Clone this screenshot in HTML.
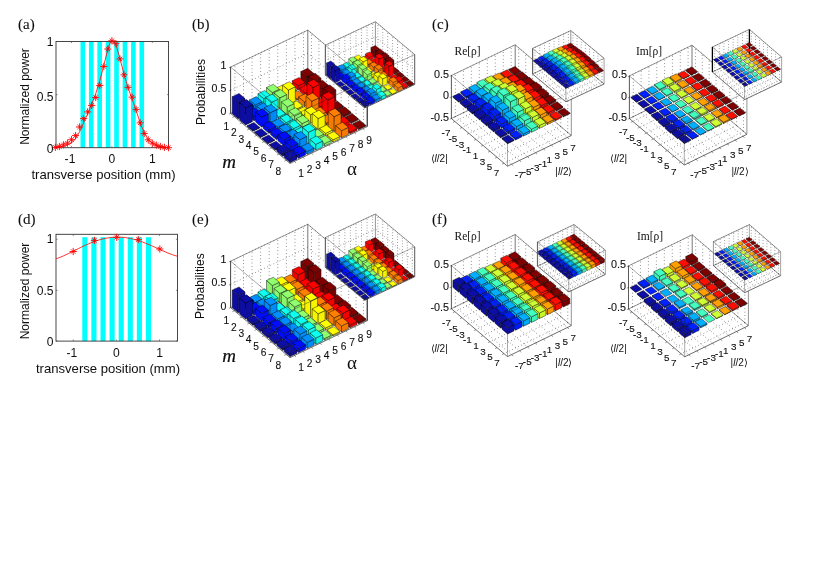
<!DOCTYPE html>
<html><head><meta charset="utf-8"><title>figure</title>
<style>html,body{margin:0;padding:0;background:#fff}svg{display:block}text{fill:#111}</style>
</head><body>
<svg width="830" height="587" viewBox="0 0 830 587">
<rect width="830" height="587" fill="#fff"/>
<defs><filter id="soft" x="0" y="0" width="830" height="587" filterUnits="userSpaceOnUse"><feGaussianBlur stdDeviation="0.38"/></filter></defs>
<g filter="url(#soft)">
<rect x="80.5" y="41.5" width="4.6" height="106.2" fill="#00ffff"/>
<rect x="88.93" y="41.5" width="4.6" height="106.2" fill="#00ffff"/>
<rect x="97.36" y="41.5" width="4.6" height="106.2" fill="#00ffff"/>
<rect x="105.79" y="41.5" width="4.6" height="106.2" fill="#00ffff"/>
<rect x="114.22" y="41.5" width="4.6" height="106.2" fill="#00ffff"/>
<rect x="122.65" y="41.5" width="4.6" height="106.2" fill="#00ffff"/>
<rect x="131.08" y="41.5" width="4.6" height="106.2" fill="#00ffff"/>
<rect x="139.51" y="41.5" width="4.6" height="106.2" fill="#00ffff"/>
<rect x="56" y="41.5" width="112.5" height="106.2" fill="none" stroke="#333" stroke-width="0.9"/>
<path d="M71.5 147.7v-1.6M71.5 41.5v1.6M111.9 147.7v-1.6M111.9 41.5v1.6M152.3 147.7v-1.6M152.3 41.5v1.6M56 41.5h1.6M168.5 41.5h-1.6M56 94.6h1.6M168.5 94.6h-1.6M56 147.7h1.6M168.5 147.7h-1.6" stroke="#444" stroke-width="0.6" fill="none"/>
<clipPath id="cp41"><rect x="56" y="38.5" width="113" height="112.2"/></clipPath>
<path d="M55.34 147.7L59.38 147.28L63.42 146.53L67.46 145.15L71.5 142.92L75.54 138.89L79.58 131.77L83.62 122.74L87.66 113.72L91.7 104.16L95.74 93.54L99.78 80.79L103.82 65.39L107.86 48.93L110.28 42.56L111.9 41.5L113.92 42.03L115.94 44.69L119.98 58.49L124.02 74.42L128.06 87.7L132.1 98.85L136.14 110.53L140.18 122.74L144.22 132.83L148.26 139.42L152.3 143.13L156.34 145.15L160.38 146.53L164.42 147.28L168.46 147.7" fill="none" stroke="#f00" stroke-width="0.8" clip-path="url(#cp41)"/>
<path d="M51.74 147.38L58.94 147.38M53.18 145.22L57.5 149.55M55.34 143.78L55.34 150.98M57.5 145.22L53.18 149.55M55.78 146.53L62.98 146.53M57.22 144.37L61.54 148.7M59.38 142.93L59.38 150.13M61.54 144.37L57.22 148.7M59.82 144.83L67.02 144.83M61.26 142.67L65.58 147M63.42 141.23L63.42 148.43M65.58 142.67L61.26 147M63.86 143.13L71.06 143.13M65.3 140.97L69.62 145.3M67.46 139.53L67.46 146.73M69.62 140.97L65.3 145.3M67.9 139.73L75.1 139.73M69.34 137.57L73.66 141.9M71.5 136.13L71.5 143.33M73.66 137.57L69.34 141.9M71.94 135.59L79.14 135.59M73.38 133.43L77.7 137.76M75.54 131.99L75.54 139.19M77.7 133.43L73.38 137.76M75.98 126.99L83.18 126.99M77.42 124.83L81.74 129.15M79.58 123.39L79.58 130.59M81.74 124.83L77.42 129.15M80.02 118.6L87.22 118.6M81.46 116.44L85.78 120.76M83.62 115L83.62 122.2M85.78 116.44L81.46 120.76M84.06 111.91L91.26 111.91M85.5 109.75L89.82 114.07M87.66 108.31L87.66 115.51M89.82 109.75L85.5 114.07M88.1 105.43L95.3 105.43M89.54 103.27L93.86 107.6M91.7 101.83L91.7 109.03M93.86 103.27L89.54 107.6M92.14 97.57L99.34 97.57M93.58 95.41L97.9 99.74M95.74 93.97L95.74 101.17M97.9 95.41L93.58 99.74M96.18 85.47L103.38 85.47M97.62 83.3L101.94 87.63M99.78 81.87L99.78 89.07M101.94 83.3L97.62 87.63M100.22 66.46L107.42 66.46M101.66 64.29L105.98 68.62M103.82 62.86L103.82 70.06M105.98 64.29L101.66 68.62M104.26 49.04L111.46 49.04M105.7 46.88L110.02 51.2M107.86 45.44L107.86 52.64M110.02 46.88L105.7 51.2M108.3 40.76L115.5 40.76M109.74 38.59L114.06 42.92M111.9 37.16L111.9 44.36M114.06 38.59L109.74 42.92M112.34 43.73L119.54 43.73M113.78 41.57L118.1 45.89M115.94 40.13L115.94 47.33M118.1 41.57L113.78 45.89M116.38 58.92L123.58 58.92M117.82 56.75L122.14 61.08M119.98 55.32L119.98 62.52M122.14 56.75L117.82 61.08M120.42 74.85L127.62 74.85M121.86 72.68L126.18 77.01M124.02 71.25L124.02 78.45M126.18 72.68L121.86 77.01M124.46 87.38L131.66 87.38M125.9 85.21L130.22 89.54M128.06 83.78L128.06 90.98M130.22 85.21L125.9 89.54M128.5 97.15L135.7 97.15M129.94 94.99L134.26 99.31M132.1 93.55L132.1 100.75M134.26 94.99L129.94 99.31M132.54 109.36L139.74 109.36M133.98 107.2L138.3 111.53M136.14 105.76L136.14 112.96M138.3 107.2L133.98 111.53M136.58 122.85L143.78 122.85M138.02 120.69L142.34 125.01M140.18 119.25L140.18 126.45M142.34 120.69L138.02 125.01M140.62 133.58L147.82 133.58M142.06 131.41L146.38 135.74M144.22 129.98L144.22 137.18M146.38 131.41L142.06 135.74M144.66 139.84L151.86 139.84M146.1 137.68L150.42 142M148.26 136.24L148.26 143.44M150.42 137.68L146.1 142M148.7 143.13L155.9 143.13M150.14 140.97L154.46 145.3M152.3 139.53L152.3 146.73M154.46 140.97L150.14 145.3M152.74 145.15L159.94 145.15M154.18 142.99L158.5 147.31M156.34 141.55L156.34 148.75M158.5 142.99L154.18 147.31M156.78 146.53L163.98 146.53M158.22 144.37L162.54 148.7M160.38 142.93L160.38 150.13M162.54 144.37L158.22 148.7M160.82 147.38L168.02 147.38M162.26 145.22L166.58 149.55M164.42 143.78L164.42 150.98M166.58 145.22L162.26 149.55M164.86 147.7L172.06 147.7M166.3 145.54L170.62 149.86M168.46 144.1L168.46 151.3M170.62 145.54L166.3 149.86" fill="none" stroke="#f00" stroke-width="0.9"/>
<text x="70" y="163" font-size="12.1" text-anchor="middle" font-family="'Liberation Sans',sans-serif" >-1</text>
<text x="111.9" y="163" font-size="12.1" text-anchor="middle" font-family="'Liberation Sans',sans-serif" >0</text>
<text x="152.3" y="163" font-size="12.1" text-anchor="middle" font-family="'Liberation Sans',sans-serif" >1</text>
<text x="53.5" y="46.4" font-size="12.1" text-anchor="end" font-family="'Liberation Sans',sans-serif" >1</text>
<text x="53.5" y="100.5" font-size="12.1" text-anchor="end" font-family="'Liberation Sans',sans-serif" >0.5</text>
<text x="53.5" y="152.6" font-size="12.1" text-anchor="end" font-family="'Liberation Sans',sans-serif" >0</text>
<text x="103.5" y="178.5" font-size="13.1" text-anchor="middle" font-family="'Liberation Sans',sans-serif" >transverse position (mm)</text>
<text x="28.5" y="96.5" font-size="12" text-anchor="middle" font-family="'Liberation Sans',sans-serif" transform="rotate(-90 28.5 96.5)" >Normalized power</text>
<rect x="82.3" y="237.2" width="5.1" height="103.9" fill="#00ffff"/>
<rect x="91.39" y="237.2" width="5.1" height="103.9" fill="#00ffff"/>
<rect x="100.48" y="237.2" width="5.1" height="103.9" fill="#00ffff"/>
<rect x="109.57" y="237.2" width="5.1" height="103.9" fill="#00ffff"/>
<rect x="118.66" y="237.2" width="5.1" height="103.9" fill="#00ffff"/>
<rect x="127.75" y="237.2" width="5.1" height="103.9" fill="#00ffff"/>
<rect x="136.84" y="237.2" width="5.1" height="103.9" fill="#00ffff"/>
<rect x="145.93" y="237.2" width="5.1" height="103.9" fill="#00ffff"/>
<rect x="56" y="234.3" width="121.5" height="106.8" fill="none" stroke="#333" stroke-width="0.9"/>
<path d="M73.3 341.1v-1.6M73.3 234.3v1.6M116.4 341.1v-1.6M116.4 234.3v1.6M159.5 341.1v-1.6M159.5 234.3v1.6M56 239.3h1.6M177.5 239.3h-1.6M56 290.3h1.6M177.5 290.3h-1.6M56 341.1h1.6M177.5 341.1h-1.6" stroke="#444" stroke-width="0.6" fill="none"/>
<clipPath id="cp234"><rect x="56" y="231.3" width="122" height="112.8"/></clipPath>
<path d="M56 258.83L58.48 257.94L60.96 256.95L63.44 255.88L65.92 254.74L68.4 253.56L70.88 252.34L73.36 251.11L75.84 249.86L78.32 248.63L80.8 247.41L83.28 246.22L85.76 245.08L88.23 243.98L90.71 242.93L93.19 241.96L95.67 241.06L98.15 240.24L100.63 239.5L103.11 238.86L105.59 238.31L108.07 237.86L110.55 237.51L113.03 237.26L115.51 237.12L117.99 237.09L120.47 237.16L122.95 237.33L125.43 237.61L127.91 237.99L130.39 238.47L132.87 239.04L135.35 239.7L137.83 240.44L140.31 241.25L142.79 242.14L145.27 243.09L147.74 244.1L150.22 245.15L152.7 246.23L155.18 247.34L157.66 248.46L160.14 249.59L162.62 250.7L165.1 251.78L167.58 252.83L170.06 253.81L172.54 254.73L175.02 255.56L177.5 256.28" fill="none" stroke="#f00" stroke-width="0.8" clip-path="url(#cp234)"/>
<path d="M69.6 251.5L76.8 251.5M71.04 249.34L75.36 253.66M73.2 247.9L73.2 255.1M75.36 249.34L71.04 253.66M90.9 240.4L98.1 240.4M92.34 238.24L96.66 242.56M94.5 236.8L94.5 244M96.66 238.24L92.34 242.56M113.1 237.4L120.3 237.4M114.54 235.24L118.86 239.56M116.7 233.8L116.7 241M118.86 235.24L114.54 239.56M134.7 239.6L141.9 239.6M136.14 237.44L140.46 241.76M138.3 236L138.3 243.2M140.46 237.44L136.14 241.76M156.2 249L163.4 249M157.64 246.84L161.96 251.16M159.8 245.4L159.8 252.6M161.96 246.84L157.64 251.16" fill="none" stroke="#f00" stroke-width="0.9"/>
<text x="71.8" y="356.5" font-size="12.1" text-anchor="middle" font-family="'Liberation Sans',sans-serif" >-1</text>
<text x="116.4" y="356.5" font-size="12.1" text-anchor="middle" font-family="'Liberation Sans',sans-serif" >0</text>
<text x="159.5" y="356.5" font-size="12.1" text-anchor="middle" font-family="'Liberation Sans',sans-serif" >1</text>
<text x="53.5" y="242.9" font-size="12.1" text-anchor="end" font-family="'Liberation Sans',sans-serif" >1</text>
<text x="53.5" y="295.4" font-size="12.1" text-anchor="end" font-family="'Liberation Sans',sans-serif" >0.5</text>
<text x="53.5" y="346" font-size="12.1" text-anchor="end" font-family="'Liberation Sans',sans-serif" >0</text>
<text x="108" y="373" font-size="13.1" text-anchor="middle" font-family="'Liberation Sans',sans-serif" >transverse position (mm)</text>
<text x="28.5" y="291" font-size="12" text-anchor="middle" font-family="'Liberation Sans',sans-serif" transform="rotate(-90 28.5 291)" >Normalized power</text>
<text x="18" y="29" font-size="15" text-anchor="start" font-family="'Liberation Serif',serif"  stroke="#000" stroke-width="0.1">(a)</text>
<text x="192" y="29" font-size="15" text-anchor="start" font-family="'Liberation Serif',serif"  stroke="#000" stroke-width="0.1">(b)</text>
<text x="432" y="29" font-size="15" text-anchor="start" font-family="'Liberation Serif',serif"  stroke="#000" stroke-width="0.1">(c)</text>
<text x="18" y="224.3" font-size="15" text-anchor="start" font-family="'Liberation Serif',serif"  stroke="#000" stroke-width="0.1">(d)</text>
<text x="192" y="224.3" font-size="15" text-anchor="start" font-family="'Liberation Serif',serif"  stroke="#000" stroke-width="0.1">(e)</text>
<text x="432" y="224.3" font-size="15" text-anchor="start" font-family="'Liberation Serif',serif"  stroke="#000" stroke-width="0.1">(f)</text>
<polygon points="230.6,113.45 290,163.45 367.2,126.55 367.2,80.15 307.8,30.15 230.6,67.05" fill="#fff" stroke="none"/>
<path d="M234.89 111.4L234.89 65M234.89 111.4L294.29 161.4M243.47 107.3L243.47 60.9M243.47 107.3L302.87 157.3M252.04 103.2L252.04 56.8M252.04 103.2L311.44 153.2M260.62 99.1L260.62 52.7M260.62 99.1L320.02 149.1M269.2 95L269.2 48.6M269.2 95L328.6 145M277.78 90.9L277.78 44.5M277.78 90.9L337.18 140.9M286.36 86.8L286.36 40.4M286.36 86.8L345.76 136.8M294.93 82.7L294.93 36.3M294.93 82.7L354.33 132.7M303.51 78.6L303.51 32.2M303.51 78.6L362.91 128.6M311.51 79.68L311.51 33.28M311.51 79.68L234.31 116.58M318.94 85.93L318.94 39.53M318.94 85.93L241.74 122.83M326.36 92.18L326.36 45.78M326.36 92.18L249.16 129.07M333.79 98.43L333.79 52.03M333.79 98.43L256.59 135.32M341.21 104.68L341.21 58.28M341.21 104.68L264.01 141.57M348.64 110.93L348.64 64.53M348.64 110.93L271.44 147.82M356.06 117.18L356.06 70.78M356.06 117.18L278.86 154.07M363.49 123.43L363.49 77.03M363.49 123.43L286.29 160.32M230.6 113.45L307.8 76.55L367.2 126.55M230.6 90.25L307.8 53.35L367.2 103.35M230.6 67.05L307.8 30.15L367.2 80.15" fill="none" stroke="#000" stroke-width="0.6" stroke-dasharray="0.7 2.7"/>
<path d="M230.6 67.05L307.8 30.15M307.8 30.15L367.2 80.15M230.6 113.45L307.8 76.55M307.8 76.55L367.2 126.55" fill="none" stroke="#4a4a4a" stroke-width="0.57"/>
<path d="M230.6 113.45L290 163.45M290 163.45L367.2 126.55" fill="none" stroke="#222" stroke-width="0.66"/>
<path d="M230.6 113.45L230.6 67.05" fill="none" stroke="#111" stroke-width="0.8"/>
<path d="M367.2 126.55L367.2 80.15" fill="none" stroke="#000" stroke-width="1.0"/>
<path d="M307.8 76.55L307.8 30.15" fill="none" stroke="#555" stroke-width="0.8"/>
<path d="M234.31 116.58l-1.98 0.95M241.74 122.83l-1.98 0.95M249.16 129.07l-1.98 0.95M256.59 135.32l-1.98 0.95M264.01 141.57l-1.98 0.95M271.44 147.82l-1.98 0.95M278.86 154.07l-1.98 0.95M286.29 160.32l-1.98 0.95M294.29 161.4l1.68 1.42M302.87 157.3l1.68 1.42M311.44 153.2l1.68 1.42M320.02 149.1l1.68 1.42M328.6 145l1.68 1.42M337.18 140.9l1.68 1.42M345.76 136.8l1.68 1.42M354.33 132.7l1.68 1.42M362.91 128.6l1.68 1.42M230.6 113.45l-1.59 0.76M230.6 90.25l-1.59 0.76M230.6 67.05l-1.59 0.76" fill="none" stroke="#333" stroke-width="0.5"/>
<g stroke="#000" stroke-opacity="0.85" stroke-width="0.5" stroke-linejoin="round">
<polygon points="300.82,71.59 306.76,76.59 306.76,85.87 300.82,80.87" fill="#7a0000"/>
<polygon points="306.76,76.59 313.62,73.31 313.62,82.59 306.76,85.87" fill="#7a0000"/>
<polygon points="300.82,71.59 307.68,68.31 313.62,73.31 306.76,76.59" fill="#800000"/>
<polygon points="292.24,80.79 298.18,85.79 298.18,89.97 292.24,84.97" fill="#f50000"/>
<polygon points="298.18,85.79 305.05,82.51 305.05,86.69 298.18,89.97" fill="#f50000"/>
<polygon points="292.24,80.79 299.11,77.51 305.05,82.51 298.18,85.79" fill="#ff0000"/>
<polygon points="283.67,88.14 289.61,93.14 289.61,94.07 283.67,89.07" fill="#f57a00"/>
<polygon points="289.61,93.14 296.47,89.86 296.47,90.78 289.61,94.07" fill="#f57a00"/>
<polygon points="283.67,88.14 290.53,84.86 296.47,89.86 289.61,93.14" fill="#ff8000"/>
<polygon points="275.09,88.53 281.03,93.53 281.03,98.17 275.09,93.17" fill="#f5f500"/>
<polygon points="281.03,93.53 287.89,90.25 287.89,94.89 281.03,98.17" fill="#f5f500"/>
<polygon points="275.09,88.53 281.95,85.25 287.89,90.25 281.03,93.53" fill="#ffff00"/>
<polygon points="266.51,87.52 272.45,92.52 272.45,102.27 266.51,97.27" fill="#8af56b"/>
<polygon points="272.45,92.52 279.31,89.24 279.31,98.98 272.45,102.27" fill="#8af56b"/>
<polygon points="266.51,87.52 273.37,84.24 279.31,89.24 272.45,92.52" fill="#8fff70"/>
<polygon points="257.93,93.71 263.87,98.71 263.87,106.37 257.93,101.37" fill="#0ff5e5"/>
<polygon points="263.87,98.71 270.74,95.43 270.74,103.09 263.87,106.37" fill="#0ff5e5"/>
<polygon points="257.93,93.71 264.8,90.43 270.74,95.43 263.87,98.71" fill="#10ffef"/>
<polygon points="249.36,99.9 255.3,104.9 255.3,110.47 249.36,105.47" fill="#008af5"/>
<polygon points="255.3,104.9 262.16,101.62 262.16,107.19 255.3,110.47" fill="#008af5"/>
<polygon points="249.36,99.9 256.22,96.62 262.16,101.62 255.3,104.9" fill="#008fff"/>
<polygon points="240.78,104 246.72,109 246.72,114.56 240.78,109.56" fill="#000ff5"/>
<polygon points="246.72,109 253.58,105.72 253.58,111.28 246.72,114.56" fill="#000ff5"/>
<polygon points="240.78,104 247.64,100.72 253.58,105.72 246.72,109" fill="#0010ff"/>
<polygon points="232.2,96.73 238.14,101.73 238.14,118.67 232.2,113.67" fill="#0f0fa2"/>
<polygon points="238.14,101.73 245,98.45 245,115.39 238.14,118.67" fill="#0f0fa2"/>
<polygon points="232.2,96.73 239.06,93.45 245,98.45 238.14,101.73" fill="#0f0fa8"/>
<polygon points="308.25,76.44 314.19,81.44 314.19,92.12 308.25,87.12" fill="#7a0000"/>
<polygon points="314.19,81.44 321.05,78.16 321.05,88.84 314.19,92.12" fill="#7a0000"/>
<polygon points="308.25,76.44 315.11,73.16 321.05,78.16 314.19,81.44" fill="#800000"/>
<polygon points="299.67,88.2 305.61,93.2 305.61,96.22 299.67,91.22" fill="#f50000"/>
<polygon points="305.61,93.2 312.47,89.92 312.47,92.94 305.61,96.22" fill="#f50000"/>
<polygon points="299.67,88.2 306.53,84.92 312.47,89.92 305.61,93.2" fill="#ff0000"/>
<polygon points="291.09,93.92 297.03,98.92 297.03,100.32 291.09,95.32" fill="#f57a00"/>
<polygon points="297.03,98.92 303.89,95.64 303.89,97.03 297.03,100.32" fill="#f57a00"/>
<polygon points="291.09,93.92 297.95,90.64 303.89,95.64 297.03,98.92" fill="#ff8000"/>
<polygon points="282.51,85.03 288.45,90.03 288.45,104.42 282.51,99.42" fill="#f5f500"/>
<polygon points="288.45,90.03 295.32,86.75 295.32,101.14 288.45,104.42" fill="#f5f500"/>
<polygon points="282.51,85.03 289.38,81.75 295.32,86.75 288.45,90.03" fill="#ffff00"/>
<polygon points="273.94,92.84 279.88,97.84 279.88,108.52 273.94,103.52" fill="#8af56b"/>
<polygon points="279.88,97.84 286.74,94.56 286.74,105.23 279.88,108.52" fill="#8af56b"/>
<polygon points="273.94,92.84 280.8,89.56 286.74,94.56 279.88,97.84" fill="#8fff70"/>
<polygon points="265.36,97.41 271.3,102.41 271.3,112.62 265.36,107.62" fill="#0ff5e5"/>
<polygon points="271.3,102.41 278.16,99.13 278.16,109.34 271.3,112.62" fill="#0ff5e5"/>
<polygon points="265.36,97.41 272.22,94.13 278.16,99.13 271.3,102.41" fill="#10ffef"/>
<polygon points="256.78,106.15 262.72,111.15 262.72,116.72 256.78,111.72" fill="#008af5"/>
<polygon points="262.72,111.15 269.58,107.87 269.58,113.44 262.72,116.72" fill="#008af5"/>
<polygon points="256.78,106.15 263.64,102.87 269.58,107.87 262.72,111.15" fill="#008fff"/>
<polygon points="248.2,111.17 254.14,116.17 254.14,120.81 248.2,115.81" fill="#000ff5"/>
<polygon points="254.14,116.17 261.01,112.89 261.01,117.53 254.14,120.81" fill="#000ff5"/>
<polygon points="248.2,111.17 255.07,107.89 261.01,112.89 254.14,116.17" fill="#0010ff"/>
<polygon points="239.63,102.75 245.57,107.75 245.57,124.92 239.63,119.92" fill="#0f0fa2"/>
<polygon points="245.57,107.75 252.43,104.47 252.43,121.64 245.57,124.92" fill="#0f0fa2"/>
<polygon points="239.63,102.75 246.49,99.47 252.43,104.47 245.57,107.75" fill="#0f0fa8"/>
<polygon points="315.67,83.62 321.61,88.62 321.61,98.37 315.67,93.37" fill="#7a0000"/>
<polygon points="321.61,88.62 328.47,85.34 328.47,95.09 321.61,98.37" fill="#7a0000"/>
<polygon points="315.67,83.62 322.53,80.34 328.47,85.34 321.61,88.62" fill="#800000"/>
<polygon points="307.09,82.62 313.03,87.62 313.03,102.47 307.09,97.47" fill="#f50000"/>
<polygon points="313.03,87.62 319.9,84.34 319.9,99.19 313.03,102.47" fill="#f50000"/>
<polygon points="307.09,82.62 313.96,79.34 319.9,84.34 313.03,87.62" fill="#ff0000"/>
<polygon points="298.52,96.93 304.46,101.93 304.46,106.57 298.52,101.57" fill="#f57a00"/>
<polygon points="304.46,101.93 311.32,98.64 311.32,103.28 304.46,106.57" fill="#f57a00"/>
<polygon points="298.52,96.93 305.38,93.64 311.32,98.64 304.46,101.93" fill="#ff8000"/>
<polygon points="289.94,104.27 295.88,109.27 295.88,110.67 289.94,105.67" fill="#f5f500"/>
<polygon points="295.88,109.27 302.74,105.99 302.74,107.39 295.88,110.67" fill="#f5f500"/>
<polygon points="289.94,104.27 296.8,100.99 302.74,105.99 295.88,109.27" fill="#ffff00"/>
<polygon points="281.36,101.88 287.3,106.88 287.3,114.77 281.36,109.77" fill="#8af56b"/>
<polygon points="287.3,106.88 294.16,103.6 294.16,111.48 287.3,114.77" fill="#8af56b"/>
<polygon points="281.36,101.88 288.22,98.6 294.16,103.6 287.3,106.88" fill="#8fff70"/>
<polygon points="272.78,112.01 278.72,117.01 278.72,118.87 272.78,113.87" fill="#0ff5e5"/>
<polygon points="278.72,117.01 285.59,113.73 285.59,115.59 278.72,118.87" fill="#0ff5e5"/>
<polygon points="272.78,112.01 279.65,108.73 285.59,113.73 278.72,117.01" fill="#10ffef"/>
<polygon points="264.21,107.76 270.15,112.76 270.15,122.97 264.21,117.97" fill="#008af5"/>
<polygon points="270.15,112.76 277.01,109.48 277.01,119.69 270.15,122.97" fill="#008af5"/>
<polygon points="264.21,107.76 271.07,104.48 277.01,109.48 270.15,112.76" fill="#008fff"/>
<polygon points="255.63,112.09 261.57,117.09 261.57,127.06 255.63,122.06" fill="#000ff5"/>
<polygon points="261.57,117.09 268.43,113.81 268.43,123.78 261.57,127.06" fill="#000ff5"/>
<polygon points="255.63,112.09 262.49,108.81 268.43,113.81 261.57,117.09" fill="#0010ff"/>
<polygon points="247.05,125.7 252.99,130.7 252.99,131.17 247.05,126.17" fill="#0f0fa2"/>
<polygon points="252.99,130.7 259.85,127.42 259.85,127.89 252.99,131.17" fill="#0f0fa2"/>
<polygon points="247.05,125.7 253.91,122.42 259.85,127.42 252.99,130.7" fill="#0f0fa8"/>
<polygon points="323.1,88.25 329.04,93.25 329.04,104.62 323.1,99.62" fill="#7a0000"/>
<polygon points="329.04,93.25 335.9,89.97 335.9,101.34 329.04,104.62" fill="#7a0000"/>
<polygon points="323.1,88.25 329.96,84.97 335.9,89.97 329.04,93.25" fill="#800000"/>
<polygon points="314.52,101.4 320.46,106.4 320.46,108.72 314.52,103.72" fill="#f50000"/>
<polygon points="320.46,106.4 327.32,103.12 327.32,105.44 320.46,108.72" fill="#f50000"/>
<polygon points="314.52,101.4 321.38,98.12 327.32,103.12 320.46,106.4" fill="#ff0000"/>
<polygon points="305.94,96.22 311.88,101.22 311.88,112.82 305.94,107.82" fill="#f57a00"/>
<polygon points="311.88,101.22 318.74,97.94 318.74,109.53 311.88,112.82" fill="#f57a00"/>
<polygon points="305.94,96.22 312.8,92.94 318.74,97.94 311.88,101.22" fill="#ff8000"/>
<polygon points="297.36,110.06 303.3,115.06 303.3,116.92 297.36,111.92" fill="#f5f500"/>
<polygon points="303.3,115.06 310.17,111.78 310.17,113.64 303.3,116.92" fill="#f5f500"/>
<polygon points="297.36,110.06 304.23,106.78 310.17,111.78 303.3,115.06" fill="#ffff00"/>
<polygon points="288.79,110.91 294.73,115.91 294.73,121.02 288.79,116.02" fill="#8af56b"/>
<polygon points="294.73,115.91 301.59,112.63 301.59,117.73 294.73,121.02" fill="#8af56b"/>
<polygon points="288.79,110.91 295.65,107.63 301.59,112.63 294.73,115.91" fill="#8fff70"/>
<polygon points="280.21,117.56 286.15,122.56 286.15,125.12 280.21,120.12" fill="#0ff5e5"/>
<polygon points="286.15,122.56 293.01,119.28 293.01,121.84 286.15,125.12" fill="#0ff5e5"/>
<polygon points="280.21,117.56 287.07,114.28 293.01,119.28 286.15,122.56" fill="#10ffef"/>
<polygon points="271.63,122.13 277.57,127.13 277.57,129.22 271.63,124.22" fill="#008af5"/>
<polygon points="277.57,127.13 284.43,123.85 284.43,125.94 277.57,129.22" fill="#008af5"/>
<polygon points="271.63,122.13 278.49,118.85 284.43,123.85 277.57,127.13" fill="#008fff"/>
<polygon points="263.05,124.6 268.99,129.6 268.99,133.31 263.05,128.31" fill="#000ff5"/>
<polygon points="268.99,129.6 275.86,126.32 275.86,130.03 268.99,133.31" fill="#000ff5"/>
<polygon points="263.05,124.6 269.92,121.32 275.86,126.32 268.99,129.6" fill="#0010ff"/>
<polygon points="254.48,131.95 260.42,136.95 260.42,137.42 254.48,132.42" fill="#0f0fa2"/>
<polygon points="260.42,136.95 267.28,133.67 267.28,134.13 260.42,137.42" fill="#0f0fa2"/>
<polygon points="254.48,131.95 261.34,128.67 267.28,133.67 260.42,136.95" fill="#0f0fa8"/>
<polygon points="330.52,104.47 336.46,109.47 336.46,110.87 330.52,105.87" fill="#7a0000"/>
<polygon points="336.46,109.47 343.32,106.19 343.32,107.59 336.46,110.87" fill="#7a0000"/>
<polygon points="330.52,104.47 337.38,101.19 343.32,106.19 336.46,109.47" fill="#800000"/>
<polygon points="321.94,95.12 327.88,100.12 327.88,114.97 321.94,109.97" fill="#f50000"/>
<polygon points="327.88,100.12 334.75,96.84 334.75,111.69 327.88,114.97" fill="#f50000"/>
<polygon points="321.94,95.12 328.81,91.84 334.75,96.84 327.88,100.12" fill="#ff0000"/>
<polygon points="313.37,110.35 319.31,115.35 319.31,119.07 313.37,114.07" fill="#f57a00"/>
<polygon points="319.31,115.35 326.17,112.07 326.17,115.78 319.31,119.07" fill="#f57a00"/>
<polygon points="313.37,110.35 320.23,107.07 326.17,112.07 319.31,115.35" fill="#ff8000"/>
<polygon points="304.79,109.81 310.73,114.81 310.73,123.17 304.79,118.17" fill="#f5f500"/>
<polygon points="310.73,114.81 317.59,111.53 317.59,119.89 310.73,123.17" fill="#f5f500"/>
<polygon points="304.79,109.81 311.65,106.53 317.59,111.53 310.73,114.81" fill="#ffff00"/>
<polygon points="296.21,118.55 302.15,123.55 302.15,127.27 296.21,122.27" fill="#8af56b"/>
<polygon points="302.15,123.55 309.01,120.27 309.01,123.98 302.15,127.27" fill="#8af56b"/>
<polygon points="296.21,118.55 303.07,115.27 309.01,120.27 302.15,123.55" fill="#8fff70"/>
<polygon points="287.63,123.58 293.57,128.58 293.57,131.37 287.63,126.37" fill="#0ff5e5"/>
<polygon points="293.57,128.58 300.44,125.3 300.44,128.09 293.57,131.37" fill="#0ff5e5"/>
<polygon points="287.63,123.58 294.5,120.3 300.44,125.3 293.57,128.58" fill="#10ffef"/>
<polygon points="279.06,127.22 285,132.22 285,135.47 279.06,130.47" fill="#008af5"/>
<polygon points="285,132.22 291.86,128.94 291.86,132.19 285,135.47" fill="#008af5"/>
<polygon points="279.06,127.22 285.92,123.94 291.86,128.94 285,132.22" fill="#008fff"/>
<polygon points="270.48,131.32 276.42,136.32 276.42,139.56 270.48,134.56" fill="#000ff5"/>
<polygon points="276.42,136.32 283.28,133.04 283.28,136.28 276.42,139.56" fill="#000ff5"/>
<polygon points="270.48,131.32 277.34,128.04 283.28,133.04 276.42,136.32" fill="#0010ff"/>
<polygon points="261.9,138.2 267.84,143.2 267.84,143.67 261.9,138.66" fill="#0f0fa2"/>
<polygon points="267.84,143.2 274.7,139.92 274.7,140.39 267.84,143.67" fill="#0f0fa2"/>
<polygon points="261.9,138.2 268.76,134.92 274.7,139.92 267.84,143.2" fill="#0f0fa8"/>
<polygon points="337.95,110.26 343.89,115.26 343.89,117.12 337.95,112.12" fill="#7a0000"/>
<polygon points="343.89,115.26 350.75,111.98 350.75,113.84 343.89,117.12" fill="#7a0000"/>
<polygon points="337.95,110.26 344.81,106.98 350.75,111.98 343.89,115.26" fill="#800000"/>
<polygon points="329.37,113.9 335.31,118.9 335.31,121.22 329.37,116.22" fill="#f50000"/>
<polygon points="335.31,118.9 342.17,115.62 342.17,117.94 335.31,121.22" fill="#f50000"/>
<polygon points="329.37,113.9 336.23,110.62 342.17,115.62 335.31,118.9" fill="#ff0000"/>
<polygon points="320.79,118 326.73,123 326.73,125.32 320.79,120.32" fill="#f57a00"/>
<polygon points="326.73,123 333.59,119.72 333.59,122.03 326.73,125.32" fill="#f57a00"/>
<polygon points="320.79,118 327.65,114.72 333.59,119.72 326.73,123" fill="#ff8000"/>
<polygon points="312.21,113.51 318.15,118.51 318.15,129.42 312.21,124.42" fill="#f5f500"/>
<polygon points="318.15,118.51 325.02,115.23 325.02,126.14 318.15,129.42" fill="#f5f500"/>
<polygon points="312.21,113.51 319.08,110.23 325.02,115.23 318.15,118.51" fill="#ffff00"/>
<polygon points="303.64,126.66 309.58,131.66 309.58,133.51 303.64,128.51" fill="#8af56b"/>
<polygon points="309.58,131.66 316.44,128.38 316.44,130.24 309.58,133.51" fill="#8af56b"/>
<polygon points="303.64,126.66 310.5,123.38 316.44,128.38 309.58,131.66" fill="#8fff70"/>
<polygon points="295.06,130.3 301,135.3 301,137.62 295.06,132.62" fill="#0ff5e5"/>
<polygon points="301,135.3 307.86,132.02 307.86,134.34 301,137.62" fill="#0ff5e5"/>
<polygon points="295.06,130.3 301.92,127.02 307.86,132.02 301,135.3" fill="#10ffef"/>
<polygon points="286.48,132.54 292.42,137.54 292.42,141.72 286.48,136.72" fill="#008af5"/>
<polygon points="292.42,137.54 299.28,134.26 299.28,138.44 292.42,141.72" fill="#008af5"/>
<polygon points="286.48,132.54 293.34,129.26 299.28,134.26 292.42,137.54" fill="#008fff"/>
<polygon points="277.9,134.78 283.84,139.78 283.84,145.81 277.9,140.81" fill="#000ff5"/>
<polygon points="283.84,139.78 290.71,136.5 290.71,142.53 283.84,145.81" fill="#000ff5"/>
<polygon points="277.9,134.78 284.77,131.5 290.71,136.5 283.84,139.78" fill="#0010ff"/>
<polygon points="269.33,144.45 275.27,149.45 275.27,149.92 269.33,144.91" fill="#0f0fa2"/>
<polygon points="275.27,149.45 282.13,146.17 282.13,146.63 275.27,149.92" fill="#0f0fa2"/>
<polygon points="269.33,144.45 276.19,141.17 282.13,146.17 275.27,149.45" fill="#0f0fa8"/>
<polygon points="345.37,116.97 351.31,121.97 351.31,123.37 345.37,118.37" fill="#7a0000"/>
<polygon points="351.31,121.97 358.17,118.69 358.17,120.09 351.31,123.37" fill="#7a0000"/>
<polygon points="345.37,116.97 352.23,113.69 358.17,118.69 351.31,121.97" fill="#800000"/>
<polygon points="336.79,119.68 342.73,124.68 342.73,127.47 336.79,122.47" fill="#f50000"/>
<polygon points="342.73,124.68 349.6,121.4 349.6,124.19 342.73,127.47" fill="#f50000"/>
<polygon points="336.79,119.68 343.66,116.4 349.6,121.4 342.73,124.68" fill="#ff0000"/>
<polygon points="328.22,111.72 334.16,116.72 334.16,131.56 328.22,126.57" fill="#f57a00"/>
<polygon points="334.16,116.72 341.02,113.44 341.02,128.28 334.16,131.56" fill="#f57a00"/>
<polygon points="328.22,111.72 335.08,108.44 341.02,113.44 334.16,116.72" fill="#ff8000"/>
<polygon points="319.64,128.35 325.58,133.35 325.58,135.67 319.64,130.67" fill="#f5f500"/>
<polygon points="325.58,133.35 332.44,130.06 332.44,132.38 325.58,135.67" fill="#f5f500"/>
<polygon points="319.64,128.35 326.5,125.07 332.44,130.06 325.58,133.35" fill="#ffff00"/>
<polygon points="311.06,132.44 317,137.44 317,139.76 311.06,134.76" fill="#8af56b"/>
<polygon points="317,137.44 323.86,134.17 323.86,136.49 317,139.76" fill="#8af56b"/>
<polygon points="311.06,132.44 317.92,129.17 323.86,134.17 317,137.44" fill="#8fff70"/>
<polygon points="302.48,127.27 308.42,132.27 308.42,143.87 302.48,138.87" fill="#0ff5e5"/>
<polygon points="308.42,132.27 315.29,128.99 315.29,140.59 308.42,143.87" fill="#0ff5e5"/>
<polygon points="302.48,127.27 309.35,123.99 315.29,128.99 308.42,132.27" fill="#10ffef"/>
<polygon points="293.91,134.61 299.85,139.61 299.85,147.97 293.91,142.97" fill="#008af5"/>
<polygon points="299.85,139.61 306.71,136.33 306.71,144.69 299.85,147.97" fill="#008af5"/>
<polygon points="293.91,134.61 300.77,131.33 306.71,136.33 299.85,139.61" fill="#008fff"/>
<polygon points="285.33,141.73 291.27,146.73 291.27,152.06 285.33,147.06" fill="#000ff5"/>
<polygon points="291.27,146.73 298.13,143.45 298.13,148.78 291.27,152.06" fill="#000ff5"/>
<polygon points="285.33,141.73 292.19,138.45 298.13,143.45 291.27,146.73" fill="#0010ff"/>
<polygon points="276.75,147.92 282.69,152.92 282.69,156.17 276.75,151.17" fill="#0f0fa2"/>
<polygon points="282.69,152.92 289.55,149.64 289.55,152.88 282.69,156.17" fill="#0f0fa2"/>
<polygon points="276.75,147.92 283.61,144.64 289.55,149.64 282.69,152.92" fill="#0f0fa8"/>
<polygon points="352.8,123.69 358.74,128.69 358.74,129.62 352.8,124.62" fill="#7a0000"/>
<polygon points="358.74,128.69 365.6,125.41 365.6,126.34 358.74,129.62" fill="#7a0000"/>
<polygon points="352.8,123.69 359.66,120.41 365.6,125.41 358.74,128.69" fill="#800000"/>
<polygon points="344.22,126.86 350.16,131.86 350.16,133.72 344.22,128.72" fill="#f50000"/>
<polygon points="350.16,131.86 357.02,128.58 357.02,130.44 350.16,133.72" fill="#f50000"/>
<polygon points="344.22,126.86 351.08,123.58 357.02,128.58 350.16,131.86" fill="#ff0000"/>
<polygon points="335.64,125.62 341.58,130.62 341.58,137.81 335.64,132.81" fill="#f57a00"/>
<polygon points="341.58,130.62 348.44,127.34 348.44,134.53 341.58,137.81" fill="#f57a00"/>
<polygon points="335.64,125.62 342.5,122.34 348.44,127.34 341.58,130.62" fill="#ff8000"/>
<polygon points="327.06,134.83 333,139.83 333,141.92 327.06,136.92" fill="#f5f500"/>
<polygon points="333,139.83 339.87,136.55 339.87,138.63 333,141.92" fill="#f5f500"/>
<polygon points="327.06,134.83 333.93,131.55 339.87,136.55 333,139.83" fill="#ffff00"/>
<polygon points="318.49,138.69 324.43,143.69 324.43,146.01 318.49,141.01" fill="#8af56b"/>
<polygon points="324.43,143.69 331.29,140.42 331.29,142.74 324.43,146.01" fill="#8af56b"/>
<polygon points="318.49,138.69 325.35,135.42 331.29,140.42 324.43,143.69" fill="#8fff70"/>
<polygon points="309.91,139.31 315.85,144.31 315.85,150.12 309.91,145.12" fill="#0ff5e5"/>
<polygon points="315.85,144.31 322.71,141.03 322.71,146.84 315.85,150.12" fill="#0ff5e5"/>
<polygon points="309.91,139.31 316.77,136.03 322.71,141.03 315.85,144.31" fill="#10ffef"/>
<polygon points="301.33,146.43 307.27,151.43 307.27,154.22 301.33,149.22" fill="#008af5"/>
<polygon points="307.27,151.43 314.13,148.15 314.13,150.94 307.27,154.22" fill="#008af5"/>
<polygon points="301.33,146.43 308.19,143.15 314.13,148.15 307.27,151.43" fill="#008fff"/>
<polygon points="292.75,149.37 298.69,154.37 298.69,158.31 292.75,153.31" fill="#000ff5"/>
<polygon points="298.69,154.37 305.56,151.09 305.56,155.03 298.69,158.31" fill="#000ff5"/>
<polygon points="292.75,149.37 299.62,146.09 305.56,151.09 298.69,154.37" fill="#0010ff"/>
<polygon points="284.18,153.7 290.12,158.7 290.12,162.42 284.18,157.42" fill="#0f0fa2"/>
<polygon points="290.12,158.7 296.98,155.42 296.98,159.13 290.12,162.42" fill="#0f0fa2"/>
<polygon points="284.18,153.7 291.04,150.42 296.98,155.42 290.12,158.7" fill="#0f0fa8"/>
</g>
<path d="M230.6 67.05L290 117.05M290 117.05L367.2 80.15M290 163.45L290 117.05" fill="none" stroke="#222" stroke-opacity="0.8" stroke-width="0.48"/>
<polygon points="325.4,75.2 364.7,108 414.7,84.5 414.7,54.5 375.4,21.7 325.4,45.2" fill="#fff" stroke="none"/>
<path d="M328.18 73.89L328.18 43.89M328.18 73.89L367.48 106.69M333.73 71.28L333.73 41.28M333.73 71.28L373.03 104.08M339.29 68.67L339.29 38.67M339.29 68.67L378.59 101.47M344.84 66.06L344.84 36.06M344.84 66.06L384.14 98.86M350.4 63.45L350.4 33.45M350.4 63.45L389.7 96.25M355.96 60.84L355.96 30.84M355.96 60.84L395.26 93.64M361.51 58.23L361.51 28.23M361.51 58.23L400.81 91.03M367.07 55.62L367.07 25.62M367.07 55.62L406.37 88.42M372.62 53.01L372.62 23.01M372.62 53.01L411.92 85.81M377.86 53.75L377.86 23.75M377.86 53.75L327.86 77.25M382.77 57.85L382.77 27.85M382.77 57.85L332.77 81.35M387.68 61.95L387.68 31.95M387.68 61.95L337.68 85.45M392.59 66.05L392.59 36.05M392.59 66.05L342.59 89.55M397.51 70.15L397.51 40.15M397.51 70.15L347.51 93.65M402.42 74.25L402.42 44.25M402.42 74.25L352.42 97.75M407.33 78.35L407.33 48.35M407.33 78.35L357.33 101.85M412.24 82.45L412.24 52.45M412.24 82.45L362.24 105.95M325.4 75.2L375.4 51.7L414.7 84.5M325.4 60.2L375.4 36.7L414.7 69.5M325.4 45.2L375.4 21.7L414.7 54.5" fill="none" stroke="#000" stroke-width="0.6" stroke-dasharray="0.6 2.2"/>
<path d="M325.4 45.2L375.4 21.7M375.4 21.7L414.7 54.5M325.4 75.2L375.4 51.7M375.4 51.7L414.7 84.5" fill="none" stroke="#4a4a4a" stroke-width="0.57"/>
<path d="M325.4 75.2L364.7 108M364.7 108L414.7 84.5" fill="none" stroke="#222" stroke-width="0.66"/>
<path d="M325.4 75.2L325.4 45.2" fill="none" stroke="#666" stroke-width="1.2"/>
<path d="M414.7 84.5L414.7 54.5" fill="none" stroke="#111" stroke-width="0.7"/>
<path d="M375.4 51.7L375.4 21.7" fill="none" stroke="#888" stroke-width="0.9"/>
<g stroke="#000" stroke-opacity="0.85" stroke-width="0.4" stroke-linejoin="round">
<polygon points="370.89,47.56 374.82,50.84 374.82,57.74 370.89,54.46" fill="#7a0000"/>
<polygon points="374.82,50.84 379.27,48.75 379.27,55.65 374.82,57.74" fill="#7a0000"/>
<polygon points="370.89,47.56 375.34,45.47 379.27,48.75 374.82,50.84" fill="#800000"/>
<polygon points="365.34,54.07 369.27,57.35 369.27,60.35 365.34,57.07" fill="#f50000"/>
<polygon points="369.27,57.35 373.71,55.26 373.71,58.26 369.27,60.35" fill="#f50000"/>
<polygon points="365.34,54.07 369.78,51.98 373.71,55.26 369.27,57.35" fill="#ff0000"/>
<polygon points="359.78,58.18 363.71,61.46 363.71,62.96 359.78,59.68" fill="#f57a00"/>
<polygon points="363.71,61.46 368.15,59.37 368.15,60.87 363.71,62.96" fill="#f57a00"/>
<polygon points="359.78,58.18 364.22,56.09 368.15,59.37 363.71,61.46" fill="#ff8000"/>
<polygon points="354.22,57.04 358.15,60.32 358.15,65.57 354.22,62.29" fill="#f5f500"/>
<polygon points="358.15,60.32 362.6,58.23 362.6,63.48 358.15,65.57" fill="#f5f500"/>
<polygon points="354.22,57.04 358.67,54.95 362.6,58.23 358.15,60.32" fill="#ffff00"/>
<polygon points="348.67,58.9 352.6,62.18 352.6,68.18 348.67,64.9" fill="#8af56b"/>
<polygon points="352.6,62.18 357.04,60.1 357.04,66.1 352.6,68.18" fill="#8af56b"/>
<polygon points="348.67,58.9 353.11,56.82 357.04,60.1 352.6,62.18" fill="#8fff70"/>
<polygon points="343.11,64.07 347.04,67.35 347.04,70.8 343.11,67.52" fill="#0ff5e5"/>
<polygon points="347.04,67.35 351.49,65.26 351.49,68.71 347.04,70.8" fill="#0ff5e5"/>
<polygon points="343.11,64.07 347.56,61.98 351.49,65.26 347.04,67.35" fill="#10ffef"/>
<polygon points="337.56,66.53 341.49,69.81 341.49,73.41 337.56,70.13" fill="#008af5"/>
<polygon points="341.49,69.81 345.93,67.72 345.93,71.32 341.49,73.41" fill="#008af5"/>
<polygon points="337.56,66.53 342,64.44 345.93,67.72 341.49,69.81" fill="#008fff"/>
<polygon points="332,69.14 335.93,72.42 335.93,76.02 332,72.74" fill="#000ff5"/>
<polygon points="335.93,72.42 340.38,70.33 340.38,73.93 335.93,76.02" fill="#000ff5"/>
<polygon points="332,69.14 336.45,67.05 340.38,70.33 335.93,72.42" fill="#0010ff"/>
<polygon points="326.45,63.05 330.38,66.33 330.38,78.63 326.45,75.35" fill="#0f0fa2"/>
<polygon points="330.38,66.33 334.82,64.24 334.82,76.54 330.38,78.63" fill="#0f0fa2"/>
<polygon points="326.45,63.05 330.89,60.96 334.82,64.24 330.38,66.33" fill="#0f0fa8"/>
<polygon points="375.8,51.06 379.73,54.34 379.73,61.84 375.8,58.56" fill="#7a0000"/>
<polygon points="379.73,54.34 384.18,52.25 384.18,59.75 379.73,61.84" fill="#7a0000"/>
<polygon points="375.8,51.06 380.25,48.97 384.18,52.25 379.73,54.34" fill="#800000"/>
<polygon points="370.25,60.27 374.18,63.55 374.18,64.45 370.25,61.17" fill="#f50000"/>
<polygon points="374.18,63.55 378.62,61.46 378.62,62.36 374.18,64.45" fill="#f50000"/>
<polygon points="370.25,60.27 374.69,58.18 378.62,61.46 374.18,63.55" fill="#ff0000"/>
<polygon points="364.69,61.08 368.62,64.36 368.62,67.06 364.69,63.78" fill="#f57a00"/>
<polygon points="368.62,64.36 373.07,62.27 373.07,64.97 368.62,67.06" fill="#f57a00"/>
<polygon points="364.69,61.08 369.14,58.99 373.07,62.27 368.62,64.36" fill="#ff8000"/>
<polygon points="359.14,58.59 363.07,61.87 363.07,69.67 359.14,66.39" fill="#f5f500"/>
<polygon points="363.07,61.87 367.51,59.78 367.51,67.58 363.07,69.67" fill="#f5f500"/>
<polygon points="359.14,58.59 363.58,56.5 367.51,59.78 363.07,61.87" fill="#ffff00"/>
<polygon points="353.58,62.1 357.51,65.38 357.51,72.28 353.58,69" fill="#8af56b"/>
<polygon points="357.51,65.38 361.96,63.3 361.96,70.2 357.51,72.28" fill="#8af56b"/>
<polygon points="353.58,62.1 358.03,60.02 361.96,63.3 357.51,65.38" fill="#8fff70"/>
<polygon points="348.03,66.52 351.96,69.8 351.96,74.9 348.03,71.62" fill="#0ff5e5"/>
<polygon points="351.96,69.8 356.4,67.71 356.4,72.81 351.96,74.9" fill="#0ff5e5"/>
<polygon points="348.03,66.52 352.47,64.43 356.4,67.71 351.96,69.8" fill="#10ffef"/>
<polygon points="342.47,71.23 346.4,74.51 346.4,77.51 342.47,74.23" fill="#008af5"/>
<polygon points="346.4,74.51 350.84,72.42 350.84,75.42 346.4,77.51" fill="#008af5"/>
<polygon points="342.47,71.23 346.91,69.14 350.84,72.42 346.4,74.51" fill="#008fff"/>
<polygon points="336.91,74.44 340.84,77.72 340.84,80.12 336.91,76.84" fill="#000ff5"/>
<polygon points="340.84,77.72 345.29,75.63 345.29,78.03 340.84,80.12" fill="#000ff5"/>
<polygon points="336.91,74.44 341.36,72.35 345.29,75.63 340.84,77.72" fill="#0010ff"/>
<polygon points="331.36,67.45 335.29,70.73 335.29,82.73 331.36,79.45" fill="#0f0fa2"/>
<polygon points="335.29,70.73 339.73,68.64 339.73,80.64 335.29,82.73" fill="#0f0fa2"/>
<polygon points="331.36,67.45 335.8,65.36 339.73,68.64 335.29,70.73" fill="#0f0fa8"/>
<polygon points="380.72,54.56 384.65,57.84 384.65,65.94 380.72,62.66" fill="#7a0000"/>
<polygon points="384.65,57.84 389.09,55.75 389.09,63.85 384.65,65.94" fill="#7a0000"/>
<polygon points="380.72,54.56 385.16,52.47 389.09,55.75 384.65,57.84" fill="#800000"/>
<polygon points="375.16,55.67 379.09,58.95 379.09,68.55 375.16,65.27" fill="#f50000"/>
<polygon points="379.09,58.95 383.54,56.86 383.54,66.46 379.09,68.55" fill="#f50000"/>
<polygon points="375.16,55.67 379.61,53.58 383.54,56.86 379.09,58.95" fill="#ff0000"/>
<polygon points="369.61,63.98 373.54,67.26 373.54,71.16 369.61,67.88" fill="#f57a00"/>
<polygon points="373.54,67.26 377.98,65.17 377.98,69.07 373.54,71.16" fill="#f57a00"/>
<polygon points="369.61,63.98 374.05,61.89 377.98,65.17 373.54,67.26" fill="#ff8000"/>
<polygon points="364.05,69.59 367.98,72.87 367.98,73.77 364.05,70.49" fill="#f5f500"/>
<polygon points="367.98,72.87 372.42,70.78 372.42,71.68 367.98,73.77" fill="#f5f500"/>
<polygon points="364.05,69.59 368.49,67.5 372.42,70.78 367.98,72.87" fill="#ffff00"/>
<polygon points="358.49,66.5 362.42,69.78 362.42,76.38 358.49,73.1" fill="#8af56b"/>
<polygon points="362.42,69.78 366.87,67.7 366.87,74.3 362.42,76.38" fill="#8af56b"/>
<polygon points="358.49,66.5 362.94,64.42 366.87,67.7 362.42,69.78" fill="#8fff70"/>
<polygon points="352.94,74.52 356.87,77.8 356.87,79 352.94,75.72" fill="#0ff5e5"/>
<polygon points="356.87,77.8 361.31,75.71 361.31,76.91 356.87,79" fill="#0ff5e5"/>
<polygon points="352.94,74.52 357.38,72.43 361.31,75.71 356.87,77.8" fill="#10ffef"/>
<polygon points="347.38,73.83 351.31,77.11 351.31,81.61 347.38,78.33" fill="#008af5"/>
<polygon points="351.31,77.11 355.76,75.02 355.76,79.52 351.31,81.61" fill="#008af5"/>
<polygon points="347.38,73.83 351.83,71.74 355.76,75.02 351.31,77.11" fill="#008fff"/>
<polygon points="341.83,76.14 345.76,79.42 345.76,84.22 341.83,80.94" fill="#000ff5"/>
<polygon points="345.76,79.42 350.2,77.33 350.2,82.13 345.76,84.22" fill="#000ff5"/>
<polygon points="341.83,76.14 346.27,74.05 350.2,77.33 345.76,79.42" fill="#0010ff"/>
<polygon points="336.27,83.25 340.2,86.53 340.2,86.83 336.27,83.55" fill="#0f0fa2"/>
<polygon points="340.2,86.53 344.65,84.44 344.65,84.74 340.2,86.83" fill="#0f0fa2"/>
<polygon points="336.27,83.25 340.72,81.16 344.65,84.44 340.2,86.53" fill="#0f0fa8"/>
<polygon points="385.63,58.96 389.56,62.24 389.56,70.04 385.63,66.76" fill="#7a0000"/>
<polygon points="389.56,62.24 394,60.15 394,67.95 389.56,70.04" fill="#7a0000"/>
<polygon points="385.63,58.96 390.07,56.87 394,60.15 389.56,62.24" fill="#800000"/>
<polygon points="380.07,68.17 384,71.45 384,72.65 380.07,69.37" fill="#f50000"/>
<polygon points="384,71.45 388.45,69.36 388.45,70.56 384,72.65" fill="#f50000"/>
<polygon points="380.07,68.17 384.52,66.08 388.45,69.36 384,71.45" fill="#ff0000"/>
<polygon points="374.52,66.58 378.45,69.86 378.45,75.26 374.52,71.98" fill="#f57a00"/>
<polygon points="378.45,69.86 382.89,67.77 382.89,73.17 378.45,75.26" fill="#f57a00"/>
<polygon points="374.52,66.58 378.96,64.49 382.89,67.77 378.45,69.86" fill="#ff8000"/>
<polygon points="368.96,73.69 372.89,76.97 372.89,77.87 368.96,74.59" fill="#f5f500"/>
<polygon points="372.89,76.97 377.34,74.88 377.34,75.78 372.89,77.87" fill="#f5f500"/>
<polygon points="368.96,73.69 373.41,71.6 377.34,74.88 372.89,76.97" fill="#ffff00"/>
<polygon points="363.41,71.5 367.34,74.78 367.34,80.48 363.41,77.2" fill="#8af56b"/>
<polygon points="367.34,74.78 371.78,72.7 371.78,78.4 367.34,80.48" fill="#8af56b"/>
<polygon points="363.41,71.5 367.85,69.42 371.78,72.7 367.34,74.78" fill="#8fff70"/>
<polygon points="357.85,78.62 361.78,81.9 361.78,83.1 357.85,79.82" fill="#0ff5e5"/>
<polygon points="361.78,81.9 366.23,79.81 366.23,81.01 361.78,83.1" fill="#0ff5e5"/>
<polygon points="357.85,78.62 362.3,76.53 366.23,79.81 361.78,81.9" fill="#10ffef"/>
<polygon points="352.3,80.63 356.23,83.91 356.23,85.71 352.3,82.43" fill="#008af5"/>
<polygon points="356.23,83.91 360.67,81.82 360.67,83.62 356.23,85.71" fill="#008af5"/>
<polygon points="352.3,80.63 356.74,78.54 360.67,81.82 356.23,83.91" fill="#008fff"/>
<polygon points="346.74,82.34 350.67,85.62 350.67,88.32 346.74,85.04" fill="#000ff5"/>
<polygon points="350.67,85.62 355.11,83.53 355.11,86.23 350.67,88.32" fill="#000ff5"/>
<polygon points="346.74,82.34 351.18,80.25 355.11,83.53 350.67,85.62" fill="#0010ff"/>
<polygon points="341.18,87.35 345.11,90.63 345.11,90.93 341.18,87.65" fill="#0f0fa2"/>
<polygon points="345.11,90.63 349.56,88.54 349.56,88.84 345.11,90.93" fill="#0f0fa2"/>
<polygon points="341.18,87.35 345.63,85.26 349.56,88.54 345.11,90.63" fill="#0f0fa8"/>
<polygon points="390.54,69.66 394.47,72.94 394.47,74.14 390.54,70.86" fill="#7a0000"/>
<polygon points="394.47,72.94 398.92,70.85 398.92,72.05 394.47,74.14" fill="#7a0000"/>
<polygon points="390.54,69.66 394.99,67.57 398.92,70.85 394.47,72.94" fill="#800000"/>
<polygon points="384.99,62.97 388.92,66.25 388.92,76.75 384.99,73.47" fill="#f50000"/>
<polygon points="388.92,66.25 393.36,64.16 393.36,74.66 388.92,76.75" fill="#f50000"/>
<polygon points="384.99,62.97 389.43,60.88 393.36,64.16 388.92,66.25" fill="#ff0000"/>
<polygon points="379.43,73.68 383.36,76.96 383.36,79.36 379.43,76.08" fill="#f57a00"/>
<polygon points="383.36,76.96 387.8,74.87 387.8,77.27 383.36,79.36" fill="#f57a00"/>
<polygon points="379.43,73.68 383.87,71.59 387.8,74.87 383.36,76.96" fill="#ff8000"/>
<polygon points="373.87,74.04 377.8,77.32 377.8,81.97 373.87,78.69" fill="#f5f500"/>
<polygon points="377.8,77.32 382.25,75.23 382.25,79.88 377.8,81.97" fill="#f5f500"/>
<polygon points="373.87,74.04 378.32,71.95 382.25,75.23 377.8,77.32" fill="#ffff00"/>
<polygon points="368.32,80.4 372.25,83.68 372.25,84.58 368.32,81.3" fill="#8af56b"/>
<polygon points="372.25,83.68 376.69,81.6 376.69,82.5 372.25,84.58" fill="#8af56b"/>
<polygon points="368.32,80.4 372.76,78.32 376.69,81.6 372.25,83.68" fill="#8fff70"/>
<polygon points="362.76,82.12 366.69,85.4 366.69,87.2 362.76,83.92" fill="#0ff5e5"/>
<polygon points="366.69,85.4 371.14,83.31 371.14,85.11 366.69,87.2" fill="#0ff5e5"/>
<polygon points="362.76,82.12 367.21,80.03 371.14,83.31 366.69,85.4" fill="#10ffef"/>
<polygon points="357.21,84.43 361.14,87.71 361.14,89.81 357.21,86.53" fill="#008af5"/>
<polygon points="361.14,87.71 365.58,85.62 365.58,87.72 361.14,89.81" fill="#008af5"/>
<polygon points="357.21,84.43 361.65,82.34 365.58,85.62 361.14,87.71" fill="#008fff"/>
<polygon points="351.65,86.74 355.58,90.02 355.58,92.42 351.65,89.14" fill="#000ff5"/>
<polygon points="355.58,90.02 360.03,87.93 360.03,90.33 355.58,92.42" fill="#000ff5"/>
<polygon points="351.65,86.74 356.1,84.65 360.03,87.93 355.58,90.02" fill="#0010ff"/>
<polygon points="346.1,91.45 350.03,94.73 350.03,95.03 346.1,91.75" fill="#0f0fa2"/>
<polygon points="350.03,94.73 354.47,92.64 354.47,92.94 350.03,95.03" fill="#0f0fa2"/>
<polygon points="346.1,91.45 350.54,89.36 354.47,92.64 350.03,94.73" fill="#0f0fa8"/>
<polygon points="395.45,74.06 399.38,77.34 399.38,78.24 395.45,74.96" fill="#7a0000"/>
<polygon points="399.38,77.34 403.83,75.25 403.83,76.15 399.38,78.24" fill="#7a0000"/>
<polygon points="395.45,74.06 399.9,71.97 403.83,75.25 399.38,77.34" fill="#800000"/>
<polygon points="389.9,76.67 393.83,79.95 393.83,80.85 389.9,77.57" fill="#f50000"/>
<polygon points="393.83,79.95 398.27,77.86 398.27,78.76 393.83,80.85" fill="#f50000"/>
<polygon points="389.9,76.67 394.34,74.58 398.27,77.86 393.83,79.95" fill="#ff0000"/>
<polygon points="384.34,78.38 388.27,81.66 388.27,83.46 384.34,80.18" fill="#f57a00"/>
<polygon points="388.27,81.66 392.72,79.57 392.72,81.37 388.27,83.46" fill="#f57a00"/>
<polygon points="384.34,78.38 388.79,76.29 392.72,79.57 388.27,81.66" fill="#ff8000"/>
<polygon points="378.79,75.59 382.72,78.87 382.72,86.07 378.79,82.79" fill="#f5f500"/>
<polygon points="382.72,78.87 387.16,76.78 387.16,83.98 382.72,86.07" fill="#f5f500"/>
<polygon points="378.79,75.59 383.23,73.5 387.16,76.78 382.72,78.87" fill="#ffff00"/>
<polygon points="373.23,84.5 377.16,87.78 377.16,88.68 373.23,85.4" fill="#8af56b"/>
<polygon points="377.16,87.78 381.61,85.7 381.61,86.6 377.16,88.68" fill="#8af56b"/>
<polygon points="373.23,84.5 377.68,82.42 381.61,85.7 377.16,87.78" fill="#8fff70"/>
<polygon points="367.68,86.52 371.61,89.8 371.61,91.3 367.68,88.02" fill="#0ff5e5"/>
<polygon points="371.61,89.8 376.05,87.71 376.05,89.21 371.61,91.3" fill="#0ff5e5"/>
<polygon points="367.68,86.52 372.12,84.43 376.05,87.71 371.61,89.8" fill="#10ffef"/>
<polygon points="362.12,87.93 366.05,91.21 366.05,93.91 362.12,90.63" fill="#008af5"/>
<polygon points="366.05,91.21 370.49,89.12 370.49,91.82 366.05,93.91" fill="#008af5"/>
<polygon points="362.12,87.93 366.56,85.84 370.49,89.12 366.05,91.21" fill="#008fff"/>
<polygon points="356.56,89.64 360.49,92.92 360.49,96.52 356.56,93.24" fill="#000ff5"/>
<polygon points="360.49,92.92 364.94,90.83 364.94,94.43 360.49,96.52" fill="#000ff5"/>
<polygon points="356.56,89.64 361.01,87.55 364.94,90.83 360.49,92.92" fill="#0010ff"/>
<polygon points="351.01,95.55 354.94,98.83 354.94,99.13 351.01,95.85" fill="#0f0fa2"/>
<polygon points="354.94,98.83 359.38,96.74 359.38,97.04 354.94,99.13" fill="#0f0fa2"/>
<polygon points="351.01,95.55 355.45,93.46 359.38,96.74 354.94,98.83" fill="#0f0fa8"/>
<polygon points="400.37,78.46 404.3,81.74 404.3,82.34 400.37,79.06" fill="#7a0000"/>
<polygon points="404.3,81.74 408.74,79.65 408.74,80.25 404.3,82.34" fill="#7a0000"/>
<polygon points="400.37,78.46 404.81,76.37 408.74,79.65 404.3,81.74" fill="#800000"/>
<polygon points="394.81,78.07 398.74,81.35 398.74,84.95 394.81,81.67" fill="#f50000"/>
<polygon points="398.74,81.35 403.19,79.26 403.19,82.86 398.74,84.95" fill="#f50000"/>
<polygon points="394.81,78.07 399.26,75.98 403.19,79.26 398.74,81.35" fill="#ff0000"/>
<polygon points="389.26,79.18 393.19,82.46 393.19,87.56 389.26,84.28" fill="#f57a00"/>
<polygon points="393.19,82.46 397.63,80.37 397.63,85.47 393.19,87.56" fill="#f57a00"/>
<polygon points="389.26,79.18 393.7,77.09 397.63,80.37 393.19,82.46" fill="#ff8000"/>
<polygon points="383.7,86.59 387.63,89.87 387.63,90.17 383.7,86.89" fill="#f5f500"/>
<polygon points="387.63,89.87 392.07,87.78 392.07,88.08 387.63,90.17" fill="#f5f500"/>
<polygon points="383.7,86.59 388.14,84.5 392.07,87.78 387.63,89.87" fill="#ffff00"/>
<polygon points="378.14,88.6 382.07,91.88 382.07,92.78 378.14,89.5" fill="#8af56b"/>
<polygon points="382.07,91.88 386.52,89.8 386.52,90.7 382.07,92.78" fill="#8af56b"/>
<polygon points="378.14,88.6 382.59,86.52 386.52,89.8 382.07,91.88" fill="#8fff70"/>
<polygon points="372.59,86.12 376.52,89.4 376.52,95.4 372.59,92.12" fill="#0ff5e5"/>
<polygon points="376.52,89.4 380.96,87.31 380.96,93.31 376.52,95.4" fill="#0ff5e5"/>
<polygon points="372.59,86.12 377.03,84.03 380.96,87.31 376.52,89.4" fill="#10ffef"/>
<polygon points="367.03,90.23 370.96,93.51 370.96,98.01 367.03,94.73" fill="#008af5"/>
<polygon points="370.96,93.51 375.41,91.42 375.41,95.92 370.96,98.01" fill="#008af5"/>
<polygon points="367.03,90.23 371.48,88.14 375.41,91.42 370.96,93.51" fill="#008fff"/>
<polygon points="361.48,94.04 365.41,97.32 365.41,100.62 361.48,97.34" fill="#000ff5"/>
<polygon points="365.41,97.32 369.85,95.23 369.85,98.53 365.41,100.62" fill="#000ff5"/>
<polygon points="361.48,94.04 365.92,91.95 369.85,95.23 365.41,97.32" fill="#0010ff"/>
<polygon points="355.92,99.05 359.85,102.33 359.85,103.23 355.92,99.95" fill="#0f0fa2"/>
<polygon points="359.85,102.33 364.3,100.24 364.3,101.14 359.85,103.23" fill="#0f0fa2"/>
<polygon points="355.92,99.05 360.37,96.96 364.3,100.24 359.85,102.33" fill="#0f0fa8"/>
<polygon points="405.28,82.56 409.21,85.84 409.21,86.44 405.28,83.16" fill="#7a0000"/>
<polygon points="409.21,85.84 413.65,83.75 413.65,84.35 409.21,86.44" fill="#7a0000"/>
<polygon points="405.28,82.56 409.72,80.47 413.65,83.75 409.21,85.84" fill="#800000"/>
<polygon points="399.72,84.87 403.65,88.15 403.65,89.05 399.72,85.77" fill="#f50000"/>
<polygon points="403.65,88.15 408.1,86.06 408.1,86.96 403.65,89.05" fill="#f50000"/>
<polygon points="399.72,84.87 404.17,82.78 408.1,86.06 403.65,88.15" fill="#ff0000"/>
<polygon points="394.17,84.63 398.1,87.91 398.1,91.66 394.17,88.38" fill="#f57a00"/>
<polygon points="398.1,87.91 402.54,85.82 402.54,89.57 398.1,91.66" fill="#f57a00"/>
<polygon points="394.17,84.63 398.61,82.54 402.54,85.82 398.1,87.91" fill="#ff8000"/>
<polygon points="388.61,90.69 392.54,93.97 392.54,94.27 388.61,90.99" fill="#f5f500"/>
<polygon points="392.54,93.97 396.99,91.88 396.99,92.18 392.54,94.27" fill="#f5f500"/>
<polygon points="388.61,90.69 393.06,88.6 396.99,91.88 392.54,93.97" fill="#ffff00"/>
<polygon points="383.06,92.7 386.99,95.98 386.99,96.88 383.06,93.6" fill="#8af56b"/>
<polygon points="386.99,95.98 391.43,93.9 391.43,94.8 386.99,96.88" fill="#8af56b"/>
<polygon points="383.06,92.7 387.5,90.62 391.43,93.9 386.99,95.98" fill="#8fff70"/>
<polygon points="377.5,93.22 381.43,96.5 381.43,99.5 377.5,96.22" fill="#0ff5e5"/>
<polygon points="381.43,96.5 385.88,94.41 385.88,97.41 381.43,99.5" fill="#0ff5e5"/>
<polygon points="377.5,93.22 381.95,91.13 385.88,94.41 381.43,96.5" fill="#10ffef"/>
<polygon points="371.95,96.43 375.88,99.71 375.88,102.11 371.95,98.83" fill="#008af5"/>
<polygon points="375.88,99.71 380.32,97.62 380.32,100.02 375.88,102.11" fill="#008af5"/>
<polygon points="371.95,96.43 376.39,94.34 380.32,97.62 375.88,99.71" fill="#008fff"/>
<polygon points="366.39,98.74 370.32,102.02 370.32,104.72 366.39,101.44" fill="#000ff5"/>
<polygon points="370.32,102.02 374.76,99.93 374.76,102.63 370.32,104.72" fill="#000ff5"/>
<polygon points="366.39,98.74 370.83,96.65 374.76,99.93 370.32,102.02" fill="#0010ff"/>
<polygon points="360.83,102.25 364.76,105.53 364.76,107.33 360.83,104.05" fill="#0f0fa2"/>
<polygon points="364.76,105.53 369.21,103.44 369.21,105.24 364.76,107.33" fill="#0f0fa2"/>
<polygon points="360.83,102.25 365.28,100.16 369.21,103.44 364.76,105.53" fill="#0f0fa8"/>
</g>
<path d="M325.4 45.2L364.7 78M364.7 78L414.7 54.5M364.7 108L364.7 78" fill="none" stroke="#222" stroke-opacity="0.8" stroke-width="0.48"/>
<text x="204.5" y="92" font-size="12.1" text-anchor="middle" font-family="'Liberation Sans',sans-serif" transform="rotate(-90 204.5 92)" >Probabilities</text>
<text x="226.3" y="68.9" font-size="10.6" text-anchor="end" font-family="'Liberation Sans',sans-serif"  stroke="#000" stroke-width="0.1">1</text>
<text x="226.3" y="92.2" font-size="10.6" text-anchor="end" font-family="'Liberation Sans',sans-serif"  stroke="#000" stroke-width="0.1">0.5</text>
<text x="226.3" y="115.45" font-size="10.6" text-anchor="end" font-family="'Liberation Sans',sans-serif"  stroke="#000" stroke-width="0.1">0</text>
<text x="226.4" y="130" font-size="10.2" text-anchor="middle" font-family="'Liberation Sans',sans-serif"  stroke="#000" stroke-width="0.1">1</text>
<text x="233.83" y="136.37" font-size="10.2" text-anchor="middle" font-family="'Liberation Sans',sans-serif"  stroke="#000" stroke-width="0.1">2</text>
<text x="241.26" y="142.74" font-size="10.2" text-anchor="middle" font-family="'Liberation Sans',sans-serif"  stroke="#000" stroke-width="0.1">3</text>
<text x="248.69" y="149.11" font-size="10.2" text-anchor="middle" font-family="'Liberation Sans',sans-serif"  stroke="#000" stroke-width="0.1">4</text>
<text x="256.12" y="155.48" font-size="10.2" text-anchor="middle" font-family="'Liberation Sans',sans-serif"  stroke="#000" stroke-width="0.1">5</text>
<text x="263.55" y="161.85" font-size="10.2" text-anchor="middle" font-family="'Liberation Sans',sans-serif"  stroke="#000" stroke-width="0.1">6</text>
<text x="270.98" y="168.22" font-size="10.2" text-anchor="middle" font-family="'Liberation Sans',sans-serif"  stroke="#000" stroke-width="0.1">7</text>
<text x="278.41" y="174.59" font-size="10.2" text-anchor="middle" font-family="'Liberation Sans',sans-serif"  stroke="#000" stroke-width="0.1">8</text>
<text x="301.2" y="176.7" font-size="10.2" text-anchor="middle" font-family="'Liberation Sans',sans-serif"  stroke="#000" stroke-width="0.1">1</text>
<text x="309.69" y="172.61" font-size="10.2" text-anchor="middle" font-family="'Liberation Sans',sans-serif"  stroke="#000" stroke-width="0.1">2</text>
<text x="318.18" y="168.52" font-size="10.2" text-anchor="middle" font-family="'Liberation Sans',sans-serif"  stroke="#000" stroke-width="0.1">3</text>
<text x="326.67" y="164.43" font-size="10.2" text-anchor="middle" font-family="'Liberation Sans',sans-serif"  stroke="#000" stroke-width="0.1">4</text>
<text x="335.16" y="160.34" font-size="10.2" text-anchor="middle" font-family="'Liberation Sans',sans-serif"  stroke="#000" stroke-width="0.1">5</text>
<text x="343.65" y="156.25" font-size="10.2" text-anchor="middle" font-family="'Liberation Sans',sans-serif"  stroke="#000" stroke-width="0.1">6</text>
<text x="352.14" y="152.16" font-size="10.2" text-anchor="middle" font-family="'Liberation Sans',sans-serif"  stroke="#000" stroke-width="0.1">7</text>
<text x="360.63" y="148.07" font-size="10.2" text-anchor="middle" font-family="'Liberation Sans',sans-serif"  stroke="#000" stroke-width="0.1">8</text>
<text x="369.12" y="143.98" font-size="10.2" text-anchor="middle" font-family="'Liberation Sans',sans-serif"  stroke="#000" stroke-width="0.1">9</text>
<text x="229.2" y="167.5" font-size="19" text-anchor="middle" font-family="'Liberation Serif',serif" font-style="italic"  stroke="#000" stroke-width="0.2">m</text>
<text x="352" y="174.5" font-size="19" text-anchor="middle" font-family="'Liberation Serif',serif" >α</text>
<polygon points="230.6,307.6 290,357.6 367.2,320.7 367.2,274.3 307.8,224.3 230.6,261.2" fill="#fff" stroke="none"/>
<path d="M234.89 305.55L234.89 259.15M234.89 305.55L294.29 355.55M243.47 301.45L243.47 255.05M243.47 301.45L302.87 351.45M252.04 297.35L252.04 250.95M252.04 297.35L311.44 347.35M260.62 293.25L260.62 246.85M260.62 293.25L320.02 343.25M269.2 289.15L269.2 242.75M269.2 289.15L328.6 339.15M277.78 285.05L277.78 238.65M277.78 285.05L337.18 335.05M286.36 280.95L286.36 234.55M286.36 280.95L345.76 330.95M294.93 276.85L294.93 230.45M294.93 276.85L354.33 326.85M303.51 272.75L303.51 226.35M303.51 272.75L362.91 322.75M311.51 273.83L311.51 227.43M311.51 273.83L234.31 310.73M318.94 280.08L318.94 233.68M318.94 280.08L241.74 316.98M326.36 286.33L326.36 239.93M326.36 286.33L249.16 323.23M333.79 292.58L333.79 246.18M333.79 292.58L256.59 329.48M341.21 298.83L341.21 252.43M341.21 298.83L264.01 335.73M348.64 305.08L348.64 258.68M348.64 305.08L271.44 341.98M356.06 311.33L356.06 264.93M356.06 311.33L278.86 348.23M363.49 317.58L363.49 271.18M363.49 317.58L286.29 354.48M230.6 307.6L307.8 270.7L367.2 320.7M230.6 284.4L307.8 247.5L367.2 297.5M230.6 261.2L307.8 224.3L367.2 274.3" fill="none" stroke="#000" stroke-width="0.6" stroke-dasharray="0.7 2.7"/>
<path d="M230.6 261.2L307.8 224.3M307.8 224.3L367.2 274.3M230.6 307.6L307.8 270.7M307.8 270.7L367.2 320.7" fill="none" stroke="#4a4a4a" stroke-width="0.57"/>
<path d="M230.6 307.6L290 357.6M290 357.6L367.2 320.7" fill="none" stroke="#222" stroke-width="0.66"/>
<path d="M230.6 307.6L230.6 261.2" fill="none" stroke="#111" stroke-width="0.8"/>
<path d="M367.2 320.7L367.2 274.3" fill="none" stroke="#000" stroke-width="1.0"/>
<path d="M307.8 270.7L307.8 224.3" fill="none" stroke="#555" stroke-width="0.8"/>
<path d="M234.31 310.73l-1.98 0.95M241.74 316.98l-1.98 0.95M249.16 323.23l-1.98 0.95M256.59 329.48l-1.98 0.95M264.01 335.73l-1.98 0.95M271.44 341.98l-1.98 0.95M278.86 348.23l-1.98 0.95M286.29 354.48l-1.98 0.95M294.29 355.55l1.68 1.42M302.87 351.45l1.68 1.42M311.44 347.35l1.68 1.42M320.02 343.25l1.68 1.42M328.6 339.15l1.68 1.42M337.18 335.05l1.68 1.42M345.76 330.95l1.68 1.42M354.33 326.85l1.68 1.42M362.91 322.75l1.68 1.42M230.6 307.6l-1.59 0.76M230.6 284.4l-1.59 0.76M230.6 261.2l-1.59 0.76" fill="none" stroke="#333" stroke-width="0.5"/>
<g stroke="#000" stroke-opacity="0.85" stroke-width="0.5" stroke-linejoin="round">
<polygon points="300.82,261.56 306.76,266.56 306.76,280.02 300.82,275.02" fill="#7a0000"/>
<polygon points="306.76,266.56 313.62,263.28 313.62,276.74 306.76,280.02" fill="#7a0000"/>
<polygon points="300.82,261.56 307.68,258.28 313.62,263.28 306.76,266.56" fill="#800000"/>
<polygon points="292.24,269.84 298.18,274.84 298.18,284.12 292.24,279.12" fill="#f50000"/>
<polygon points="298.18,274.84 305.05,271.56 305.05,280.84 298.18,284.12" fill="#f50000"/>
<polygon points="292.24,269.84 299.11,266.56 305.05,271.56 298.18,274.84" fill="#ff0000"/>
<polygon points="283.67,277.88 289.61,282.88 289.61,288.22 283.67,283.22" fill="#f57a00"/>
<polygon points="289.61,282.88 296.47,279.6 296.47,284.94 289.61,288.22" fill="#f57a00"/>
<polygon points="283.67,277.88 290.53,274.6 296.47,279.6 289.61,282.88" fill="#ff8000"/>
<polygon points="275.09,279.89 281.03,284.89 281.03,292.31 275.09,287.31" fill="#f5f500"/>
<polygon points="281.03,284.89 287.89,281.61 287.89,289.04 281.03,292.31" fill="#f5f500"/>
<polygon points="275.09,279.89 281.95,276.61 287.89,281.61 281.03,284.89" fill="#ffff00"/>
<polygon points="266.51,280.51 272.45,285.51 272.45,296.42 266.51,291.42" fill="#8af56b"/>
<polygon points="272.45,285.51 279.31,282.23 279.31,293.14 272.45,296.42" fill="#8af56b"/>
<polygon points="266.51,280.51 273.37,277.23 279.31,282.23 272.45,285.51" fill="#8fff70"/>
<polygon points="257.93,292.04 263.87,297.04 263.87,300.52 257.93,295.52" fill="#0ff5e5"/>
<polygon points="263.87,297.04 270.74,293.75 270.74,297.24 263.87,300.52" fill="#0ff5e5"/>
<polygon points="257.93,292.04 264.8,288.75 270.74,293.75 263.87,297.04" fill="#10ffef"/>
<polygon points="249.36,297.53 255.3,302.53 255.3,304.62 249.36,299.62" fill="#008af5"/>
<polygon points="255.3,302.53 262.16,299.25 262.16,301.34 255.3,304.62" fill="#008af5"/>
<polygon points="249.36,297.53 256.22,294.25 262.16,299.25 255.3,302.53" fill="#008fff"/>
<polygon points="240.78,299.08 246.72,304.08 246.72,308.72 240.78,303.72" fill="#000ff5"/>
<polygon points="246.72,304.08 253.58,300.8 253.58,305.44 246.72,308.72" fill="#000ff5"/>
<polygon points="240.78,299.08 247.64,295.8 253.58,300.8 246.72,304.08" fill="#0010ff"/>
<polygon points="232.2,290.18 238.14,295.18 238.14,312.81 232.2,307.81" fill="#0f0fa2"/>
<polygon points="238.14,295.18 245,291.9 245,309.54 238.14,312.81" fill="#0f0fa2"/>
<polygon points="232.2,290.18 239.06,286.9 245,291.9 238.14,295.18" fill="#0f0fa8"/>
<polygon points="308.25,267.81 314.19,272.81 314.19,286.27 308.25,281.27" fill="#7a0000"/>
<polygon points="314.19,272.81 321.05,269.53 321.05,282.99 314.19,286.27" fill="#7a0000"/>
<polygon points="308.25,267.81 315.11,264.53 321.05,269.53 314.19,272.81" fill="#800000"/>
<polygon points="299.67,281.88 305.61,286.88 305.61,290.37 299.67,285.37" fill="#f50000"/>
<polygon points="305.61,286.88 312.47,283.61 312.47,287.09 305.61,290.37" fill="#f50000"/>
<polygon points="299.67,281.88 306.53,278.61 312.47,283.61 305.61,286.88" fill="#ff0000"/>
<polygon points="291.09,284.36 297.03,289.36 297.03,294.47 291.09,289.47" fill="#f57a00"/>
<polygon points="297.03,289.36 303.89,286.08 303.89,291.19 297.03,294.47" fill="#f57a00"/>
<polygon points="291.09,284.36 297.95,281.08 303.89,286.08 297.03,289.36" fill="#ff8000"/>
<polygon points="282.51,285.91 288.45,290.91 288.45,298.56 282.51,293.56" fill="#f5f500"/>
<polygon points="288.45,290.91 295.32,287.63 295.32,295.29 288.45,298.56" fill="#f5f500"/>
<polygon points="282.51,285.91 289.38,282.63 295.32,287.63 288.45,290.91" fill="#ffff00"/>
<polygon points="273.94,288.39 279.88,293.39 279.88,302.67 273.94,297.67" fill="#8af56b"/>
<polygon points="279.88,293.39 286.74,290.11 286.74,299.39 279.88,302.67" fill="#8af56b"/>
<polygon points="273.94,288.39 280.8,285.11 286.74,290.11 279.88,293.39" fill="#8fff70"/>
<polygon points="265.36,296.2 271.3,301.2 271.3,306.77 265.36,301.77" fill="#0ff5e5"/>
<polygon points="271.3,301.2 278.16,297.92 278.16,303.49 271.3,306.77" fill="#0ff5e5"/>
<polygon points="265.36,296.2 272.22,292.92 278.16,297.92 271.3,301.2" fill="#10ffef"/>
<polygon points="256.78,301.69 262.72,306.69 262.72,310.87 256.78,305.87" fill="#008af5"/>
<polygon points="262.72,306.69 269.58,303.41 269.58,307.59 262.72,310.87" fill="#008af5"/>
<polygon points="256.78,301.69 263.64,298.41 269.58,303.41 262.72,306.69" fill="#008fff"/>
<polygon points="248.2,305.56 254.14,310.56 254.14,314.97 248.2,309.97" fill="#000ff5"/>
<polygon points="254.14,310.56 261.01,307.28 261.01,311.69 254.14,314.97" fill="#000ff5"/>
<polygon points="248.2,305.56 255.07,302.28 261.01,307.28 254.14,310.56" fill="#0010ff"/>
<polygon points="239.63,298.06 245.57,303.06 245.57,319.06 239.63,314.06" fill="#0f0fa2"/>
<polygon points="245.57,303.06 252.43,299.78 252.43,315.79 245.57,319.06" fill="#0f0fa2"/>
<polygon points="239.63,298.06 246.49,294.78 252.43,299.78 245.57,303.06" fill="#0f0fa8"/>
<polygon points="315.67,280.56 321.61,285.56 321.61,292.52 315.67,287.52" fill="#7a0000"/>
<polygon points="321.61,285.56 328.47,282.28 328.47,289.24 321.61,292.52" fill="#7a0000"/>
<polygon points="315.67,280.56 322.53,277.28 328.47,282.28 321.61,285.56" fill="#800000"/>
<polygon points="307.09,283.96 313.03,288.96 313.03,296.62 307.09,291.62" fill="#f50000"/>
<polygon points="313.03,288.96 319.9,285.68 319.9,293.34 313.03,296.62" fill="#f50000"/>
<polygon points="307.09,283.96 313.96,280.68 319.9,285.68 313.03,288.96" fill="#ff0000"/>
<polygon points="298.52,291.54 304.46,296.54 304.46,300.72 298.52,295.72" fill="#f57a00"/>
<polygon points="304.46,296.54 311.32,293.26 311.32,297.44 304.46,300.72" fill="#f57a00"/>
<polygon points="298.52,291.54 305.38,288.26 311.32,293.26 304.46,296.54" fill="#ff8000"/>
<polygon points="289.94,297.5 295.88,302.5 295.88,304.81 289.94,299.81" fill="#f5f500"/>
<polygon points="295.88,302.5 302.74,299.22 302.74,301.54 295.88,304.81" fill="#f5f500"/>
<polygon points="289.94,297.5 296.8,294.22 302.74,299.22 295.88,302.5" fill="#ffff00"/>
<polygon points="281.36,293.48 287.3,298.48 287.3,308.92 281.36,303.92" fill="#8af56b"/>
<polygon points="287.3,298.48 294.16,295.2 294.16,305.64 287.3,308.92" fill="#8af56b"/>
<polygon points="281.36,293.48 288.22,290.2 294.16,295.2 287.3,298.48" fill="#8fff70"/>
<polygon points="272.78,305.93 278.72,310.93 278.72,313.02 272.78,308.02" fill="#0ff5e5"/>
<polygon points="278.72,310.93 285.59,307.65 285.59,309.74 278.72,313.02" fill="#0ff5e5"/>
<polygon points="272.78,305.93 279.65,302.65 285.59,307.65 278.72,310.93" fill="#10ffef"/>
<polygon points="264.21,300.51 270.15,305.51 270.15,317.12 264.21,312.12" fill="#008af5"/>
<polygon points="270.15,305.51 277.01,302.24 277.01,313.84 270.15,317.12" fill="#008af5"/>
<polygon points="264.21,300.51 271.07,297.24 277.01,302.24 270.15,305.51" fill="#008fff"/>
<polygon points="255.63,308.33 261.57,313.33 261.57,321.22 255.63,316.22" fill="#000ff5"/>
<polygon points="261.57,313.33 268.43,310.05 268.43,317.94 261.57,321.22" fill="#000ff5"/>
<polygon points="255.63,308.33 262.49,305.05 268.43,310.05 261.57,313.33" fill="#0010ff"/>
<polygon points="247.05,318.46 252.99,323.46 252.99,325.31 247.05,320.31" fill="#0f0fa2"/>
<polygon points="252.99,323.46 259.85,320.18 259.85,322.04 252.99,325.31" fill="#0f0fa2"/>
<polygon points="247.05,318.46 253.91,315.18 259.85,320.18 252.99,323.46" fill="#0f0fa8"/>
<polygon points="323.1,285.41 329.04,290.41 329.04,298.77 323.1,293.77" fill="#7a0000"/>
<polygon points="329.04,290.41 335.9,287.13 335.9,295.49 329.04,298.77" fill="#7a0000"/>
<polygon points="323.1,285.41 329.96,282.13 335.9,287.13 329.04,290.41" fill="#800000"/>
<polygon points="314.52,294.62 320.46,299.62 320.46,302.87 314.52,297.87" fill="#f50000"/>
<polygon points="320.46,299.62 327.32,296.34 327.32,299.59 320.46,302.87" fill="#f50000"/>
<polygon points="314.52,294.62 321.38,291.34 327.32,296.34 320.46,299.62" fill="#ff0000"/>
<polygon points="305.94,299.65 311.88,304.65 311.88,306.97 305.94,301.97" fill="#f57a00"/>
<polygon points="311.88,304.65 318.74,301.37 318.74,303.69 311.88,306.97" fill="#f57a00"/>
<polygon points="305.94,299.65 312.8,296.37 318.74,301.37 311.88,304.65" fill="#ff8000"/>
<polygon points="297.36,303.75 303.3,308.75 303.3,311.06 297.36,306.06" fill="#f5f500"/>
<polygon points="303.3,308.75 310.17,305.47 310.17,307.79 303.3,311.06" fill="#f5f500"/>
<polygon points="297.36,303.75 304.23,300.47 310.17,305.47 303.3,308.75" fill="#ffff00"/>
<polygon points="288.79,302.05 294.73,307.05 294.73,315.17 288.79,310.17" fill="#8af56b"/>
<polygon points="294.73,307.05 301.59,303.77 301.59,311.89 294.73,315.17" fill="#8af56b"/>
<polygon points="288.79,302.05 295.65,298.77 301.59,303.77 294.73,307.05" fill="#8fff70"/>
<polygon points="280.21,309.86 286.15,314.86 286.15,319.27 280.21,314.27" fill="#0ff5e5"/>
<polygon points="286.15,314.86 293.01,311.58 293.01,315.99 286.15,319.27" fill="#0ff5e5"/>
<polygon points="280.21,309.86 287.07,306.58 293.01,311.58 286.15,314.86" fill="#10ffef"/>
<polygon points="271.63,313.96 277.57,318.96 277.57,323.37 271.63,318.37" fill="#008af5"/>
<polygon points="277.57,318.96 284.43,315.68 284.43,320.09 277.57,323.37" fill="#008af5"/>
<polygon points="271.63,313.96 278.49,310.68 284.43,315.68 277.57,318.96" fill="#008fff"/>
<polygon points="263.05,317.36 268.99,322.36 268.99,327.47 263.05,322.47" fill="#000ff5"/>
<polygon points="268.99,322.36 275.86,319.08 275.86,324.19 268.99,327.47" fill="#000ff5"/>
<polygon points="263.05,317.36 269.92,314.08 275.86,319.08 268.99,322.36" fill="#0010ff"/>
<polygon points="254.48,324.01 260.42,329.01 260.42,331.56 254.48,326.56" fill="#0f0fa2"/>
<polygon points="260.42,329.01 267.28,325.73 267.28,328.29 260.42,331.56" fill="#0f0fa2"/>
<polygon points="254.48,324.01 261.34,320.73 267.28,325.73 260.42,329.01" fill="#0f0fa8"/>
<polygon points="330.52,297.93 336.46,302.93 336.46,305.02 330.52,300.02" fill="#7a0000"/>
<polygon points="336.46,302.93 343.32,299.65 343.32,301.74 336.46,305.02" fill="#7a0000"/>
<polygon points="330.52,297.93 337.38,294.65 343.32,299.65 336.46,302.93" fill="#800000"/>
<polygon points="321.94,295.53 327.88,300.53 327.88,309.12 321.94,304.12" fill="#f50000"/>
<polygon points="327.88,300.53 334.75,297.25 334.75,305.84 327.88,309.12" fill="#f50000"/>
<polygon points="321.94,295.53 328.81,292.25 334.75,297.25 327.88,300.53" fill="#ff0000"/>
<polygon points="313.37,300.1 319.31,305.1 319.31,313.22 313.37,308.22" fill="#f57a00"/>
<polygon points="319.31,305.1 326.17,301.81 326.17,309.94 319.31,313.22" fill="#f57a00"/>
<polygon points="313.37,300.1 320.23,296.81 326.17,301.81 319.31,305.1" fill="#ff8000"/>
<polygon points="304.79,296.07 310.73,301.07 310.73,317.31 304.79,312.31" fill="#f5f500"/>
<polygon points="310.73,301.07 317.59,297.8 317.59,314.04 310.73,317.31" fill="#f5f500"/>
<polygon points="304.79,296.07 311.65,292.8 317.59,297.8 310.73,301.07" fill="#ffff00"/>
<polygon points="296.21,313.4 302.15,318.4 302.15,321.42 296.21,316.42" fill="#8af56b"/>
<polygon points="302.15,318.4 309.01,315.12 309.01,318.14 302.15,321.42" fill="#8af56b"/>
<polygon points="296.21,313.4 303.07,310.12 309.01,315.12 302.15,318.4" fill="#8fff70"/>
<polygon points="287.63,313.56 293.57,318.56 293.57,325.52 287.63,320.52" fill="#0ff5e5"/>
<polygon points="293.57,318.56 300.44,315.28 300.44,322.24 293.57,325.52" fill="#0ff5e5"/>
<polygon points="287.63,313.56 294.5,310.28 300.44,315.28 293.57,318.56" fill="#10ffef"/>
<polygon points="279.06,319.98 285,324.98 285,329.62 279.06,324.62" fill="#008af5"/>
<polygon points="285,324.98 291.86,321.7 291.86,326.34 285,329.62" fill="#008af5"/>
<polygon points="279.06,319.98 285.92,316.7 291.86,321.7 285,324.98" fill="#008fff"/>
<polygon points="270.48,322.92 276.42,327.92 276.42,333.72 270.48,328.72" fill="#000ff5"/>
<polygon points="276.42,327.92 283.28,324.63 283.28,330.44 276.42,333.72" fill="#000ff5"/>
<polygon points="270.48,322.92 277.34,319.63 283.28,324.63 276.42,327.92" fill="#0010ff"/>
<polygon points="261.9,330.03 267.84,335.03 267.84,337.81 261.9,332.81" fill="#0f0fa2"/>
<polygon points="267.84,335.03 274.7,331.75 274.7,334.54 267.84,337.81" fill="#0f0fa2"/>
<polygon points="261.9,330.03 268.76,326.75 274.7,331.75 267.84,335.03" fill="#0f0fa8"/>
<polygon points="337.95,303.48 343.89,308.48 343.89,311.27 337.95,306.27" fill="#7a0000"/>
<polygon points="343.89,308.48 350.75,305.2 350.75,307.99 343.89,311.27" fill="#7a0000"/>
<polygon points="337.95,303.48 344.81,300.2 350.75,305.2 343.89,308.48" fill="#800000"/>
<polygon points="329.37,306.65 335.31,311.65 335.31,315.37 329.37,310.37" fill="#f50000"/>
<polygon points="335.31,311.65 342.17,308.37 342.17,312.09 335.31,315.37" fill="#f50000"/>
<polygon points="329.37,306.65 336.23,303.37 342.17,308.37 335.31,311.65" fill="#ff0000"/>
<polygon points="320.79,306.11 326.73,311.11 326.73,319.47 320.79,314.47" fill="#f57a00"/>
<polygon points="326.73,311.11 333.59,307.83 333.59,316.19 326.73,319.47" fill="#f57a00"/>
<polygon points="320.79,306.11 327.65,302.83 333.59,307.83 326.73,311.11" fill="#ff8000"/>
<polygon points="312.21,308.82 318.15,313.82 318.15,323.56 312.21,318.56" fill="#f5f500"/>
<polygon points="318.15,313.82 325.02,310.54 325.02,320.29 318.15,323.56" fill="#f5f500"/>
<polygon points="312.21,308.82 319.08,305.54 325.02,310.54 318.15,313.82" fill="#ffff00"/>
<polygon points="303.64,320.81 309.58,325.81 309.58,327.67 303.64,322.67" fill="#8af56b"/>
<polygon points="309.58,325.81 316.44,322.53 316.44,324.39 309.58,327.67" fill="#8af56b"/>
<polygon points="303.64,320.81 310.5,317.53 316.44,322.53 309.58,325.81" fill="#8fff70"/>
<polygon points="295.06,319.34 301,324.34 301,331.77 295.06,326.77" fill="#0ff5e5"/>
<polygon points="301,324.34 307.86,321.06 307.86,328.49 301,331.77" fill="#0ff5e5"/>
<polygon points="295.06,319.34 301.92,316.06 307.86,321.06 301,324.34" fill="#10ffef"/>
<polygon points="286.48,326.23 292.42,331.23 292.42,335.87 286.48,330.87" fill="#008af5"/>
<polygon points="292.42,331.23 299.28,327.95 299.28,332.59 292.42,335.87" fill="#008af5"/>
<polygon points="286.48,326.23 293.34,322.95 299.28,327.95 292.42,331.23" fill="#008fff"/>
<polygon points="277.9,328.47 283.84,333.47 283.84,339.97 277.9,334.97" fill="#000ff5"/>
<polygon points="283.84,333.47 290.71,330.19 290.71,336.69 283.84,339.97" fill="#000ff5"/>
<polygon points="277.9,328.47 284.77,325.19 290.71,330.19 283.84,333.47" fill="#0010ff"/>
<polygon points="269.33,336.51 275.27,341.51 275.27,344.06 269.33,339.06" fill="#0f0fa2"/>
<polygon points="275.27,341.51 282.13,338.23 282.13,340.79 275.27,344.06" fill="#0f0fa2"/>
<polygon points="269.33,336.51 276.19,333.23 282.13,338.23 275.27,341.51" fill="#0f0fa8"/>
<polygon points="345.37,310.89 351.31,315.89 351.31,317.52 345.37,312.52" fill="#7a0000"/>
<polygon points="351.31,315.89 358.17,312.61 358.17,314.24 351.31,317.52" fill="#7a0000"/>
<polygon points="345.37,310.89 352.23,307.61 358.17,312.61 351.31,315.89" fill="#800000"/>
<polygon points="336.79,308.26 342.73,313.26 342.73,321.62 336.79,316.62" fill="#f50000"/>
<polygon points="342.73,313.26 349.6,309.98 349.6,318.34 342.73,321.62" fill="#f50000"/>
<polygon points="336.79,308.26 343.66,304.98 349.6,309.98 342.73,313.26" fill="#ff0000"/>
<polygon points="328.22,312.83 334.16,317.83 334.16,325.72 328.22,320.72" fill="#f57a00"/>
<polygon points="334.16,317.83 341.02,314.55 341.02,322.44 334.16,325.72" fill="#f57a00"/>
<polygon points="328.22,312.83 335.08,309.55 341.02,314.55 334.16,317.83" fill="#ff8000"/>
<polygon points="319.64,322.96 325.58,327.96 325.58,329.81 319.64,324.81" fill="#f5f500"/>
<polygon points="325.58,327.96 332.44,324.68 332.44,326.54 325.58,329.81" fill="#f5f500"/>
<polygon points="319.64,322.96 326.5,319.68 332.44,324.68 325.58,327.96" fill="#ffff00"/>
<polygon points="311.06,327.06 317,332.06 317,333.92 311.06,328.92" fill="#8af56b"/>
<polygon points="317,332.06 323.86,328.78 323.86,330.64 317,333.92" fill="#8af56b"/>
<polygon points="311.06,327.06 317.92,323.78 323.86,328.78 317,332.06" fill="#8fff70"/>
<polygon points="302.48,324.9 308.42,329.9 308.42,338.02 302.48,333.02" fill="#0ff5e5"/>
<polygon points="308.42,329.9 315.29,326.62 315.29,334.74 308.42,338.02" fill="#0ff5e5"/>
<polygon points="302.48,324.9 309.35,321.62 315.29,326.62 308.42,329.9" fill="#10ffef"/>
<polygon points="293.91,329.23 299.85,334.23 299.85,342.12 293.91,337.12" fill="#008af5"/>
<polygon points="299.85,334.23 306.71,330.95 306.71,338.84 299.85,342.12" fill="#008af5"/>
<polygon points="293.91,329.23 300.77,325.95 306.71,330.95 299.85,334.23" fill="#008fff"/>
<polygon points="285.33,336.58 291.27,341.58 291.27,346.22 285.33,341.22" fill="#000ff5"/>
<polygon points="291.27,341.58 298.13,338.3 298.13,342.94 291.27,346.22" fill="#000ff5"/>
<polygon points="285.33,336.58 292.19,333.3 298.13,338.3 291.27,341.58" fill="#0010ff"/>
<polygon points="276.75,342.53 282.69,347.53 282.69,350.31 276.75,345.31" fill="#0f0fa2"/>
<polygon points="282.69,347.53 289.55,344.25 289.55,347.04 282.69,350.31" fill="#0f0fa2"/>
<polygon points="276.75,342.53 283.61,339.25 289.55,344.25 282.69,347.53" fill="#0f0fa8"/>
<polygon points="352.8,316.91 358.74,321.91 358.74,323.77 352.8,318.77" fill="#7a0000"/>
<polygon points="358.74,321.91 365.6,318.63 365.6,320.49 358.74,323.77" fill="#7a0000"/>
<polygon points="352.8,316.91 359.66,313.63 365.6,318.63 358.74,321.91" fill="#800000"/>
<polygon points="344.22,319.85 350.16,324.85 350.16,327.87 344.22,322.87" fill="#f50000"/>
<polygon points="350.16,324.85 357.02,321.57 357.02,324.59 350.16,327.87" fill="#f50000"/>
<polygon points="344.22,319.85 351.08,316.57 357.02,321.57 350.16,324.85" fill="#ff0000"/>
<polygon points="335.64,320.93 341.58,325.93 341.58,331.97 335.64,326.97" fill="#f57a00"/>
<polygon points="341.58,325.93 348.44,322.65 348.44,328.69 341.58,331.97" fill="#f57a00"/>
<polygon points="335.64,320.93 342.5,317.65 348.44,322.65 341.58,325.93" fill="#ff8000"/>
<polygon points="327.06,329.9 333,334.9 333,336.06 327.06,331.06" fill="#f5f500"/>
<polygon points="333,334.9 339.87,331.62 339.87,332.79 333,336.06" fill="#f5f500"/>
<polygon points="327.06,329.9 333.93,326.62 339.87,331.62 333,334.9" fill="#ffff00"/>
<polygon points="318.49,333.54 324.43,338.54 324.43,340.17 318.49,335.17" fill="#8af56b"/>
<polygon points="324.43,338.54 331.29,335.26 331.29,336.89 324.43,340.17" fill="#8af56b"/>
<polygon points="318.49,333.54 325.35,330.26 331.29,335.26 324.43,338.54" fill="#8fff70"/>
<polygon points="309.91,333 315.85,338 315.85,344.27 309.91,339.27" fill="#0ff5e5"/>
<polygon points="315.85,338 322.71,334.72 322.71,340.99 315.85,344.27" fill="#0ff5e5"/>
<polygon points="309.91,333 316.77,329.72 322.71,334.72 315.85,338" fill="#10ffef"/>
<polygon points="301.33,337.33 307.27,342.33 307.27,348.37 301.33,343.37" fill="#008af5"/>
<polygon points="307.27,342.33 314.13,339.05 314.13,345.09 307.27,348.37" fill="#008af5"/>
<polygon points="301.33,337.33 308.19,334.05 314.13,339.05 307.27,342.33" fill="#008fff"/>
<polygon points="292.75,343.06 298.69,348.06 298.69,352.47 292.75,347.47" fill="#000ff5"/>
<polygon points="298.69,348.06 305.56,344.78 305.56,349.19 298.69,352.47" fill="#000ff5"/>
<polygon points="292.75,343.06 299.62,339.78 305.56,344.78 298.69,348.06" fill="#0010ff"/>
<polygon points="284.18,348.55 290.12,353.55 290.12,356.56 284.18,351.56" fill="#0f0fa2"/>
<polygon points="290.12,353.55 296.98,350.27 296.98,353.29 290.12,356.56" fill="#0f0fa2"/>
<polygon points="284.18,348.55 291.04,345.27 296.98,350.27 290.12,353.55" fill="#0f0fa8"/>
</g>
<path d="M230.6 261.2L290 311.2M290 311.2L367.2 274.3M290 357.6L290 311.2" fill="none" stroke="#222" stroke-opacity="0.8" stroke-width="0.48"/>
<polygon points="325.4,267.5 364.7,300.3 414.7,276.8 414.7,246.8 375.4,214 325.4,237.5" fill="#fff" stroke="none"/>
<path d="M328.18 266.19L328.18 236.19M328.18 266.19L367.48 298.99M333.73 263.58L333.73 233.58M333.73 263.58L373.03 296.38M339.29 260.97L339.29 230.97M339.29 260.97L378.59 293.77M344.84 258.36L344.84 228.36M344.84 258.36L384.14 291.16M350.4 255.75L350.4 225.75M350.4 255.75L389.7 288.55M355.96 253.14L355.96 223.14M355.96 253.14L395.26 285.94M361.51 250.53L361.51 220.53M361.51 250.53L400.81 283.33M367.07 247.92L367.07 217.92M367.07 247.92L406.37 280.72M372.62 245.31L372.62 215.31M372.62 245.31L411.92 278.11M377.86 246.05L377.86 216.05M377.86 246.05L327.86 269.55M382.77 250.15L382.77 220.15M382.77 250.15L332.77 273.65M387.68 254.25L387.68 224.25M387.68 254.25L337.68 277.75M392.59 258.35L392.59 228.35M392.59 258.35L342.59 281.85M397.51 262.45L397.51 232.45M397.51 262.45L347.51 285.95M402.42 266.55L402.42 236.55M402.42 266.55L352.42 290.05M407.33 270.65L407.33 240.65M407.33 270.65L357.33 294.15M412.24 274.75L412.24 244.75M412.24 274.75L362.24 298.25M325.4 267.5L375.4 244L414.7 276.8M325.4 252.5L375.4 229L414.7 261.8M325.4 237.5L375.4 214L414.7 246.8" fill="none" stroke="#000" stroke-width="0.6" stroke-dasharray="0.6 2.2"/>
<path d="M325.4 237.5L375.4 214M375.4 214L414.7 246.8M325.4 267.5L375.4 244M375.4 244L414.7 276.8" fill="none" stroke="#4a4a4a" stroke-width="0.57"/>
<path d="M325.4 267.5L364.7 300.3M364.7 300.3L414.7 276.8" fill="none" stroke="#222" stroke-width="0.66"/>
<path d="M325.4 267.5L325.4 237.5" fill="none" stroke="#666" stroke-width="1.2"/>
<path d="M414.7 276.8L414.7 246.8" fill="none" stroke="#111" stroke-width="0.7"/>
<path d="M375.4 244L375.4 214" fill="none" stroke="#888" stroke-width="0.9"/>
<g stroke="#000" stroke-opacity="0.85" stroke-width="0.4" stroke-linejoin="round">
<polygon points="370.89,239.56 374.82,242.84 374.82,250.04 370.89,246.76" fill="#7a0000"/>
<polygon points="374.82,242.84 379.27,240.75 379.27,247.95 374.82,250.04" fill="#7a0000"/>
<polygon points="370.89,239.56 375.34,237.47 379.27,240.75 374.82,242.84" fill="#800000"/>
<polygon points="365.34,241.87 369.27,245.15 369.27,252.65 365.34,249.37" fill="#f50000"/>
<polygon points="369.27,245.15 373.71,243.06 373.71,250.56 369.27,252.65" fill="#f50000"/>
<polygon points="365.34,241.87 369.78,239.78 373.71,243.06 369.27,245.15" fill="#ff0000"/>
<polygon points="359.78,248.08 363.71,251.36 363.71,255.26 359.78,251.98" fill="#f57a00"/>
<polygon points="363.71,251.36 368.15,249.27 368.15,253.17 363.71,255.26" fill="#f57a00"/>
<polygon points="359.78,248.08 364.22,245.99 368.15,249.27 363.71,251.36" fill="#ff8000"/>
<polygon points="354.22,247.99 358.15,251.27 358.15,257.87 354.22,254.59" fill="#f5f500"/>
<polygon points="358.15,251.27 362.6,249.18 362.6,255.78 358.15,257.87" fill="#f5f500"/>
<polygon points="354.22,247.99 358.67,245.9 362.6,249.18 358.15,251.27" fill="#ffff00"/>
<polygon points="348.67,250.6 352.6,253.88 352.6,260.48 348.67,257.2" fill="#8af56b"/>
<polygon points="352.6,253.88 357.04,251.8 357.04,258.4 352.6,260.48" fill="#8af56b"/>
<polygon points="348.67,250.6 353.11,248.52 357.04,251.8 352.6,253.88" fill="#8fff70"/>
<polygon points="343.11,256.52 347.04,259.8 347.04,263.1 343.11,259.82" fill="#0ff5e5"/>
<polygon points="347.04,259.8 351.49,257.71 351.49,261.01 347.04,263.1" fill="#0ff5e5"/>
<polygon points="343.11,256.52 347.56,254.43 351.49,257.71 347.04,259.8" fill="#10ffef"/>
<polygon points="337.56,259.13 341.49,262.41 341.49,265.71 337.56,262.43" fill="#008af5"/>
<polygon points="341.49,262.41 345.93,260.32 345.93,263.62 341.49,265.71" fill="#008af5"/>
<polygon points="337.56,259.13 342,257.04 345.93,260.32 341.49,262.41" fill="#008fff"/>
<polygon points="332,262.04 335.93,265.32 335.93,268.32 332,265.04" fill="#000ff5"/>
<polygon points="335.93,265.32 340.38,263.23 340.38,266.23 335.93,268.32" fill="#000ff5"/>
<polygon points="332,262.04 336.45,259.95 340.38,263.23 335.93,265.32" fill="#0010ff"/>
<polygon points="326.45,254.15 330.38,257.43 330.38,270.93 326.45,267.65" fill="#0f0fa2"/>
<polygon points="330.38,257.43 334.82,255.34 334.82,268.84 330.38,270.93" fill="#0f0fa2"/>
<polygon points="326.45,254.15 330.89,252.06 334.82,255.34 330.38,257.43" fill="#0f0fa8"/>
<polygon points="375.8,243.36 379.73,246.64 379.73,254.14 375.8,250.86" fill="#7a0000"/>
<polygon points="379.73,246.64 384.18,244.55 384.18,252.05 379.73,254.14" fill="#7a0000"/>
<polygon points="375.8,243.36 380.25,241.27 384.18,244.55 379.73,246.64" fill="#800000"/>
<polygon points="370.25,252.87 374.18,256.15 374.18,256.75 370.25,253.47" fill="#f50000"/>
<polygon points="374.18,256.15 378.62,254.06 378.62,254.66 374.18,256.75" fill="#f50000"/>
<polygon points="370.25,252.87 374.69,250.78 378.62,254.06 374.18,256.15" fill="#ff0000"/>
<polygon points="364.69,251.88 368.62,255.16 368.62,259.36 364.69,256.08" fill="#f57a00"/>
<polygon points="368.62,255.16 373.07,253.07 373.07,257.27 368.62,259.36" fill="#f57a00"/>
<polygon points="364.69,251.88 369.14,249.79 373.07,253.07 368.62,255.16" fill="#ff8000"/>
<polygon points="359.14,252.09 363.07,255.37 363.07,261.97 359.14,258.69" fill="#f5f500"/>
<polygon points="363.07,255.37 367.51,253.28 367.51,259.88 363.07,261.97" fill="#f5f500"/>
<polygon points="359.14,252.09 363.58,250 367.51,253.28 363.07,255.37" fill="#ffff00"/>
<polygon points="353.58,255 357.51,258.28 357.51,264.58 353.58,261.3" fill="#8af56b"/>
<polygon points="357.51,258.28 361.96,256.2 361.96,262.5 357.51,264.58" fill="#8af56b"/>
<polygon points="353.58,255 358.03,252.92 361.96,256.2 357.51,258.28" fill="#8fff70"/>
<polygon points="348.03,260.62 351.96,263.9 351.96,267.2 348.03,263.92" fill="#0ff5e5"/>
<polygon points="351.96,263.9 356.4,261.81 356.4,265.11 351.96,267.2" fill="#0ff5e5"/>
<polygon points="348.03,260.62 352.47,258.53 356.4,261.81 351.96,263.9" fill="#10ffef"/>
<polygon points="342.47,263.23 346.4,266.51 346.4,269.81 342.47,266.53" fill="#008af5"/>
<polygon points="346.4,266.51 350.84,264.42 350.84,267.72 346.4,269.81" fill="#008af5"/>
<polygon points="342.47,263.23 346.91,261.14 350.84,264.42 346.4,266.51" fill="#008fff"/>
<polygon points="336.91,266.14 340.84,269.42 340.84,272.42 336.91,269.14" fill="#000ff5"/>
<polygon points="340.84,269.42 345.29,267.33 345.29,270.33 340.84,272.42" fill="#000ff5"/>
<polygon points="336.91,266.14 341.36,264.05 345.29,267.33 340.84,269.42" fill="#0010ff"/>
<polygon points="331.36,258.55 335.29,261.83 335.29,275.03 331.36,271.75" fill="#0f0fa2"/>
<polygon points="335.29,261.83 339.73,259.74 339.73,272.94 335.29,275.03" fill="#0f0fa2"/>
<polygon points="331.36,258.55 335.8,256.46 339.73,259.74 335.29,261.83" fill="#0f0fa8"/>
<polygon points="380.72,248.06 384.65,251.34 384.65,258.24 380.72,254.96" fill="#7a0000"/>
<polygon points="384.65,251.34 389.09,249.25 389.09,256.15 384.65,258.24" fill="#7a0000"/>
<polygon points="380.72,248.06 385.16,245.97 389.09,249.25 384.65,251.34" fill="#800000"/>
<polygon points="375.16,250.52 379.09,253.8 379.09,260.85 375.16,257.57" fill="#f50000"/>
<polygon points="379.09,253.8 383.54,251.71 383.54,258.76 379.09,260.85" fill="#f50000"/>
<polygon points="375.16,250.52 379.61,248.43 383.54,251.71 379.09,253.8" fill="#ff0000"/>
<polygon points="369.61,256.58 373.54,259.86 373.54,263.46 369.61,260.18" fill="#f57a00"/>
<polygon points="373.54,259.86 377.98,257.77 377.98,261.37 373.54,263.46" fill="#f57a00"/>
<polygon points="369.61,256.58 374.05,254.49 377.98,257.77 373.54,259.86" fill="#ff8000"/>
<polygon points="364.05,262.19 367.98,265.47 367.98,266.07 364.05,262.79" fill="#f5f500"/>
<polygon points="367.98,265.47 372.42,263.38 372.42,263.98 367.98,266.07" fill="#f5f500"/>
<polygon points="364.05,262.19 368.49,260.1 372.42,263.38 367.98,265.47" fill="#ffff00"/>
<polygon points="358.49,258.5 362.42,261.78 362.42,268.68 358.49,265.4" fill="#8af56b"/>
<polygon points="362.42,261.78 366.87,259.7 366.87,266.6 362.42,268.68" fill="#8af56b"/>
<polygon points="358.49,258.5 362.94,256.42 366.87,259.7 362.42,261.78" fill="#8fff70"/>
<polygon points="352.94,264.72 356.87,268 356.87,271.3 352.94,268.02" fill="#0ff5e5"/>
<polygon points="356.87,268 361.31,265.91 361.31,269.21 356.87,271.3" fill="#0ff5e5"/>
<polygon points="352.94,264.72 357.38,262.63 361.31,265.91 356.87,268" fill="#10ffef"/>
<polygon points="347.38,267.33 351.31,270.61 351.31,273.91 347.38,270.63" fill="#008af5"/>
<polygon points="351.31,270.61 355.76,268.52 355.76,271.82 351.31,273.91" fill="#008af5"/>
<polygon points="347.38,267.33 351.83,265.24 355.76,268.52 351.31,270.61" fill="#008fff"/>
<polygon points="341.83,270.24 345.76,273.52 345.76,276.52 341.83,273.24" fill="#000ff5"/>
<polygon points="345.76,273.52 350.2,271.43 350.2,274.43 345.76,276.52" fill="#000ff5"/>
<polygon points="341.83,270.24 346.27,268.15 350.2,271.43 345.76,273.52" fill="#0010ff"/>
<polygon points="336.27,275.7 340.2,278.98 340.2,279.13 336.27,275.85" fill="#0f0fa2"/>
<polygon points="340.2,278.98 344.65,276.89 344.65,277.04 340.2,279.13" fill="#0f0fa2"/>
<polygon points="336.27,275.7 340.72,273.61 344.65,276.89 340.2,278.98" fill="#0f0fa8"/>
<polygon points="385.63,252.16 389.56,255.44 389.56,262.34 385.63,259.06" fill="#7a0000"/>
<polygon points="389.56,255.44 394,253.35 394,260.25 389.56,262.34" fill="#7a0000"/>
<polygon points="385.63,252.16 390.07,250.07 394,253.35 389.56,255.44" fill="#800000"/>
<polygon points="380.07,261.07 384,264.35 384,264.95 380.07,261.67" fill="#f50000"/>
<polygon points="384,264.35 388.45,262.26 388.45,262.86 384,264.95" fill="#f50000"/>
<polygon points="380.07,261.07 384.52,258.98 388.45,262.26 384,264.35" fill="#ff0000"/>
<polygon points="374.52,260.68 378.45,263.96 378.45,267.56 374.52,264.28" fill="#f57a00"/>
<polygon points="378.45,263.96 382.89,261.87 382.89,265.47 378.45,267.56" fill="#f57a00"/>
<polygon points="374.52,260.68 378.96,258.59 382.89,261.87 378.45,263.96" fill="#ff8000"/>
<polygon points="368.96,266.29 372.89,269.57 372.89,270.17 368.96,266.89" fill="#f5f500"/>
<polygon points="372.89,269.57 377.34,267.48 377.34,268.08 372.89,270.17" fill="#f5f500"/>
<polygon points="368.96,266.29 373.41,264.2 377.34,267.48 372.89,269.57" fill="#ffff00"/>
<polygon points="363.41,263.5 367.34,266.78 367.34,272.78 363.41,269.5" fill="#8af56b"/>
<polygon points="367.34,266.78 371.78,264.7 371.78,270.7 367.34,272.78" fill="#8af56b"/>
<polygon points="363.41,263.5 367.85,261.42 371.78,264.7 367.34,266.78" fill="#8fff70"/>
<polygon points="357.85,268.82 361.78,272.1 361.78,275.4 357.85,272.12" fill="#0ff5e5"/>
<polygon points="361.78,272.1 366.23,270.01 366.23,273.31 361.78,275.4" fill="#0ff5e5"/>
<polygon points="357.85,268.82 362.3,266.73 366.23,270.01 361.78,272.1" fill="#10ffef"/>
<polygon points="352.3,271.43 356.23,274.71 356.23,278.01 352.3,274.73" fill="#008af5"/>
<polygon points="356.23,274.71 360.67,272.62 360.67,275.92 356.23,278.01" fill="#008af5"/>
<polygon points="352.3,271.43 356.74,269.34 360.67,272.62 356.23,274.71" fill="#008fff"/>
<polygon points="346.74,274.34 350.67,277.62 350.67,280.62 346.74,277.34" fill="#000ff5"/>
<polygon points="350.67,277.62 355.11,275.53 355.11,278.53 350.67,280.62" fill="#000ff5"/>
<polygon points="346.74,274.34 351.18,272.25 355.11,275.53 350.67,277.62" fill="#0010ff"/>
<polygon points="341.18,279.8 345.11,283.08 345.11,283.23 341.18,279.95" fill="#0f0fa2"/>
<polygon points="345.11,283.08 349.56,280.99 349.56,281.14 345.11,283.23" fill="#0f0fa2"/>
<polygon points="341.18,279.8 345.63,277.71 349.56,280.99 345.11,283.08" fill="#0f0fa8"/>
<polygon points="390.54,262.26 394.47,265.54 394.47,266.44 390.54,263.16" fill="#7a0000"/>
<polygon points="394.47,265.54 398.92,263.45 398.92,264.35 394.47,266.44" fill="#7a0000"/>
<polygon points="390.54,262.26 394.99,260.17 398.92,263.45 394.47,265.54" fill="#800000"/>
<polygon points="384.99,259.17 388.92,262.45 388.92,269.05 384.99,265.77" fill="#f50000"/>
<polygon points="388.92,262.45 393.36,260.36 393.36,266.96 388.92,269.05" fill="#f50000"/>
<polygon points="384.99,259.17 389.43,257.08 393.36,260.36 388.92,262.45" fill="#ff0000"/>
<polygon points="379.43,264.78 383.36,268.06 383.36,271.66 379.43,268.38" fill="#f57a00"/>
<polygon points="383.36,268.06 387.8,265.97 387.8,269.57 383.36,271.66" fill="#f57a00"/>
<polygon points="379.43,264.78 383.87,262.69 387.8,265.97 383.36,268.06" fill="#ff8000"/>
<polygon points="373.87,264.69 377.8,267.97 377.8,274.27 373.87,270.99" fill="#f5f500"/>
<polygon points="377.8,267.97 382.25,265.88 382.25,272.18 377.8,274.27" fill="#f5f500"/>
<polygon points="373.87,264.69 378.32,262.6 382.25,265.88 377.8,267.97" fill="#ffff00"/>
<polygon points="368.32,272.7 372.25,275.98 372.25,276.88 368.32,273.6" fill="#8af56b"/>
<polygon points="372.25,275.98 376.69,273.9 376.69,274.8 372.25,276.88" fill="#8af56b"/>
<polygon points="368.32,272.7 372.76,270.62 376.69,273.9 372.25,275.98" fill="#8fff70"/>
<polygon points="362.76,272.62 366.69,275.9 366.69,279.5 362.76,276.22" fill="#0ff5e5"/>
<polygon points="366.69,275.9 371.14,273.81 371.14,277.41 366.69,279.5" fill="#0ff5e5"/>
<polygon points="362.76,272.62 367.21,270.53 371.14,273.81 366.69,275.9" fill="#10ffef"/>
<polygon points="357.21,275.53 361.14,278.81 361.14,282.11 357.21,278.83" fill="#008af5"/>
<polygon points="361.14,278.81 365.58,276.72 365.58,280.02 361.14,282.11" fill="#008af5"/>
<polygon points="357.21,275.53 361.65,273.44 365.58,276.72 361.14,278.81" fill="#008fff"/>
<polygon points="351.65,278.44 355.58,281.72 355.58,284.72 351.65,281.44" fill="#000ff5"/>
<polygon points="355.58,281.72 360.03,279.63 360.03,282.63 355.58,284.72" fill="#000ff5"/>
<polygon points="351.65,278.44 356.1,276.35 360.03,279.63 355.58,281.72" fill="#0010ff"/>
<polygon points="346.1,283.9 350.03,287.18 350.03,287.33 346.1,284.05" fill="#0f0fa2"/>
<polygon points="350.03,287.18 354.47,285.09 354.47,285.24 350.03,287.33" fill="#0f0fa2"/>
<polygon points="346.1,283.9 350.54,281.81 354.47,285.09 350.03,287.18" fill="#0f0fa8"/>
<polygon points="395.45,266.36 399.38,269.64 399.38,270.54 395.45,267.26" fill="#7a0000"/>
<polygon points="399.38,269.64 403.83,267.55 403.83,268.45 399.38,270.54" fill="#7a0000"/>
<polygon points="395.45,266.36 399.9,264.27 403.83,267.55 399.38,269.64" fill="#800000"/>
<polygon points="389.9,269.27 393.83,272.55 393.83,273.15 389.9,269.87" fill="#f50000"/>
<polygon points="393.83,272.55 398.27,270.46 398.27,271.06 393.83,273.15" fill="#f50000"/>
<polygon points="389.9,269.27 394.34,267.18 398.27,270.46 393.83,272.55" fill="#ff0000"/>
<polygon points="384.34,269.18 388.27,272.46 388.27,275.76 384.34,272.48" fill="#f57a00"/>
<polygon points="388.27,272.46 392.72,270.37 392.72,273.67 388.27,275.76" fill="#f57a00"/>
<polygon points="384.34,269.18 388.79,267.09 392.72,270.37 388.27,272.46" fill="#ff8000"/>
<polygon points="378.79,268.19 382.72,271.47 382.72,278.37 378.79,275.09" fill="#f5f500"/>
<polygon points="382.72,271.47 387.16,269.38 387.16,276.28 382.72,278.37" fill="#f5f500"/>
<polygon points="378.79,268.19 383.23,266.1 387.16,269.38 382.72,271.47" fill="#ffff00"/>
<polygon points="373.23,276.8 377.16,280.08 377.16,280.98 373.23,277.7" fill="#8af56b"/>
<polygon points="377.16,280.08 381.61,278 381.61,278.9 377.16,280.98" fill="#8af56b"/>
<polygon points="373.23,276.8 377.68,274.72 381.61,278 377.16,280.08" fill="#8fff70"/>
<polygon points="367.68,276.72 371.61,280 371.61,283.6 367.68,280.32" fill="#0ff5e5"/>
<polygon points="371.61,280 376.05,277.91 376.05,281.51 371.61,283.6" fill="#0ff5e5"/>
<polygon points="367.68,276.72 372.12,274.63 376.05,277.91 371.61,280" fill="#10ffef"/>
<polygon points="362.12,279.63 366.05,282.91 366.05,286.21 362.12,282.93" fill="#008af5"/>
<polygon points="366.05,282.91 370.49,280.82 370.49,284.12 366.05,286.21" fill="#008af5"/>
<polygon points="362.12,279.63 366.56,277.54 370.49,280.82 366.05,282.91" fill="#008fff"/>
<polygon points="356.56,282.54 360.49,285.82 360.49,288.82 356.56,285.54" fill="#000ff5"/>
<polygon points="360.49,285.82 364.94,283.73 364.94,286.73 360.49,288.82" fill="#000ff5"/>
<polygon points="356.56,282.54 361.01,280.45 364.94,283.73 360.49,285.82" fill="#0010ff"/>
<polygon points="351.01,288 354.94,291.28 354.94,291.43 351.01,288.15" fill="#0f0fa2"/>
<polygon points="354.94,291.28 359.38,289.19 359.38,289.34 354.94,291.43" fill="#0f0fa2"/>
<polygon points="351.01,288 355.45,285.91 359.38,289.19 354.94,291.28" fill="#0f0fa8"/>
<polygon points="400.37,270.76 404.3,274.04 404.3,274.64 400.37,271.36" fill="#7a0000"/>
<polygon points="404.3,274.04 408.74,271.95 408.74,272.55 404.3,274.64" fill="#7a0000"/>
<polygon points="400.37,270.76 404.81,268.67 408.74,271.95 404.3,274.04" fill="#800000"/>
<polygon points="394.81,266.62 398.74,269.9 398.74,277.25 394.81,273.97" fill="#f50000"/>
<polygon points="398.74,269.9 403.19,267.81 403.19,275.16 398.74,277.25" fill="#f50000"/>
<polygon points="394.81,266.62 399.26,264.53 403.19,267.81 398.74,269.9" fill="#ff0000"/>
<polygon points="389.26,272.68 393.19,275.96 393.19,279.86 389.26,276.58" fill="#f57a00"/>
<polygon points="393.19,275.96 397.63,273.87 397.63,277.77 393.19,279.86" fill="#f57a00"/>
<polygon points="389.26,272.68 393.7,270.59 397.63,273.87 393.19,275.96" fill="#ff8000"/>
<polygon points="383.7,278.89 387.63,282.17 387.63,282.47 383.7,279.19" fill="#f5f500"/>
<polygon points="387.63,282.17 392.07,280.08 392.07,280.38 387.63,282.47" fill="#f5f500"/>
<polygon points="383.7,278.89 388.14,276.8 392.07,280.08 387.63,282.17" fill="#ffff00"/>
<polygon points="378.14,280.9 382.07,284.18 382.07,285.08 378.14,281.8" fill="#8af56b"/>
<polygon points="382.07,284.18 386.52,282.1 386.52,283 382.07,285.08" fill="#8af56b"/>
<polygon points="378.14,280.9 382.59,278.82 386.52,282.1 382.07,284.18" fill="#8fff70"/>
<polygon points="372.59,280.82 376.52,284.1 376.52,287.7 372.59,284.42" fill="#0ff5e5"/>
<polygon points="376.52,284.1 380.96,282.01 380.96,285.61 376.52,287.7" fill="#0ff5e5"/>
<polygon points="372.59,280.82 377.03,278.73 380.96,282.01 376.52,284.1" fill="#10ffef"/>
<polygon points="367.03,283.73 370.96,287.01 370.96,290.31 367.03,287.03" fill="#008af5"/>
<polygon points="370.96,287.01 375.41,284.92 375.41,288.22 370.96,290.31" fill="#008af5"/>
<polygon points="367.03,283.73 371.48,281.64 375.41,284.92 370.96,287.01" fill="#008fff"/>
<polygon points="361.48,286.64 365.41,289.92 365.41,292.92 361.48,289.64" fill="#000ff5"/>
<polygon points="365.41,289.92 369.85,287.83 369.85,290.83 365.41,292.92" fill="#000ff5"/>
<polygon points="361.48,286.64 365.92,284.55 369.85,287.83 365.41,289.92" fill="#0010ff"/>
<polygon points="355.92,292.1 359.85,295.38 359.85,295.53 355.92,292.25" fill="#0f0fa2"/>
<polygon points="359.85,295.38 364.3,293.29 364.3,293.44 359.85,295.53" fill="#0f0fa2"/>
<polygon points="355.92,292.1 360.37,290.01 364.3,293.29 359.85,295.38" fill="#0f0fa8"/>
<polygon points="405.28,274.86 409.21,278.14 409.21,278.74 405.28,275.46" fill="#7a0000"/>
<polygon points="409.21,278.14 413.65,276.05 413.65,276.65 409.21,278.74" fill="#7a0000"/>
<polygon points="405.28,274.86 409.72,272.77 413.65,276.05 409.21,278.14" fill="#800000"/>
<polygon points="399.72,277.47 403.65,280.75 403.65,281.35 399.72,278.07" fill="#f50000"/>
<polygon points="403.65,280.75 408.1,278.66 408.1,279.26 403.65,281.35" fill="#f50000"/>
<polygon points="399.72,277.47 404.17,275.38 408.1,278.66 403.65,280.75" fill="#ff0000"/>
<polygon points="394.17,277.08 398.1,280.36 398.1,283.96 394.17,280.68" fill="#f57a00"/>
<polygon points="398.1,280.36 402.54,278.27 402.54,281.87 398.1,283.96" fill="#f57a00"/>
<polygon points="394.17,277.08 398.61,274.99 402.54,278.27 398.1,280.36" fill="#ff8000"/>
<polygon points="388.61,282.99 392.54,286.27 392.54,286.57 388.61,283.29" fill="#f5f500"/>
<polygon points="392.54,286.27 396.99,284.18 396.99,284.48 392.54,286.57" fill="#f5f500"/>
<polygon points="388.61,282.99 393.06,280.9 396.99,284.18 392.54,286.27" fill="#ffff00"/>
<polygon points="383.06,285 386.99,288.28 386.99,289.18 383.06,285.9" fill="#8af56b"/>
<polygon points="386.99,288.28 391.43,286.2 391.43,287.1 386.99,289.18" fill="#8af56b"/>
<polygon points="383.06,285 387.5,282.92 391.43,286.2 386.99,288.28" fill="#8fff70"/>
<polygon points="377.5,284.92 381.43,288.2 381.43,291.8 377.5,288.52" fill="#0ff5e5"/>
<polygon points="381.43,288.2 385.88,286.11 385.88,289.71 381.43,291.8" fill="#0ff5e5"/>
<polygon points="377.5,284.92 381.95,282.83 385.88,286.11 381.43,288.2" fill="#10ffef"/>
<polygon points="371.95,287.83 375.88,291.11 375.88,294.41 371.95,291.13" fill="#008af5"/>
<polygon points="375.88,291.11 380.32,289.02 380.32,292.32 375.88,294.41" fill="#008af5"/>
<polygon points="371.95,287.83 376.39,285.74 380.32,289.02 375.88,291.11" fill="#008fff"/>
<polygon points="366.39,290.74 370.32,294.02 370.32,297.02 366.39,293.74" fill="#000ff5"/>
<polygon points="370.32,294.02 374.76,291.93 374.76,294.93 370.32,297.02" fill="#000ff5"/>
<polygon points="366.39,290.74 370.83,288.65 374.76,291.93 370.32,294.02" fill="#0010ff"/>
<polygon points="360.83,296.2 364.76,299.48 364.76,299.63 360.83,296.35" fill="#0f0fa2"/>
<polygon points="364.76,299.48 369.21,297.39 369.21,297.54 364.76,299.63" fill="#0f0fa2"/>
<polygon points="360.83,296.2 365.28,294.11 369.21,297.39 364.76,299.48" fill="#0f0fa8"/>
</g>
<path d="M325.4 237.5L364.7 270.3M364.7 270.3L414.7 246.8M364.7 300.3L364.7 270.3" fill="none" stroke="#222" stroke-opacity="0.8" stroke-width="0.48"/>
<text x="204.5" y="286.15" font-size="12.1" text-anchor="middle" font-family="'Liberation Sans',sans-serif" transform="rotate(-90 204.5 286.15)" >Probabilities</text>
<text x="226.3" y="263.05" font-size="10.6" text-anchor="end" font-family="'Liberation Sans',sans-serif"  stroke="#000" stroke-width="0.1">1</text>
<text x="226.3" y="286.35" font-size="10.6" text-anchor="end" font-family="'Liberation Sans',sans-serif"  stroke="#000" stroke-width="0.1">0.5</text>
<text x="226.3" y="309.6" font-size="10.6" text-anchor="end" font-family="'Liberation Sans',sans-serif"  stroke="#000" stroke-width="0.1">0</text>
<text x="226.4" y="324.15" font-size="10.2" text-anchor="middle" font-family="'Liberation Sans',sans-serif"  stroke="#000" stroke-width="0.1">1</text>
<text x="233.83" y="330.52" font-size="10.2" text-anchor="middle" font-family="'Liberation Sans',sans-serif"  stroke="#000" stroke-width="0.1">2</text>
<text x="241.26" y="336.89" font-size="10.2" text-anchor="middle" font-family="'Liberation Sans',sans-serif"  stroke="#000" stroke-width="0.1">3</text>
<text x="248.69" y="343.26" font-size="10.2" text-anchor="middle" font-family="'Liberation Sans',sans-serif"  stroke="#000" stroke-width="0.1">4</text>
<text x="256.12" y="349.63" font-size="10.2" text-anchor="middle" font-family="'Liberation Sans',sans-serif"  stroke="#000" stroke-width="0.1">5</text>
<text x="263.55" y="356" font-size="10.2" text-anchor="middle" font-family="'Liberation Sans',sans-serif"  stroke="#000" stroke-width="0.1">6</text>
<text x="270.98" y="362.37" font-size="10.2" text-anchor="middle" font-family="'Liberation Sans',sans-serif"  stroke="#000" stroke-width="0.1">7</text>
<text x="278.41" y="368.74" font-size="10.2" text-anchor="middle" font-family="'Liberation Sans',sans-serif"  stroke="#000" stroke-width="0.1">8</text>
<text x="301.2" y="370.85" font-size="10.2" text-anchor="middle" font-family="'Liberation Sans',sans-serif"  stroke="#000" stroke-width="0.1">1</text>
<text x="309.69" y="366.76" font-size="10.2" text-anchor="middle" font-family="'Liberation Sans',sans-serif"  stroke="#000" stroke-width="0.1">2</text>
<text x="318.18" y="362.67" font-size="10.2" text-anchor="middle" font-family="'Liberation Sans',sans-serif"  stroke="#000" stroke-width="0.1">3</text>
<text x="326.67" y="358.58" font-size="10.2" text-anchor="middle" font-family="'Liberation Sans',sans-serif"  stroke="#000" stroke-width="0.1">4</text>
<text x="335.16" y="354.49" font-size="10.2" text-anchor="middle" font-family="'Liberation Sans',sans-serif"  stroke="#000" stroke-width="0.1">5</text>
<text x="343.65" y="350.4" font-size="10.2" text-anchor="middle" font-family="'Liberation Sans',sans-serif"  stroke="#000" stroke-width="0.1">6</text>
<text x="352.14" y="346.31" font-size="10.2" text-anchor="middle" font-family="'Liberation Sans',sans-serif"  stroke="#000" stroke-width="0.1">7</text>
<text x="360.63" y="342.22" font-size="10.2" text-anchor="middle" font-family="'Liberation Sans',sans-serif"  stroke="#000" stroke-width="0.1">8</text>
<text x="369.12" y="338.13" font-size="10.2" text-anchor="middle" font-family="'Liberation Sans',sans-serif"  stroke="#000" stroke-width="0.1">9</text>
<text x="229.2" y="361.65" font-size="19" text-anchor="middle" font-family="'Liberation Serif',serif" font-style="italic"  stroke="#000" stroke-width="0.2">m</text>
<text x="352" y="368.65" font-size="19" text-anchor="middle" font-family="'Liberation Serif',serif" >α</text>
<polygon points="451.4,118.5 507.5,166.2 571.3,135.5 571.3,92.5 515.2,44.8 451.4,75.5" fill="#fff" stroke="none"/>
<path d="M455.39 116.58L455.39 73.58M455.39 116.58L511.49 164.28M463.36 112.74L463.36 69.74M463.36 112.74L519.46 160.44M471.34 108.91L471.34 65.91M471.34 108.91L527.44 156.61M479.31 105.07L479.31 62.07M479.31 105.07L535.41 152.77M487.29 101.23L487.29 58.23M487.29 101.23L543.39 148.93M495.26 97.39L495.26 54.39M495.26 97.39L551.36 145.09M503.24 93.56L503.24 50.56M503.24 93.56L559.34 141.26M511.21 89.72L511.21 46.72M511.21 89.72L567.31 137.42M518.71 90.78L518.71 47.78M518.71 90.78L454.91 121.48M525.72 96.74L525.72 53.74M525.72 96.74L461.92 127.44M532.73 102.71L532.73 59.71M532.73 102.71L468.93 133.41M539.74 108.67L539.74 65.67M539.74 108.67L475.94 139.37M546.76 114.63L546.76 71.63M546.76 114.63L482.96 145.33M553.77 120.59L553.77 77.59M553.77 120.59L489.97 151.29M560.78 126.56L560.78 83.56M560.78 126.56L496.98 157.26M567.79 132.52L567.79 89.52M567.79 132.52L503.99 163.22M451.4 118.5L515.2 87.8L571.3 135.5M451.4 97L515.2 66.3L571.3 114M451.4 75.5L515.2 44.8L571.3 92.5" fill="none" stroke="#000" stroke-width="0.6" stroke-dasharray="0.7 2.7"/>
<path d="M451.4 75.5L515.2 44.8M515.2 44.8L571.3 92.5M451.4 118.5L515.2 87.8M515.2 87.8L571.3 135.5" fill="none" stroke="#4a4a4a" stroke-width="0.57"/>
<path d="M451.4 118.5L507.5 166.2M507.5 166.2L571.3 135.5" fill="none" stroke="#222" stroke-width="0.66"/>
<path d="M451.4 118.5L451.4 75.5" fill="none" stroke="#111" stroke-width="0.7"/>
<path d="M571.3 135.5L571.3 92.5" fill="none" stroke="#666" stroke-width="0.7"/>
<path d="M515.2 87.8L515.2 44.8" fill="none" stroke="#555" stroke-width="0.8"/>
<path d="M454.91 121.48l-1.98 0.95M461.92 127.44l-1.98 0.95M468.93 133.41l-1.98 0.95M475.94 139.37l-1.98 0.95M482.96 145.33l-1.98 0.95M489.97 151.29l-1.98 0.95M496.98 157.26l-1.98 0.95M503.99 163.22l-1.98 0.95M511.49 164.28l1.68 1.43M519.46 160.44l1.68 1.43M527.44 156.61l1.68 1.43M535.41 152.77l1.68 1.43M543.39 148.93l1.68 1.43M551.36 145.09l1.68 1.43M559.34 141.26l1.68 1.43M567.31 137.42l1.68 1.43M451.4 118.5l-1.59 0.76M451.4 97l-1.59 0.76M451.4 75.5l-1.59 0.76" fill="none" stroke="#333" stroke-width="0.5"/>
<g stroke="#000" stroke-opacity="0.85" stroke-width="0.5" stroke-linejoin="round">
<polygon points="508.72,69.45 514.33,74.22 514.33,75.12 508.72,70.35" fill="#7a0000"/>
<polygon points="514.33,74.22 520.71,71.15 520.71,72.05 514.33,75.12" fill="#7a0000"/>
<polygon points="508.72,69.45 515.1,66.38 520.71,71.15 514.33,74.22" fill="#800000"/>
<polygon points="500.75,72.92 506.36,77.69 506.36,78.96 500.75,74.19" fill="#f50f00"/>
<polygon points="506.36,77.69 512.74,74.62 512.74,75.89 506.36,78.96" fill="#f50f00"/>
<polygon points="500.75,72.92 507.13,69.85 512.74,74.62 506.36,77.69" fill="#ff1000"/>
<polygon points="492.77,76.05 498.38,80.82 498.38,82.8 492.77,78.03" fill="#f59900"/>
<polygon points="498.38,80.82 504.76,77.75 504.76,79.72 498.38,82.8" fill="#f59900"/>
<polygon points="492.77,76.05 499.15,72.98 504.76,77.75 498.38,80.82" fill="#ff9f00"/>
<polygon points="484.8,78.83 490.41,83.6 490.41,86.63 484.8,81.86" fill="#c7f52e"/>
<polygon points="490.41,83.6 496.79,80.53 496.79,83.56 490.41,86.63" fill="#c7f52e"/>
<polygon points="484.8,78.83 491.18,75.76 496.79,80.53 490.41,83.6" fill="#cfff30"/>
<polygon points="476.82,82.46 482.43,87.23 482.43,90.47 476.82,85.7" fill="#3df5b8"/>
<polygon points="482.43,87.23 488.81,84.16 488.81,87.4 482.43,90.47" fill="#3df5b8"/>
<polygon points="476.82,82.46 483.2,79.39 488.81,84.16 482.43,87.23" fill="#40ffbf"/>
<polygon points="468.85,87.39 474.46,92.16 474.46,94.31 468.85,89.54" fill="#00a8f5"/>
<polygon points="474.46,92.16 480.84,89.09 480.84,91.24 474.46,94.31" fill="#00a8f5"/>
<polygon points="468.85,87.39 475.23,84.32 480.84,89.09 474.46,92.16" fill="#00afff"/>
<polygon points="460.87,91.76 466.48,96.53 466.48,98.15 460.87,93.38" fill="#001ff5"/>
<polygon points="466.48,96.53 472.86,93.46 472.86,95.07 466.48,98.15" fill="#001ff5"/>
<polygon points="460.87,91.76 467.25,88.69 472.86,93.46 466.48,96.53" fill="#0020ff"/>
<polygon points="452.9,96.34 458.51,101.11 458.51,101.98 452.9,97.21" fill="#0f0fa2"/>
<polygon points="458.51,101.11 464.89,98.04 464.89,98.91 458.51,101.98" fill="#0f0fa2"/>
<polygon points="452.9,96.34 459.28,93.27 464.89,98.04 458.51,101.11" fill="#0f0fa8"/>
<polygon points="515.74,74.87 521.35,79.64 521.35,81.08 515.74,76.31" fill="#7a0000"/>
<polygon points="521.35,79.64 527.73,76.57 527.73,78.01 521.35,81.08" fill="#7a0000"/>
<polygon points="515.74,74.87 522.12,71.8 527.73,76.57 521.35,79.64" fill="#800000"/>
<polygon points="507.76,77.6 513.37,82.37 513.37,84.92 507.76,80.15" fill="#f50f00"/>
<polygon points="513.37,82.37 519.75,79.3 519.75,81.85 513.37,84.92" fill="#f50f00"/>
<polygon points="507.76,77.6 514.14,74.53 519.75,79.3 513.37,82.37" fill="#ff1000"/>
<polygon points="499.79,80.03 505.4,84.8 505.4,88.76 499.79,83.99" fill="#f59900"/>
<polygon points="505.4,84.8 511.78,81.73 511.78,85.69 505.4,88.76" fill="#f59900"/>
<polygon points="499.79,80.03 506.17,76.96 511.78,81.73 505.4,84.8" fill="#ff9f00"/>
<polygon points="491.81,81.88 497.42,86.65 497.42,92.59 491.81,87.83" fill="#c7f52e"/>
<polygon points="497.42,86.65 503.8,83.58 503.8,89.52 497.42,92.59" fill="#c7f52e"/>
<polygon points="491.81,81.88 498.19,78.81 503.8,83.58 497.42,86.65" fill="#cfff30"/>
<polygon points="483.84,85.61 489.45,90.38 489.45,96.43 483.84,91.66" fill="#3df5b8"/>
<polygon points="489.45,90.38 495.83,87.31 495.83,93.36 489.45,96.43" fill="#3df5b8"/>
<polygon points="483.84,85.61 490.22,82.54 495.83,87.31 489.45,90.38" fill="#40ffbf"/>
<polygon points="475.86,91.06 481.47,95.83 481.47,100.27 475.86,95.5" fill="#00a8f5"/>
<polygon points="481.47,95.83 487.85,92.76 487.85,97.2 481.47,100.27" fill="#00a8f5"/>
<polygon points="475.86,91.06 482.24,87.99 487.85,92.76 481.47,95.83" fill="#00afff"/>
<polygon points="467.89,96.49 473.5,101.26 473.5,104.11 467.89,99.34" fill="#001ff5"/>
<polygon points="473.5,101.26 479.88,98.19 479.88,101.04 473.5,104.11" fill="#001ff5"/>
<polygon points="467.89,96.49 474.27,93.42 479.88,98.19 473.5,101.26" fill="#0020ff"/>
<polygon points="459.91,101.63 465.52,106.4 465.52,107.94 459.91,103.17" fill="#0f0fa2"/>
<polygon points="465.52,106.4 471.9,103.33 471.9,104.88 465.52,107.94" fill="#0f0fa2"/>
<polygon points="459.91,101.63 466.29,98.56 471.9,103.33 465.52,106.4" fill="#0f0fa8"/>
<polygon points="522.75,80.18 528.36,84.95 528.36,87.05 522.75,82.28" fill="#7a0000"/>
<polygon points="528.36,84.95 534.74,81.88 534.74,83.98 528.36,87.05" fill="#7a0000"/>
<polygon points="522.75,80.18 529.13,77.11 534.74,81.88 528.36,84.95" fill="#800000"/>
<polygon points="514.77,82.52 520.38,87.29 520.38,90.88 514.77,86.11" fill="#f50f00"/>
<polygon points="520.38,87.29 526.76,84.22 526.76,87.81 520.38,90.88" fill="#f50f00"/>
<polygon points="514.77,82.52 521.15,79.45 526.76,84.22 520.38,87.29" fill="#ff1000"/>
<polygon points="506.8,84.78 512.41,89.55 512.41,94.72 506.8,89.95" fill="#f59900"/>
<polygon points="512.41,89.55 518.79,86.48 518.79,91.65 512.41,94.72" fill="#f59900"/>
<polygon points="506.8,84.78 513.18,81.71 518.79,86.48 512.41,89.55" fill="#ff9f00"/>
<polygon points="498.82,85.65 504.43,90.42 504.43,98.56 498.82,93.79" fill="#c7f52e"/>
<polygon points="504.43,90.42 510.81,87.35 510.81,95.49 504.43,98.56" fill="#c7f52e"/>
<polygon points="498.82,85.65 505.2,82.58 510.81,87.35 504.43,90.42" fill="#cfff30"/>
<polygon points="490.85,88.78 496.46,93.55 496.46,102.4 490.85,97.62" fill="#3df5b8"/>
<polygon points="496.46,93.55 502.84,90.48 502.84,99.33 496.46,102.4" fill="#3df5b8"/>
<polygon points="490.85,88.78 497.23,85.71 502.84,90.48 496.46,93.55" fill="#40ffbf"/>
<polygon points="482.87,95.68 488.48,100.45 488.48,106.23 482.87,101.46" fill="#00a8f5"/>
<polygon points="488.48,100.45 494.86,97.38 494.86,103.16 488.48,106.23" fill="#00a8f5"/>
<polygon points="482.87,95.68 489.25,92.61 494.86,97.38 488.48,100.45" fill="#00afff"/>
<polygon points="474.9,100.94 480.51,105.71 480.51,110.07 474.9,105.3" fill="#001ff5"/>
<polygon points="480.51,105.71 486.89,102.64 486.89,107 480.51,110.07" fill="#001ff5"/>
<polygon points="474.9,100.94 481.28,97.87 486.89,102.64 480.51,105.71" fill="#0020ff"/>
<polygon points="466.92,106.9 472.53,111.67 472.53,113.91 466.92,109.14" fill="#0f0fa2"/>
<polygon points="472.53,111.67 478.91,108.6 478.91,110.84 472.53,113.91" fill="#0f0fa2"/>
<polygon points="466.92,106.9 473.3,103.83 478.91,108.6 472.53,111.67" fill="#0f0fa8"/>
<polygon points="529.76,85.04 535.37,89.81 535.37,93.01 529.76,88.24" fill="#7a0000"/>
<polygon points="535.37,89.81 541.75,86.74 541.75,89.94 535.37,93.01" fill="#7a0000"/>
<polygon points="529.76,85.04 536.14,81.97 541.75,86.74 535.37,89.81" fill="#800000"/>
<polygon points="521.79,86.82 527.4,91.59 527.4,96.84 521.79,92.08" fill="#f50f00"/>
<polygon points="527.4,91.59 533.78,88.52 533.78,93.77 527.4,96.84" fill="#f50f00"/>
<polygon points="521.79,86.82 528.17,83.75 533.78,88.52 527.4,91.59" fill="#ff1000"/>
<polygon points="513.81,87.23 519.42,92 519.42,100.68 513.81,95.91" fill="#f59900"/>
<polygon points="519.42,92 525.8,88.93 525.8,97.61 519.42,100.68" fill="#f59900"/>
<polygon points="513.81,87.23 520.19,84.16 525.8,88.93 519.42,92" fill="#ff9f00"/>
<polygon points="505.84,87.59 511.45,92.36 511.45,104.52 505.84,99.75" fill="#c7f52e"/>
<polygon points="511.45,92.36 517.83,89.29 517.83,101.45 511.45,104.52" fill="#c7f52e"/>
<polygon points="505.84,87.59 512.22,84.52 517.83,89.29 511.45,92.36" fill="#cfff30"/>
<polygon points="497.86,91 503.47,95.77 503.47,108.36 497.86,103.59" fill="#3df5b8"/>
<polygon points="503.47,95.77 509.85,92.7 509.85,105.29 503.47,108.36" fill="#3df5b8"/>
<polygon points="497.86,91 504.24,87.93 509.85,92.7 503.47,95.77" fill="#40ffbf"/>
<polygon points="489.89,98.42 495.5,103.19 495.5,112.19 489.89,107.43" fill="#00a8f5"/>
<polygon points="495.5,103.19 501.88,100.12 501.88,109.12 495.5,112.19" fill="#00a8f5"/>
<polygon points="489.89,98.42 496.27,95.35 501.88,100.12 495.5,103.19" fill="#00afff"/>
<polygon points="481.91,105.63 487.52,110.4 487.52,116.03 481.91,111.26" fill="#001ff5"/>
<polygon points="487.52,110.4 493.9,107.33 493.9,112.96 487.52,116.03" fill="#001ff5"/>
<polygon points="481.91,105.63 488.29,102.56 493.9,107.33 487.52,110.4" fill="#0020ff"/>
<polygon points="473.94,112 479.55,116.77 479.55,119.87 473.94,115.1" fill="#0f0fa2"/>
<polygon points="479.55,116.77 485.93,113.7 485.93,116.8 479.55,119.87" fill="#0f0fa2"/>
<polygon points="473.94,112 480.32,108.93 485.93,113.7 479.55,116.77" fill="#0f0fa8"/>
<polygon points="536.77,91.51 542.38,96.28 542.38,98.97 536.77,94.2" fill="#7a0000"/>
<polygon points="542.38,96.28 548.76,93.21 548.76,95.9 542.38,98.97" fill="#7a0000"/>
<polygon points="536.77,91.51 543.15,88.44 548.76,93.21 542.38,96.28" fill="#800000"/>
<polygon points="528.8,93.57 534.41,98.34 534.41,102.81 528.8,98.04" fill="#f50f00"/>
<polygon points="534.41,98.34 540.79,95.27 540.79,99.74 534.41,102.81" fill="#f50f00"/>
<polygon points="528.8,93.57 535.18,90.5 540.79,95.27 534.41,98.34" fill="#ff1000"/>
<polygon points="520.82,94.73 526.43,99.5 526.43,106.65 520.82,101.88" fill="#f59900"/>
<polygon points="526.43,99.5 532.81,96.43 532.81,103.58 526.43,106.65" fill="#f59900"/>
<polygon points="520.82,94.73 527.2,91.66 532.81,96.43 526.43,99.5" fill="#ff9f00"/>
<polygon points="512.85,94.14 518.46,98.91 518.46,110.48 512.85,105.71" fill="#c7f52e"/>
<polygon points="518.46,98.91 524.84,95.84 524.84,107.41 518.46,110.48" fill="#c7f52e"/>
<polygon points="512.85,94.14 519.23,91.07 524.84,95.84 518.46,98.91" fill="#cfff30"/>
<polygon points="504.87,96.99 510.48,101.76 510.48,114.32 504.87,109.55" fill="#3df5b8"/>
<polygon points="510.48,101.76 516.86,98.69 516.86,111.25 510.48,114.32" fill="#3df5b8"/>
<polygon points="504.87,96.99 511.25,93.92 516.86,98.69 510.48,101.76" fill="#40ffbf"/>
<polygon points="496.9,105.53 502.51,110.3 502.51,118.16 496.9,113.39" fill="#00a8f5"/>
<polygon points="502.51,110.3 508.89,107.23 508.89,115.09 502.51,118.16" fill="#00a8f5"/>
<polygon points="496.9,105.53 503.28,102.46 508.89,107.23 502.51,110.3" fill="#00afff"/>
<polygon points="488.92,111.31 494.53,116.08 494.53,122 488.92,117.22" fill="#001ff5"/>
<polygon points="494.53,116.08 500.91,113.01 500.91,118.93 494.53,122" fill="#001ff5"/>
<polygon points="488.92,111.31 495.3,108.24 500.91,113.01 494.53,116.08" fill="#0020ff"/>
<polygon points="480.95,118.13 486.56,122.9 486.56,125.83 480.95,121.06" fill="#0f0fa2"/>
<polygon points="486.56,122.9 492.94,119.83 492.94,122.76 486.56,125.83" fill="#0f0fa2"/>
<polygon points="480.95,118.13 487.33,115.06 492.94,119.83 486.56,122.9" fill="#0f0fa8"/>
<polygon points="543.79,98.14 549.4,102.91 549.4,104.93 543.79,100.16" fill="#7a0000"/>
<polygon points="549.4,102.91 555.78,99.84 555.78,101.86 549.4,104.93" fill="#7a0000"/>
<polygon points="543.79,98.14 550.17,95.07 555.78,99.84 549.4,102.91" fill="#800000"/>
<polygon points="535.81,100.74 541.42,105.51 541.42,108.77 535.81,104" fill="#f50f00"/>
<polygon points="541.42,105.51 547.8,102.44 547.8,105.7 541.42,108.77" fill="#f50f00"/>
<polygon points="535.81,100.74 542.19,97.67 547.8,102.44 541.42,105.51" fill="#ff1000"/>
<polygon points="527.84,102.6 533.45,107.37 533.45,112.61 527.84,107.84" fill="#f59900"/>
<polygon points="533.45,107.37 539.83,104.3 539.83,109.54 533.45,112.61" fill="#f59900"/>
<polygon points="527.84,102.6 534.22,99.53 539.83,104.3 533.45,107.37" fill="#ff9f00"/>
<polygon points="519.86,104.05 525.47,108.82 525.47,116.44 519.86,111.68" fill="#c7f52e"/>
<polygon points="525.47,108.82 531.85,105.75 531.85,113.38 525.47,116.44" fill="#c7f52e"/>
<polygon points="519.86,104.05 526.24,100.98 531.85,105.75 525.47,108.82" fill="#cfff30"/>
<polygon points="511.89,107.57 517.5,112.34 517.5,120.28 511.89,115.51" fill="#3df5b8"/>
<polygon points="517.5,112.34 523.88,109.27 523.88,117.21 517.5,120.28" fill="#3df5b8"/>
<polygon points="511.89,107.57 518.27,104.5 523.88,109.27 517.5,112.34" fill="#40ffbf"/>
<polygon points="503.91,113.7 509.52,118.47 509.52,124.12 503.91,119.35" fill="#00a8f5"/>
<polygon points="509.52,118.47 515.9,115.4 515.9,121.05 509.52,124.12" fill="#00a8f5"/>
<polygon points="503.91,113.7 510.29,110.63 515.9,115.4 509.52,118.47" fill="#00afff"/>
<polygon points="495.94,119.26 501.55,124.03 501.55,127.96 495.94,123.19" fill="#001ff5"/>
<polygon points="501.55,124.03 507.93,120.96 507.93,124.89 501.55,127.96" fill="#001ff5"/>
<polygon points="495.94,119.26 502.32,116.19 507.93,120.96 501.55,124.03" fill="#0020ff"/>
<polygon points="487.96,124.77 493.57,129.54 493.57,131.79 487.96,127.03" fill="#0f0fa2"/>
<polygon points="493.57,129.54 499.95,126.47 499.95,128.72 493.57,131.79" fill="#0f0fa2"/>
<polygon points="487.96,124.77 494.34,121.7 499.95,126.47 493.57,129.54" fill="#0f0fa8"/>
<polygon points="550.8,104.9 556.41,109.67 556.41,110.9 550.8,106.12" fill="#7a0000"/>
<polygon points="556.41,109.67 562.79,106.6 562.79,107.83 556.41,110.9" fill="#7a0000"/>
<polygon points="550.8,104.9 557.18,101.83 562.79,106.6 556.41,109.67" fill="#800000"/>
<polygon points="542.82,107.8 548.43,112.57 548.43,114.73 542.82,109.96" fill="#f50f00"/>
<polygon points="548.43,112.57 554.81,109.5 554.81,111.66 548.43,114.73" fill="#f50f00"/>
<polygon points="542.82,107.8 549.2,104.73 554.81,109.5 548.43,112.57" fill="#ff1000"/>
<polygon points="534.85,110.22 540.46,114.99 540.46,118.57 534.85,113.8" fill="#f59900"/>
<polygon points="540.46,114.99 546.84,111.92 546.84,115.5 540.46,118.57" fill="#f59900"/>
<polygon points="534.85,110.22 541.23,107.15 546.84,111.92 540.46,114.99" fill="#ff9f00"/>
<polygon points="526.87,112.64 532.48,117.41 532.48,122.41 526.87,117.64" fill="#c7f52e"/>
<polygon points="532.48,117.41 538.86,114.34 538.86,119.34 532.48,122.41" fill="#c7f52e"/>
<polygon points="526.87,112.64 533.25,109.57 538.86,114.34 532.48,117.41" fill="#cfff30"/>
<polygon points="518.9,116.05 524.51,120.82 524.51,126.25 518.9,121.48" fill="#3df5b8"/>
<polygon points="524.51,120.82 530.89,117.75 530.89,123.18 524.51,126.25" fill="#3df5b8"/>
<polygon points="518.9,116.05 525.28,112.98 530.89,117.75 524.51,120.82" fill="#40ffbf"/>
<polygon points="510.92,121.76 516.53,126.53 516.53,130.08 510.92,125.31" fill="#00a8f5"/>
<polygon points="516.53,126.53 522.91,123.46 522.91,127.01 516.53,130.08" fill="#00a8f5"/>
<polygon points="510.92,121.76 517.3,118.69 522.91,123.46 516.53,126.53" fill="#00afff"/>
<polygon points="502.95,126.5 508.56,131.27 508.56,133.92 502.95,129.15" fill="#001ff5"/>
<polygon points="508.56,131.27 514.94,128.2 514.94,130.85 508.56,133.92" fill="#001ff5"/>
<polygon points="502.95,126.5 509.33,123.43 514.94,128.2 508.56,131.27" fill="#0020ff"/>
<polygon points="494.97,131.61 500.58,136.38 500.58,137.76 494.97,132.99" fill="#0f0fa2"/>
<polygon points="500.58,136.38 506.96,133.31 506.96,134.69 500.58,137.76" fill="#0f0fa2"/>
<polygon points="494.97,131.61 501.35,128.54 506.96,133.31 500.58,136.38" fill="#0f0fa8"/>
<polygon points="557.81,111.26 563.42,116.03 563.42,116.86 557.81,112.09" fill="#7a0000"/>
<polygon points="563.42,116.03 569.8,112.96 569.8,113.79 563.42,116.86" fill="#7a0000"/>
<polygon points="557.81,111.26 564.19,108.19 569.8,112.96 563.42,116.03" fill="#800000"/>
<polygon points="549.84,114.58 555.45,119.35 555.45,120.69 549.84,115.93" fill="#f50f00"/>
<polygon points="555.45,119.35 561.83,116.28 561.83,117.62 555.45,120.69" fill="#f50f00"/>
<polygon points="549.84,114.58 556.22,111.51 561.83,116.28 555.45,119.35" fill="#ff1000"/>
<polygon points="541.86,117.85 547.47,122.62 547.47,124.53 541.86,119.76" fill="#f59900"/>
<polygon points="547.47,122.62 553.85,119.55 553.85,121.46 547.47,124.53" fill="#f59900"/>
<polygon points="541.86,117.85 548.24,114.78 553.85,119.55 547.47,122.62" fill="#ff9f00"/>
<polygon points="533.89,120.7 539.5,125.47 539.5,128.37 533.89,123.6" fill="#c7f52e"/>
<polygon points="539.5,125.47 545.88,122.4 545.88,125.3 539.5,128.37" fill="#c7f52e"/>
<polygon points="533.89,120.7 540.27,117.63 545.88,122.4 539.5,125.47" fill="#cfff30"/>
<polygon points="525.91,124.4 531.52,129.17 531.52,132.21 525.91,127.44" fill="#3df5b8"/>
<polygon points="531.52,129.17 537.9,126.1 537.9,129.14 531.52,132.21" fill="#3df5b8"/>
<polygon points="525.91,124.4 532.29,121.33 537.9,126.1 531.52,129.17" fill="#40ffbf"/>
<polygon points="517.94,129.08 523.55,133.85 523.55,136.05 517.94,131.28" fill="#00a8f5"/>
<polygon points="523.55,133.85 529.93,130.78 529.93,132.98 523.55,136.05" fill="#00a8f5"/>
<polygon points="517.94,129.08 524.32,126.01 529.93,130.78 523.55,133.85" fill="#00afff"/>
<polygon points="509.96,133.5 515.57,138.27 515.57,139.88 509.96,135.11" fill="#001ff5"/>
<polygon points="515.57,138.27 521.95,135.2 521.95,136.81 515.57,139.88" fill="#001ff5"/>
<polygon points="509.96,133.5 516.34,130.43 521.95,135.2 515.57,138.27" fill="#0020ff"/>
<polygon points="501.99,138.05 507.6,142.82 507.6,143.72 501.99,138.95" fill="#0f0fa2"/>
<polygon points="507.6,142.82 513.98,139.75 513.98,140.65 507.6,143.72" fill="#0f0fa2"/>
<polygon points="501.99,138.05 508.37,134.98 513.98,139.75 507.6,142.82" fill="#0f0fa8"/>
</g>
<path d="M451.4 75.5L507.5 123.2M507.5 123.2L571.3 92.5M507.5 166.2L507.5 123.2" fill="none" stroke="#222" stroke-opacity="0.8" stroke-width="0.48"/>
<polygon points="532.6,74 565.9,101.8 604.1,84 604.1,58.4 570.8,30.6 532.6,48.4" fill="#fff" stroke="none"/>
<path d="M534.99 72.89L534.99 47.29M534.99 72.89L568.29 100.69M539.76 70.66L539.76 45.06M539.76 70.66L573.06 98.46M544.54 68.44L544.54 42.84M544.54 68.44L577.84 96.24M549.31 66.21L549.31 40.61M549.31 66.21L582.61 94.01M554.09 63.99L554.09 38.39M554.09 63.99L587.39 91.79M558.86 61.76L558.86 36.16M558.86 61.76L592.16 89.56M563.64 59.54L563.64 33.94M563.64 59.54L596.94 87.34M568.41 57.31L568.41 31.71M568.41 57.31L601.71 85.11M572.88 57.94L572.88 32.34M572.88 57.94L534.68 75.74M577.04 61.41L577.04 35.81M577.04 61.41L538.84 79.21M581.21 64.89L581.21 39.29M581.21 64.89L543.01 82.69M585.37 68.36L585.37 42.76M585.37 68.36L547.17 86.16M589.53 71.84L589.53 46.24M589.53 71.84L551.33 89.64M593.69 75.31L593.69 49.71M593.69 75.31L555.49 93.11M597.86 78.79L597.86 53.19M597.86 78.79L559.66 96.59M602.02 82.26L602.02 56.66M602.02 82.26L563.82 100.06M532.6 74L570.8 56.2L604.1 84M532.6 61.2L570.8 43.4L604.1 71.2M532.6 48.4L570.8 30.6L604.1 58.4" fill="none" stroke="#000" stroke-width="0.6" stroke-dasharray="0.6 2.2"/>
<path d="M532.6 48.4L570.8 30.6M570.8 30.6L604.1 58.4M532.6 74L570.8 56.2M570.8 56.2L604.1 84" fill="none" stroke="#4a4a4a" stroke-width="0.57"/>
<path d="M532.6 74L565.9 101.8M565.9 101.8L604.1 84" fill="none" stroke="#222" stroke-width="0.66"/>
<path d="M532.6 74L532.6 48.4" fill="none" stroke="#666" stroke-width="1.2"/>
<path d="M604.1 84L604.1 58.4" fill="none" stroke="#666" stroke-width="0.6"/>
<path d="M570.8 56.2L570.8 30.6" fill="none" stroke="#888" stroke-width="0.9"/>
<g stroke="#000" stroke-opacity="0.85" stroke-width="0.33" stroke-linejoin="round">
<polygon points="566.92,44.81 570.25,47.59 570.25,48.53 566.92,45.75" fill="#7a0000"/>
<polygon points="570.25,47.59 574.07,45.81 574.07,46.75 570.25,48.53" fill="#7a0000"/>
<polygon points="566.92,44.81 570.74,43.03 574.07,45.81 570.25,47.59" fill="#800000"/>
<polygon points="562.14,46.51 565.47,49.29 565.47,50.75 562.14,47.97" fill="#f50f00"/>
<polygon points="565.47,49.29 569.29,47.51 569.29,48.97 565.47,50.75" fill="#f50f00"/>
<polygon points="562.14,46.51 565.96,44.73 569.29,47.51 565.47,49.29" fill="#ff1000"/>
<polygon points="557.37,48.24 560.7,51.02 560.7,52.98 557.37,50.2" fill="#f59900"/>
<polygon points="560.7,51.02 564.52,49.24 564.52,51.2 560.7,52.98" fill="#f59900"/>
<polygon points="557.37,48.24 561.19,46.46 564.52,49.24 560.7,51.02" fill="#ff9f00"/>
<polygon points="552.59,50.15 555.92,52.93 555.92,55.2 552.59,52.42" fill="#c7f52e"/>
<polygon points="555.92,52.93 559.74,51.15 559.74,53.42 555.92,55.2" fill="#c7f52e"/>
<polygon points="552.59,50.15 556.41,48.37 559.74,51.15 555.92,52.93" fill="#cfff30"/>
<polygon points="547.82,52.38 551.15,55.16 551.15,57.43 547.82,54.65" fill="#3df5b8"/>
<polygon points="551.15,55.16 554.97,53.38 554.97,55.65 551.15,57.43" fill="#3df5b8"/>
<polygon points="547.82,52.38 551.64,50.6 554.97,53.38 551.15,55.16" fill="#40ffbf"/>
<polygon points="543.04,54.91 546.37,57.69 546.37,59.66 543.04,56.88" fill="#00a8f5"/>
<polygon points="546.37,57.69 550.19,55.91 550.19,57.88 546.37,59.66" fill="#00a8f5"/>
<polygon points="543.04,54.91 546.86,53.13 550.19,55.91 546.37,57.69" fill="#00afff"/>
<polygon points="538.27,57.64 541.6,60.42 541.6,61.88 538.27,59.1" fill="#001ff5"/>
<polygon points="541.6,60.42 545.42,58.64 545.42,60.1 541.6,61.88" fill="#001ff5"/>
<polygon points="538.27,57.64 542.09,55.86 545.42,58.64 541.6,60.42" fill="#0020ff"/>
<polygon points="533.49,60.39 536.82,63.17 536.82,64.11 533.49,61.33" fill="#0f0fa2"/>
<polygon points="536.82,63.17 540.64,61.39 540.64,62.33 536.82,64.11" fill="#0f0fa2"/>
<polygon points="533.49,60.39 537.31,58.61 540.64,61.39 536.82,63.17" fill="#0f0fa8"/>
<polygon points="571.08,47.76 574.41,50.54 574.41,52.01 571.08,49.22" fill="#7a0000"/>
<polygon points="574.41,50.54 578.23,48.76 578.23,50.22 574.41,52.01" fill="#7a0000"/>
<polygon points="571.08,47.76 574.9,45.98 578.23,48.76 574.41,50.54" fill="#800000"/>
<polygon points="566.31,49.18 569.64,51.96 569.64,54.23 566.31,51.45" fill="#f50f00"/>
<polygon points="569.64,51.96 573.46,50.18 573.46,52.45 569.64,54.23" fill="#f50f00"/>
<polygon points="566.31,49.18 570.13,47.4 573.46,50.18 569.64,51.96" fill="#ff1000"/>
<polygon points="561.53,50.63 564.86,53.41 564.86,56.46 561.53,53.68" fill="#f59900"/>
<polygon points="564.86,53.41 568.68,51.63 568.68,54.68 564.86,56.46" fill="#f59900"/>
<polygon points="561.53,50.63 565.35,48.85 568.68,51.63 564.86,53.41" fill="#ff9f00"/>
<polygon points="556.76,52.37 560.09,55.15 560.09,58.68 556.76,55.9" fill="#c7f52e"/>
<polygon points="560.09,55.15 563.91,53.37 563.91,56.9 560.09,58.68" fill="#c7f52e"/>
<polygon points="556.76,52.37 560.58,50.59 563.91,53.37 560.09,55.15" fill="#cfff30"/>
<polygon points="551.98,54.59 555.31,57.37 555.31,60.91 551.98,58.12" fill="#3df5b8"/>
<polygon points="555.31,57.37 559.13,55.59 559.13,59.13 555.31,60.91" fill="#3df5b8"/>
<polygon points="551.98,54.59 555.8,52.81 559.13,55.59 555.31,57.37" fill="#40ffbf"/>
<polygon points="547.21,57.3 550.54,60.08 550.54,63.13 547.21,60.35" fill="#00a8f5"/>
<polygon points="550.54,60.08 554.36,58.3 554.36,61.35 550.54,63.13" fill="#00a8f5"/>
<polygon points="547.21,57.3 551.03,55.52 554.36,58.3 550.54,60.08" fill="#00afff"/>
<polygon points="542.43,60.3 545.76,63.08 545.76,65.36 542.43,62.58" fill="#001ff5"/>
<polygon points="545.76,63.08 549.58,61.3 549.58,63.58 545.76,65.36" fill="#001ff5"/>
<polygon points="542.43,60.3 546.25,58.52 549.58,61.3 545.76,63.08" fill="#0020ff"/>
<polygon points="537.66,63.34 540.99,66.12 540.99,67.58 537.66,64.8" fill="#0f0fa2"/>
<polygon points="540.99,66.12 544.81,64.34 544.81,65.8 540.99,67.58" fill="#0f0fa2"/>
<polygon points="537.66,63.34 541.48,61.56 544.81,64.34 540.99,66.12" fill="#0f0fa8"/>
<polygon points="575.24,50.74 578.57,53.52 578.57,55.48 575.24,52.7" fill="#7a0000"/>
<polygon points="578.57,53.52 582.39,51.74 582.39,53.7 578.57,55.48" fill="#7a0000"/>
<polygon points="575.24,50.74 579.06,48.96 582.39,51.74 578.57,53.52" fill="#800000"/>
<polygon points="570.47,51.88 573.8,54.66 573.8,57.7 570.47,54.93" fill="#f50f00"/>
<polygon points="573.8,54.66 577.62,52.88 577.62,55.92 573.8,57.7" fill="#f50f00"/>
<polygon points="570.47,51.88 574.29,50.1 577.62,52.88 573.8,54.66" fill="#ff1000"/>
<polygon points="565.69,53.06 569.02,55.84 569.02,59.93 565.69,57.15" fill="#f59900"/>
<polygon points="569.02,55.84 572.84,54.06 572.84,58.15 569.02,59.93" fill="#f59900"/>
<polygon points="565.69,53.06 569.51,51.28 572.84,54.06 569.02,55.84" fill="#ff9f00"/>
<polygon points="560.92,54.63 564.25,57.41 564.25,62.16 560.92,59.38" fill="#c7f52e"/>
<polygon points="564.25,57.41 568.07,55.63 568.07,60.38 564.25,62.16" fill="#c7f52e"/>
<polygon points="560.92,54.63 564.74,52.85 568.07,55.63 564.25,57.41" fill="#cfff30"/>
<polygon points="556.14,56.86 559.47,59.64 559.47,64.38 556.14,61.6" fill="#3df5b8"/>
<polygon points="559.47,59.64 563.29,57.86 563.29,62.6 559.47,64.38" fill="#3df5b8"/>
<polygon points="556.14,56.86 559.96,55.08 563.29,57.86 559.47,59.64" fill="#40ffbf"/>
<polygon points="551.37,59.73 554.7,62.51 554.7,66.61 551.37,63.83" fill="#00a8f5"/>
<polygon points="554.7,62.51 558.52,60.73 558.52,64.83 554.7,66.61" fill="#00a8f5"/>
<polygon points="551.37,59.73 555.19,57.95 558.52,60.73 554.7,62.51" fill="#00afff"/>
<polygon points="546.59,63 549.92,65.78 549.92,68.83 546.59,66.05" fill="#001ff5"/>
<polygon points="549.92,65.78 553.74,64 553.74,67.05 549.92,68.83" fill="#001ff5"/>
<polygon points="546.59,63 550.41,61.22 553.74,64 549.92,65.78" fill="#0020ff"/>
<polygon points="541.82,66.31 545.15,69.09 545.15,71.06 541.82,68.28" fill="#0f0fa2"/>
<polygon points="545.15,69.09 548.97,67.31 548.97,69.28 545.15,71.06" fill="#0f0fa2"/>
<polygon points="541.82,66.31 545.64,64.53 548.97,67.31 545.15,69.09" fill="#0f0fa8"/>
<polygon points="579.41,53.9 582.74,56.68 582.74,58.95 579.41,56.17" fill="#7a0000"/>
<polygon points="582.74,56.68 586.56,54.9 586.56,57.17 582.74,58.95" fill="#7a0000"/>
<polygon points="579.41,53.9 583.23,52.12 586.56,54.9 582.74,56.68" fill="#800000"/>
<polygon points="574.63,54.87 577.96,57.65 577.96,61.18 574.63,58.4" fill="#f50f00"/>
<polygon points="577.96,57.65 581.78,55.87 581.78,59.4 577.96,61.18" fill="#f50f00"/>
<polygon points="574.63,54.87 578.45,53.09 581.78,55.87 577.96,57.65" fill="#ff1000"/>
<polygon points="569.86,55.88 573.19,58.66 573.19,63.41 569.86,60.63" fill="#f59900"/>
<polygon points="573.19,58.66 577.01,56.88 577.01,61.62 573.19,63.41" fill="#f59900"/>
<polygon points="569.86,55.88 573.68,54.1 577.01,56.88 573.19,58.66" fill="#ff9f00"/>
<polygon points="565.08,57.35 568.41,60.13 568.41,65.63 565.08,62.85" fill="#c7f52e"/>
<polygon points="568.41,60.13 572.23,58.35 572.23,63.85 568.41,65.63" fill="#c7f52e"/>
<polygon points="565.08,57.35 568.9,55.57 572.23,58.35 568.41,60.13" fill="#cfff30"/>
<polygon points="560.31,59.58 563.64,62.36 563.64,67.85 560.31,65.08" fill="#3df5b8"/>
<polygon points="563.64,62.36 567.46,60.58 567.46,66.08 563.64,67.85" fill="#3df5b8"/>
<polygon points="560.31,59.58 564.13,57.8 567.46,60.58 563.64,62.36" fill="#40ffbf"/>
<polygon points="555.53,62.56 558.86,65.34 558.86,70.08 555.53,67.3" fill="#00a8f5"/>
<polygon points="558.86,65.34 562.68,63.56 562.68,68.3 558.86,70.08" fill="#00a8f5"/>
<polygon points="555.53,62.56 559.35,60.78 562.68,63.56 558.86,65.34" fill="#00afff"/>
<polygon points="550.76,65.99 554.09,68.77 554.09,72.3 550.76,69.52" fill="#001ff5"/>
<polygon points="554.09,68.77 557.91,66.99 557.91,70.52 554.09,72.3" fill="#001ff5"/>
<polygon points="550.76,65.99 554.58,64.21 557.91,66.99 554.09,68.77" fill="#0020ff"/>
<polygon points="545.98,69.48 549.31,72.26 549.31,74.53 545.98,71.75" fill="#0f0fa2"/>
<polygon points="549.31,72.26 553.13,70.48 553.13,72.75 549.31,74.53" fill="#0f0fa2"/>
<polygon points="545.98,69.48 549.8,67.7 553.13,70.48 549.31,72.26" fill="#0f0fa8"/>
<polygon points="583.57,57.38 586.9,60.16 586.9,62.43 583.57,59.65" fill="#7a0000"/>
<polygon points="586.9,60.16 590.72,58.38 590.72,60.65 586.9,62.43" fill="#7a0000"/>
<polygon points="583.57,57.38 587.39,55.6 590.72,58.38 586.9,60.16" fill="#800000"/>
<polygon points="578.79,58.34 582.12,61.12 582.12,64.66 578.79,61.88" fill="#f50f00"/>
<polygon points="582.12,61.12 585.94,59.34 585.94,62.88 582.12,64.66" fill="#f50f00"/>
<polygon points="578.79,58.34 582.61,56.56 585.94,59.34 582.12,61.12" fill="#ff1000"/>
<polygon points="574.02,59.36 577.35,62.14 577.35,66.88 574.02,64.1" fill="#f59900"/>
<polygon points="577.35,62.14 581.17,60.36 581.17,65.1 577.35,66.88" fill="#f59900"/>
<polygon points="574.02,59.36 577.84,57.58 581.17,60.36 577.35,62.14" fill="#ff9f00"/>
<polygon points="569.24,60.83 572.57,63.61 572.57,69.11 569.24,66.33" fill="#c7f52e"/>
<polygon points="572.57,63.61 576.39,61.83 576.39,67.33 572.57,69.11" fill="#c7f52e"/>
<polygon points="569.24,60.83 573.06,59.05 576.39,61.83 572.57,63.61" fill="#cfff30"/>
<polygon points="564.47,63.05 567.8,65.83 567.8,71.33 564.47,68.55" fill="#3df5b8"/>
<polygon points="567.8,65.83 571.62,64.05 571.62,69.55 567.8,71.33" fill="#3df5b8"/>
<polygon points="564.47,63.05 568.29,61.27 571.62,64.05 567.8,65.83" fill="#40ffbf"/>
<polygon points="559.69,66.03 563.02,68.81 563.02,73.56 559.69,70.78" fill="#00a8f5"/>
<polygon points="563.02,68.81 566.84,67.03 566.84,71.78 563.02,73.56" fill="#00a8f5"/>
<polygon points="559.69,66.03 563.51,64.25 566.84,67.03 563.02,68.81" fill="#00afff"/>
<polygon points="554.92,69.47 558.25,72.25 558.25,75.78 554.92,73" fill="#001ff5"/>
<polygon points="558.25,72.25 562.07,70.47 562.07,74 558.25,75.78" fill="#001ff5"/>
<polygon points="554.92,69.47 558.74,67.69 562.07,70.47 558.25,72.25" fill="#0020ff"/>
<polygon points="550.14,72.95 553.47,75.73 553.47,78.01 550.14,75.23" fill="#0f0fa2"/>
<polygon points="553.47,75.73 557.29,73.95 557.29,76.23 553.47,78.01" fill="#0f0fa2"/>
<polygon points="550.14,72.95 553.96,71.17 557.29,73.95 553.47,75.73" fill="#0f0fa8"/>
<polygon points="587.73,61.16 591.06,63.94 591.06,65.91 587.73,63.12" fill="#7a0000"/>
<polygon points="591.06,63.94 594.88,62.16 594.88,64.12 591.06,65.91" fill="#7a0000"/>
<polygon points="587.73,61.16 591.55,59.38 594.88,62.16 591.06,63.94" fill="#800000"/>
<polygon points="582.96,62.3 586.29,65.08 586.29,68.13 582.96,65.35" fill="#f50f00"/>
<polygon points="586.29,65.08 590.11,63.3 590.11,66.35 586.29,68.13" fill="#f50f00"/>
<polygon points="582.96,62.3 586.78,60.52 590.11,63.3 586.29,65.08" fill="#ff1000"/>
<polygon points="578.18,63.48 581.51,66.26 581.51,70.36 578.18,67.58" fill="#f59900"/>
<polygon points="581.51,66.26 585.33,64.48 585.33,68.58 581.51,70.36" fill="#f59900"/>
<polygon points="578.18,63.48 582,61.7 585.33,64.48 581.51,66.26" fill="#ff9f00"/>
<polygon points="573.41,65.06 576.74,67.84 576.74,72.58 573.41,69.8" fill="#c7f52e"/>
<polygon points="576.74,67.84 580.56,66.06 580.56,70.8 576.74,72.58" fill="#c7f52e"/>
<polygon points="573.41,65.06 577.23,63.28 580.56,66.06 576.74,67.84" fill="#cfff30"/>
<polygon points="568.63,67.28 571.96,70.06 571.96,74.8 568.63,72.02" fill="#3df5b8"/>
<polygon points="571.96,70.06 575.78,68.28 575.78,73.03 571.96,74.8" fill="#3df5b8"/>
<polygon points="568.63,67.28 572.45,65.5 575.78,68.28 571.96,70.06" fill="#40ffbf"/>
<polygon points="563.86,70.16 567.19,72.94 567.19,77.03 563.86,74.25" fill="#00a8f5"/>
<polygon points="567.19,72.94 571.01,71.16 571.01,75.25 567.19,77.03" fill="#00a8f5"/>
<polygon points="563.86,70.16 567.68,68.38 571.01,71.16 567.19,72.94" fill="#00afff"/>
<polygon points="559.08,73.43 562.41,76.21 562.41,79.25 559.08,76.47" fill="#001ff5"/>
<polygon points="562.41,76.21 566.23,74.43 566.23,77.47 562.41,79.25" fill="#001ff5"/>
<polygon points="559.08,73.43 562.9,71.65 566.23,74.43 562.41,76.21" fill="#0020ff"/>
<polygon points="554.31,76.74 557.64,79.52 557.64,81.48 554.31,78.7" fill="#0f0fa2"/>
<polygon points="557.64,79.52 561.46,77.74 561.46,79.7 557.64,81.48" fill="#0f0fa2"/>
<polygon points="554.31,76.74 558.13,74.96 561.46,77.74 557.64,79.52" fill="#0f0fa8"/>
<polygon points="591.89,65.14 595.22,67.92 595.22,69.38 591.89,66.6" fill="#7a0000"/>
<polygon points="595.22,67.92 599.04,66.14 599.04,67.6 595.22,69.38" fill="#7a0000"/>
<polygon points="591.89,65.14 595.71,63.36 599.04,66.14 595.22,67.92" fill="#800000"/>
<polygon points="587.12,66.55 590.45,69.33 590.45,71.61 587.12,68.83" fill="#f50f00"/>
<polygon points="590.45,69.33 594.27,67.55 594.27,69.83 590.45,71.61" fill="#f50f00"/>
<polygon points="587.12,66.55 590.94,64.77 594.27,67.55 590.45,69.33" fill="#ff1000"/>
<polygon points="582.34,68 585.67,70.78 585.67,73.83 582.34,71.05" fill="#f59900"/>
<polygon points="585.67,70.78 589.49,69 589.49,72.05 585.67,73.83" fill="#f59900"/>
<polygon points="582.34,68 586.16,66.22 589.49,69 585.67,70.78" fill="#ff9f00"/>
<polygon points="577.57,69.74 580.9,72.52 580.9,76.06 577.57,73.27" fill="#c7f52e"/>
<polygon points="580.9,72.52 584.72,70.74 584.72,74.28 580.9,76.06" fill="#c7f52e"/>
<polygon points="577.57,69.74 581.39,67.96 584.72,70.74 580.9,72.52" fill="#cfff30"/>
<polygon points="572.79,71.97 576.12,74.75 576.12,78.28 572.79,75.5" fill="#3df5b8"/>
<polygon points="576.12,74.75 579.94,72.97 579.94,76.5 576.12,78.28" fill="#3df5b8"/>
<polygon points="572.79,71.97 576.61,70.19 579.94,72.97 576.12,74.75" fill="#40ffbf"/>
<polygon points="568.02,74.68 571.35,77.46 571.35,80.51 568.02,77.73" fill="#00a8f5"/>
<polygon points="571.35,77.46 575.17,75.68 575.17,78.73 571.35,80.51" fill="#00a8f5"/>
<polygon points="568.02,74.68 571.84,72.9 575.17,75.68 571.35,77.46" fill="#00afff"/>
<polygon points="563.24,77.68 566.57,80.46 566.57,82.73 563.24,79.95" fill="#001ff5"/>
<polygon points="566.57,80.46 570.39,78.68 570.39,80.95 566.57,82.73" fill="#001ff5"/>
<polygon points="563.24,77.68 567.06,75.9 570.39,78.68 566.57,80.46" fill="#0020ff"/>
<polygon points="558.47,80.71 561.8,83.49 561.8,84.96 558.47,82.17" fill="#0f0fa2"/>
<polygon points="561.8,83.49 565.62,81.71 565.62,83.18 561.8,84.96" fill="#0f0fa2"/>
<polygon points="558.47,80.71 562.29,78.93 565.62,81.71 561.8,83.49" fill="#0f0fa8"/>
<polygon points="596.06,69.14 599.39,71.92 599.39,72.86 596.06,70.08" fill="#7a0000"/>
<polygon points="599.39,71.92 603.21,70.14 603.21,71.08 599.39,72.86" fill="#7a0000"/>
<polygon points="596.06,69.14 599.88,67.36 603.21,70.14 599.39,71.92" fill="#800000"/>
<polygon points="591.28,70.84 594.61,73.62 594.61,75.08 591.28,72.3" fill="#f50f00"/>
<polygon points="594.61,73.62 598.43,71.84 598.43,73.3 594.61,75.08" fill="#f50f00"/>
<polygon points="591.28,70.84 595.1,69.06 598.43,71.84 594.61,73.62" fill="#ff1000"/>
<polygon points="586.51,72.56 589.84,75.34 589.84,77.31 586.51,74.53" fill="#f59900"/>
<polygon points="589.84,75.34 593.66,73.56 593.66,75.53 589.84,77.31" fill="#f59900"/>
<polygon points="586.51,72.56 590.33,70.78 593.66,73.56 589.84,75.34" fill="#ff9f00"/>
<polygon points="581.73,74.48 585.06,77.26 585.06,79.53 581.73,76.75" fill="#c7f52e"/>
<polygon points="585.06,77.26 588.88,75.48 588.88,77.75 585.06,79.53" fill="#c7f52e"/>
<polygon points="581.73,74.48 585.55,72.7 588.88,75.48 585.06,77.26" fill="#cfff30"/>
<polygon points="576.96,76.7 580.29,79.48 580.29,81.75 576.96,78.97" fill="#3df5b8"/>
<polygon points="580.29,79.48 584.11,77.7 584.11,79.98 580.29,81.75" fill="#3df5b8"/>
<polygon points="576.96,76.7 580.78,74.92 584.11,77.7 580.29,79.48" fill="#40ffbf"/>
<polygon points="572.18,79.24 575.51,82.02 575.51,83.98 572.18,81.2" fill="#00a8f5"/>
<polygon points="575.51,82.02 579.33,80.24 579.33,82.2 575.51,83.98" fill="#00a8f5"/>
<polygon points="572.18,79.24 576,77.46 579.33,80.24 575.51,82.02" fill="#00afff"/>
<polygon points="567.41,81.96 570.74,84.74 570.74,86.2 567.41,83.42" fill="#001ff5"/>
<polygon points="570.74,84.74 574.56,82.96 574.56,84.42 570.74,86.2" fill="#001ff5"/>
<polygon points="567.41,81.96 571.23,80.18 574.56,82.96 570.74,84.74" fill="#0020ff"/>
<polygon points="562.63,84.71 565.96,87.49 565.96,88.43 562.63,85.65" fill="#0f0fa2"/>
<polygon points="565.96,87.49 569.78,85.71 569.78,86.65 565.96,88.43" fill="#0f0fa2"/>
<polygon points="562.63,84.71 566.45,82.93 569.78,85.71 565.96,87.49" fill="#0f0fa8"/>
</g>
<path d="M532.6 48.4L565.9 76.2M565.9 76.2L604.1 58.4M565.9 101.8L565.9 76.2" fill="none" stroke="#222" stroke-opacity="0.8" stroke-width="0.48"/>
<text x="454.5" y="54.6" font-size="11.5" text-anchor="start" font-family="'Liberation Serif',serif" >Re[ρ]</text>
<text x="449" y="77.9" font-size="10.8" text-anchor="end" font-family="'Liberation Sans',sans-serif"  stroke="#000" stroke-width="0.1">0.5</text>
<text x="449" y="99.4" font-size="10.8" text-anchor="end" font-family="'Liberation Sans',sans-serif"  stroke="#000" stroke-width="0.1">0</text>
<text x="449" y="120.9" font-size="10.8" text-anchor="end" font-family="'Liberation Sans',sans-serif"  stroke="#000" stroke-width="0.1">-0.5</text>
<text x="450.4" y="136.15" font-size="9.9" text-anchor="end" font-family="'Liberation Sans',sans-serif"  stroke="#000" stroke-width="0.1">-7</text>
<text x="457.37" y="141.85" font-size="9.9" text-anchor="end" font-family="'Liberation Sans',sans-serif"  stroke="#000" stroke-width="0.1">-5</text>
<text x="464.34" y="147.55" font-size="9.9" text-anchor="end" font-family="'Liberation Sans',sans-serif"  stroke="#000" stroke-width="0.1">-3</text>
<text x="471.31" y="153.25" font-size="9.9" text-anchor="end" font-family="'Liberation Sans',sans-serif"  stroke="#000" stroke-width="0.1">-1</text>
<text x="478.28" y="158.95" font-size="9.9" text-anchor="end" font-family="'Liberation Sans',sans-serif"  stroke="#000" stroke-width="0.1">1</text>
<text x="485.25" y="164.65" font-size="9.9" text-anchor="end" font-family="'Liberation Sans',sans-serif"  stroke="#000" stroke-width="0.1">3</text>
<text x="492.22" y="170.35" font-size="9.9" text-anchor="end" font-family="'Liberation Sans',sans-serif"  stroke="#000" stroke-width="0.1">5</text>
<text x="499.19" y="176.05" font-size="9.9" text-anchor="end" font-family="'Liberation Sans',sans-serif"  stroke="#000" stroke-width="0.1">7</text>
<text x="514.7" y="178.45" font-size="9.9" text-anchor="start" font-family="'Liberation Sans',sans-serif"  stroke="#000" stroke-width="0.1">-7</text>
<text x="522.65" y="174.52" font-size="9.9" text-anchor="start" font-family="'Liberation Sans',sans-serif"  stroke="#000" stroke-width="0.1">-5</text>
<text x="530.6" y="170.59" font-size="9.9" text-anchor="start" font-family="'Liberation Sans',sans-serif"  stroke="#000" stroke-width="0.1">-3</text>
<text x="538.55" y="166.66" font-size="9.9" text-anchor="start" font-family="'Liberation Sans',sans-serif"  stroke="#000" stroke-width="0.1">-1</text>
<text x="546.5" y="162.73" font-size="9.9" text-anchor="start" font-family="'Liberation Sans',sans-serif"  stroke="#000" stroke-width="0.1">1</text>
<text x="554.45" y="158.8" font-size="9.9" text-anchor="start" font-family="'Liberation Sans',sans-serif"  stroke="#000" stroke-width="0.1">3</text>
<text x="562.4" y="154.87" font-size="9.9" text-anchor="start" font-family="'Liberation Sans',sans-serif"  stroke="#000" stroke-width="0.1">5</text>
<text x="570.35" y="150.94" font-size="9.9" text-anchor="start" font-family="'Liberation Sans',sans-serif"  stroke="#000" stroke-width="0.1">7</text>
<text x="439.2" y="161.7" font-size="10" text-anchor="middle" font-family="'Liberation Sans',sans-serif" >⟨<tspan font-style="italic">l</tspan>/2|</text>
<text x="563.9" y="174.5" font-size="10" text-anchor="middle" font-family="'Liberation Sans',sans-serif" >|<tspan font-style="italic">l</tspan>/2⟩</text>
<polygon points="629.4,118.5 684.3,165 746.9,134.3 746.9,91.7 692,45.2 629.4,75.9" fill="#fff" stroke="none"/>
<path d="M633.31 116.58L633.31 73.98M633.31 116.58L688.21 163.08M641.14 112.74L641.14 70.14M641.14 112.74L696.04 159.24M648.96 108.91L648.96 66.31M648.96 108.91L703.86 155.41M656.79 105.07L656.79 62.47M656.79 105.07L711.69 151.57M664.61 101.23L664.61 58.63M664.61 101.23L719.51 147.73M672.44 97.39L672.44 54.79M672.44 97.39L727.34 143.89M680.26 93.56L680.26 50.96M680.26 93.56L735.16 140.06M688.09 89.72L688.09 47.12M688.09 89.72L742.99 136.22M695.43 90.71L695.43 48.11M695.43 90.71L632.83 121.41M702.29 96.52L702.29 53.92M702.29 96.52L639.69 127.22M709.16 102.33L709.16 59.73M709.16 102.33L646.56 133.03M716.02 108.14L716.02 65.54M716.02 108.14L653.42 138.84M722.88 113.96L722.88 71.36M722.88 113.96L660.28 144.66M729.74 119.77L729.74 77.17M729.74 119.77L667.14 150.47M736.61 125.58L736.61 82.98M736.61 125.58L674.01 156.28M743.47 131.39L743.47 88.79M743.47 131.39L680.87 162.09M629.4 118.5L692 87.8L746.9 134.3M629.4 97.2L692 66.5L746.9 113M629.4 75.9L692 45.2L746.9 91.7" fill="none" stroke="#000" stroke-width="0.6" stroke-dasharray="0.7 2.7"/>
<path d="M629.4 75.9L692 45.2M692 45.2L746.9 91.7M629.4 118.5L692 87.8M692 87.8L746.9 134.3" fill="none" stroke="#4a4a4a" stroke-width="0.57"/>
<path d="M629.4 118.5L684.3 165M684.3 165L746.9 134.3" fill="none" stroke="#222" stroke-width="0.66"/>
<path d="M629.4 118.5L629.4 75.9" fill="none" stroke="#111" stroke-width="0.7"/>
<path d="M746.9 134.3L746.9 91.7" fill="none" stroke="#666" stroke-width="0.7"/>
<path d="M692 87.8L692 45.2" fill="none" stroke="#555" stroke-width="0.8"/>
<path d="M632.83 121.41l-1.98 0.97M639.69 127.22l-1.98 0.97M646.56 133.03l-1.98 0.97M653.42 138.84l-1.98 0.97M660.28 144.66l-1.98 0.97M667.14 150.47l-1.98 0.97M674.01 156.28l-1.98 0.97M680.87 162.09l-1.98 0.97M688.21 163.08l1.68 1.42M696.04 159.24l1.68 1.42M703.86 155.41l1.68 1.42M711.69 151.57l1.68 1.42M719.51 147.73l1.68 1.42M727.34 143.89l1.68 1.42M735.16 140.06l1.68 1.42M742.99 136.22l1.68 1.42M629.4 118.5l-1.58 0.77M629.4 97.2l-1.58 0.77M629.4 75.9l-1.58 0.77" fill="none" stroke="#333" stroke-width="0.5"/>
<g stroke="#000" stroke-opacity="0.85" stroke-width="0.5" stroke-linejoin="round">
<polygon points="685.64,70.11 691.13,74.76 691.13,75.19 685.64,70.53" fill="#7a0000"/>
<polygon points="691.13,74.76 697.39,71.69 697.39,72.12 691.13,75.19" fill="#7a0000"/>
<polygon points="685.64,70.11 691.9,67.04 697.39,71.69 691.13,74.76" fill="#800000"/>
<polygon points="677.82,73.95 683.31,78.6 683.31,79.02 677.82,74.37" fill="#f50f00"/>
<polygon points="683.31,78.6 689.57,75.53 689.57,75.95 683.31,79.02" fill="#f50f00"/>
<polygon points="677.82,73.95 684.08,70.88 689.57,75.53 683.31,78.6" fill="#ff1000"/>
<polygon points="669.99,76.93 675.48,81.58 675.48,82.86 669.99,78.21" fill="#f59900"/>
<polygon points="675.48,81.58 681.74,78.51 681.74,79.79 675.48,82.86" fill="#f59900"/>
<polygon points="669.99,76.93 676.25,73.86 681.74,78.51 675.48,81.58" fill="#ff9f00"/>
<polygon points="662.17,80.34 667.66,84.99 667.66,86.7 662.17,82.05" fill="#c7f52e"/>
<polygon points="667.66,84.99 673.92,81.92 673.92,83.63 667.66,86.7" fill="#c7f52e"/>
<polygon points="662.17,80.34 668.43,77.27 673.92,81.92 667.66,84.99" fill="#cfff30"/>
<polygon points="654.34,84.61 659.83,89.26 659.83,90.54 654.34,85.89" fill="#3df5b8"/>
<polygon points="659.83,89.26 666.09,86.19 666.09,87.47 659.83,90.54" fill="#3df5b8"/>
<polygon points="654.34,84.61 660.6,81.54 666.09,86.19 659.83,89.26" fill="#40ffbf"/>
<polygon points="646.52,89.3 652.01,93.95 652.01,94.37 646.52,89.72" fill="#00a8f5"/>
<polygon points="652.01,93.95 658.27,90.88 658.27,91.3 652.01,94.37" fill="#00a8f5"/>
<polygon points="646.52,89.3 652.78,86.23 658.27,90.88 652.01,93.95" fill="#00afff"/>
<polygon points="638.69,93.43 644.18,98.08 644.18,98.21 638.69,93.56" fill="#001ff5"/>
<polygon points="644.18,98.08 650.44,95.01 650.44,95.14 644.18,98.21" fill="#001ff5"/>
<polygon points="638.69,93.43 644.95,90.36 650.44,95.01 644.18,98.08" fill="#0020ff"/>
<polygon points="630.87,97.27 636.36,101.92 636.36,102.05 630.87,97.4" fill="#0f0fa2"/>
<polygon points="636.36,101.92 642.62,98.85 642.62,98.98 636.36,102.05" fill="#0f0fa2"/>
<polygon points="630.87,97.27 637.13,94.2 642.62,98.85 636.36,101.92" fill="#0f0fa8"/>
<polygon points="692.51,76.35 698,81 698,81.42 692.51,76.77" fill="#7a0000"/>
<polygon points="698,81 704.26,77.93 704.26,78.35 698,81.42" fill="#7a0000"/>
<polygon points="692.51,76.35 698.77,73.28 704.26,77.93 698,81" fill="#800000"/>
<polygon points="684.68,79.76 690.17,84.41 690.17,84.84 684.68,80.19" fill="#f50f00"/>
<polygon points="690.17,84.41 696.43,81.34 696.43,81.77 690.17,84.84" fill="#f50f00"/>
<polygon points="684.68,79.76 690.94,76.69 696.43,81.34 690.17,84.41" fill="#ff1000"/>
<polygon points="676.86,83.17 682.35,87.82 682.35,88.67 676.86,84.02" fill="#f59900"/>
<polygon points="682.35,87.82 688.61,84.75 688.61,85.6 682.35,88.67" fill="#f59900"/>
<polygon points="676.86,83.17 683.12,80.1 688.61,84.75 682.35,87.82" fill="#ff9f00"/>
<polygon points="669.03,86.58 674.52,91.23 674.52,92.51 669.03,87.86" fill="#c7f52e"/>
<polygon points="674.52,91.23 680.78,88.16 680.78,89.44 674.52,92.51" fill="#c7f52e"/>
<polygon points="669.03,86.58 675.29,83.51 680.78,88.16 674.52,91.23" fill="#cfff30"/>
<polygon points="661.21,90.85 666.7,95.5 666.7,96.35 661.21,91.7" fill="#3df5b8"/>
<polygon points="666.7,95.5 672.96,92.43 672.96,93.28 666.7,96.35" fill="#3df5b8"/>
<polygon points="661.21,90.85 667.47,87.78 672.96,92.43 666.7,95.5" fill="#40ffbf"/>
<polygon points="653.38,95.11 658.87,99.76 658.87,100.19 653.38,95.53" fill="#00a8f5"/>
<polygon points="658.87,99.76 665.13,96.69 665.13,97.12 658.87,100.19" fill="#00a8f5"/>
<polygon points="653.38,95.11 659.64,92.04 665.13,96.69 658.87,99.76" fill="#00afff"/>
<polygon points="645.56,99.24 651.05,103.89 651.05,104.02 645.56,99.37" fill="#001ff5"/>
<polygon points="651.05,103.89 657.31,100.82 657.31,100.95 651.05,104.02" fill="#001ff5"/>
<polygon points="645.56,99.24 651.82,96.17 657.31,100.82 651.05,103.89" fill="#0020ff"/>
<polygon points="637.73,103.08 643.22,107.73 643.22,107.86 637.73,103.21" fill="#0f0fa2"/>
<polygon points="643.22,107.73 649.48,104.66 649.48,104.79 643.22,107.86" fill="#0f0fa2"/>
<polygon points="637.73,103.08 643.99,100.01 649.48,104.66 643.22,107.73" fill="#0f0fa8"/>
<polygon points="699.37,82.16 704.86,86.81 704.86,87.66 699.37,83.01" fill="#7a0000"/>
<polygon points="704.86,86.81 711.12,83.74 711.12,84.59 704.86,87.66" fill="#7a0000"/>
<polygon points="699.37,82.16 705.63,79.09 711.12,83.74 704.86,86.81" fill="#800000"/>
<polygon points="691.54,85.57 697.03,90.22 697.03,90.65 691.54,86" fill="#f50f00"/>
<polygon points="697.03,90.22 703.29,87.15 703.29,87.58 697.03,90.65" fill="#f50f00"/>
<polygon points="691.54,85.57 697.8,82.5 703.29,87.15 697.03,90.22" fill="#ff1000"/>
<polygon points="683.72,89.41 689.21,94.06 689.21,94.49 683.72,89.84" fill="#f59900"/>
<polygon points="689.21,94.06 695.47,90.99 695.47,91.42 689.21,94.49" fill="#f59900"/>
<polygon points="683.72,89.41 689.98,86.34 695.47,90.99 689.21,94.06" fill="#ff9f00"/>
<polygon points="675.89,92.82 681.38,97.47 681.38,98.32 675.89,93.67" fill="#c7f52e"/>
<polygon points="681.38,97.47 687.64,94.4 687.64,95.25 681.38,98.32" fill="#c7f52e"/>
<polygon points="675.89,92.82 682.15,89.75 687.64,94.4 681.38,97.47" fill="#cfff30"/>
<polygon points="668.07,97.08 673.56,101.73 673.56,102.16 668.07,97.51" fill="#3df5b8"/>
<polygon points="673.56,101.73 679.82,98.66 679.82,99.09 673.56,102.16" fill="#3df5b8"/>
<polygon points="668.07,97.08 674.33,94.01 679.82,98.66 673.56,101.73" fill="#40ffbf"/>
<polygon points="660.24,101.22 665.73,105.87 665.73,106 660.24,101.35" fill="#00a8f5"/>
<polygon points="665.73,105.87 671.99,102.8 671.99,102.93 665.73,106" fill="#00a8f5"/>
<polygon points="660.24,101.22 666.5,98.15 671.99,102.8 665.73,105.87" fill="#00afff"/>
<polygon points="652.42,105.06 657.91,109.71 657.91,109.83 652.42,105.19" fill="#001ff5"/>
<polygon points="657.91,109.71 664.17,106.64 664.17,106.77 657.91,109.83" fill="#001ff5"/>
<polygon points="652.42,105.06 658.68,101.99 664.17,106.64 657.91,109.71" fill="#0020ff"/>
<polygon points="644.59,109.02 650.08,113.67 650.08,114.1 644.59,109.45" fill="#0f0fa2"/>
<polygon points="650.08,113.67 656.34,110.6 656.34,111.03 650.08,114.1" fill="#0f0fa2"/>
<polygon points="644.59,109.02 650.85,105.95 656.34,110.6 650.08,113.67" fill="#0f0fa8"/>
<polygon points="706.23,87.97 711.72,92.62 711.72,93.47 706.23,88.82" fill="#7a0000"/>
<polygon points="711.72,92.62 717.98,89.55 717.98,90.4 711.72,93.47" fill="#7a0000"/>
<polygon points="706.23,87.97 712.49,84.9 717.98,89.55 711.72,92.62" fill="#800000"/>
<polygon points="698.41,91.6 703.9,96.25 703.9,96.46 698.41,91.81" fill="#f50f00"/>
<polygon points="703.9,96.25 710.16,93.18 710.16,93.39 703.9,96.46" fill="#f50f00"/>
<polygon points="698.41,91.6 704.67,88.53 710.16,93.18 703.9,96.25" fill="#ff1000"/>
<polygon points="690.58,95.22 696.07,99.87 696.07,100.3 690.58,95.65" fill="#f59900"/>
<polygon points="696.07,99.87 702.33,96.8 702.33,97.23 696.07,100.3" fill="#f59900"/>
<polygon points="690.58,95.22 696.84,92.15 702.33,96.8 696.07,99.87" fill="#ff9f00"/>
<polygon points="682.76,99.06 688.25,103.71 688.25,104.14 682.76,99.48" fill="#c7f52e"/>
<polygon points="688.25,103.71 694.51,100.64 694.51,101.06 688.25,104.14" fill="#c7f52e"/>
<polygon points="682.76,99.06 689.02,95.99 694.51,100.64 688.25,103.71" fill="#cfff30"/>
<polygon points="674.93,103.19 680.42,107.84 680.42,107.97 674.93,103.32" fill="#3df5b8"/>
<polygon points="680.42,107.84 686.68,104.77 686.68,104.9 680.42,107.97" fill="#3df5b8"/>
<polygon points="674.93,103.19 681.19,100.12 686.68,104.77 680.42,107.84" fill="#40ffbf"/>
<polygon points="667.11,107.03 672.6,111.68 672.6,111.81 667.11,107.16" fill="#00a8f5"/>
<polygon points="672.6,111.68 678.86,108.61 678.86,108.74 672.6,111.81" fill="#00a8f5"/>
<polygon points="667.11,107.03 673.37,103.96 678.86,108.61 672.6,111.68" fill="#00afff"/>
<polygon points="659.28,111 664.77,115.65 664.77,116.5 659.28,111.85" fill="#001ff5"/>
<polygon points="664.77,115.65 671.03,112.58 671.03,113.43 664.77,116.5" fill="#001ff5"/>
<polygon points="659.28,111 665.54,107.93 671.03,112.58 664.77,115.65" fill="#0020ff"/>
<polygon points="651.46,114.83 656.95,119.48 656.95,120.76 651.46,116.11" fill="#0f0fa2"/>
<polygon points="656.95,119.48 663.21,116.42 663.21,117.69 656.95,120.76" fill="#0f0fa2"/>
<polygon points="651.46,114.83 657.72,111.77 663.21,116.42 656.95,119.48" fill="#0f0fa8"/>
<polygon points="713.09,93.78 718.58,98.44 718.58,99.29 713.09,94.64" fill="#7a0000"/>
<polygon points="718.58,98.44 724.84,95.37 724.84,96.22 718.58,99.29" fill="#7a0000"/>
<polygon points="713.09,93.78 719.35,90.72 724.84,95.37 718.58,98.44" fill="#800000"/>
<polygon points="705.27,97.2 710.76,101.85 710.76,102.27 705.27,97.62" fill="#f50f00"/>
<polygon points="710.76,101.85 717.02,98.78 717.02,99.2 710.76,102.27" fill="#f50f00"/>
<polygon points="705.27,97.2 711.53,94.13 717.02,98.78 710.76,101.85" fill="#ff1000"/>
<polygon points="697.44,101.03 702.93,105.68 702.93,106.11 697.44,101.46" fill="#f59900"/>
<polygon points="702.93,105.68 709.19,102.61 709.19,103.04 702.93,106.11" fill="#f59900"/>
<polygon points="697.44,101.03 703.7,97.96 709.19,102.61 702.93,105.68" fill="#ff9f00"/>
<polygon points="689.62,105.17 695.11,109.82 695.11,109.95 689.62,105.3" fill="#c7f52e"/>
<polygon points="695.11,109.82 701.37,106.75 701.37,106.88 695.11,109.95" fill="#c7f52e"/>
<polygon points="689.62,105.17 695.88,102.1 701.37,106.75 695.11,109.82" fill="#cfff30"/>
<polygon points="681.79,109.01 687.28,113.66 687.28,113.79 681.79,109.14" fill="#3df5b8"/>
<polygon points="687.28,113.66 693.54,110.59 693.54,110.71 687.28,113.79" fill="#3df5b8"/>
<polygon points="681.79,109.01 688.05,105.94 693.54,110.59 687.28,113.66" fill="#40ffbf"/>
<polygon points="673.97,112.97 679.46,117.62 679.46,118.05 673.97,113.4" fill="#00a8f5"/>
<polygon points="679.46,117.62 685.72,114.55 685.72,114.98 679.46,118.05" fill="#00a8f5"/>
<polygon points="673.97,112.97 680.23,109.9 685.72,114.55 679.46,117.62" fill="#00afff"/>
<polygon points="666.14,116.81 671.63,121.46 671.63,123.16 666.14,118.51" fill="#001ff5"/>
<polygon points="671.63,121.46 677.89,118.39 677.89,120.09 671.63,123.16" fill="#001ff5"/>
<polygon points="666.14,116.81 672.4,113.74 677.89,118.39 671.63,121.46" fill="#0020ff"/>
<polygon points="658.32,120.65 663.81,125.3 663.81,127 658.32,122.35" fill="#0f0fa2"/>
<polygon points="663.81,125.3 670.07,122.23 670.07,123.93 663.81,127" fill="#0f0fa2"/>
<polygon points="658.32,120.65 664.58,117.58 670.07,122.23 663.81,125.3" fill="#0f0fa8"/>
<polygon points="719.96,99.47 725.45,104.12 725.45,104.25 719.96,99.6" fill="#7a0000"/>
<polygon points="725.45,104.12 731.71,101.05 731.71,101.18 725.45,104.25" fill="#7a0000"/>
<polygon points="719.96,99.47 726.22,96.4 731.71,101.05 725.45,104.12" fill="#800000"/>
<polygon points="712.13,102.58 717.62,107.23 717.62,108.08 712.13,103.44" fill="#f50f00"/>
<polygon points="717.62,107.23 723.88,104.16 723.88,105.02 717.62,108.08" fill="#f50f00"/>
<polygon points="712.13,102.58 718.39,99.51 723.88,104.16 717.62,107.23" fill="#ff1000"/>
<polygon points="704.31,106.42 709.8,111.07 709.8,111.92 704.31,107.27" fill="#f59900"/>
<polygon points="709.8,111.07 716.06,108 716.06,108.85 709.8,111.92" fill="#f59900"/>
<polygon points="704.31,106.42 710.57,103.35 716.06,108 709.8,111.07" fill="#ff9f00"/>
<polygon points="696.48,110.26 701.97,114.91 701.97,115.76 696.48,111.11" fill="#c7f52e"/>
<polygon points="701.97,114.91 708.23,111.84 708.23,112.69 701.97,115.76" fill="#c7f52e"/>
<polygon points="696.48,110.26 702.74,107.19 708.23,111.84 701.97,114.91" fill="#cfff30"/>
<polygon points="688.66,114.1 694.15,118.75 694.15,119.6 688.66,114.95" fill="#3df5b8"/>
<polygon points="694.15,118.75 700.41,115.68 700.41,116.53 694.15,119.6" fill="#3df5b8"/>
<polygon points="688.66,114.1 694.92,111.03 700.41,115.68 694.15,118.75" fill="#40ffbf"/>
<polygon points="680.83,118.78 686.32,123.44 686.32,124.29 680.83,119.64" fill="#00a8f5"/>
<polygon points="686.32,123.44 692.58,120.37 692.58,121.22 686.32,124.29" fill="#00a8f5"/>
<polygon points="680.83,118.78 687.09,115.71 692.58,120.37 686.32,123.44" fill="#00afff"/>
<polygon points="673.01,122.62 678.5,127.27 678.5,129.4 673.01,124.75" fill="#001ff5"/>
<polygon points="678.5,127.27 684.76,124.2 684.76,126.33 678.5,129.4" fill="#001ff5"/>
<polygon points="673.01,122.62 679.27,119.55 684.76,124.2 678.5,127.27" fill="#0020ff"/>
<polygon points="665.18,126.46 670.67,131.11 670.67,133.24 665.18,128.59" fill="#0f0fa2"/>
<polygon points="670.67,131.11 676.93,128.04 676.93,130.17 670.67,133.24" fill="#0f0fa2"/>
<polygon points="665.18,126.46 671.44,123.39 676.93,128.04 670.67,131.11" fill="#0f0fa8"/>
<polygon points="726.82,105.28 732.31,109.93 732.31,110.06 726.82,105.41" fill="#7a0000"/>
<polygon points="732.31,109.93 738.57,106.86 738.57,106.99 732.31,110.06" fill="#7a0000"/>
<polygon points="726.82,105.28 733.08,102.21 738.57,106.86 732.31,109.93" fill="#800000"/>
<polygon points="718.99,109.12 724.48,113.77 724.48,113.9 718.99,109.25" fill="#f50f00"/>
<polygon points="724.48,113.77 730.74,110.7 730.74,110.83 724.48,113.9" fill="#f50f00"/>
<polygon points="718.99,109.12 725.25,106.05 730.74,110.7 724.48,113.77" fill="#ff1000"/>
<polygon points="711.17,112.66 716.66,117.31 716.66,117.74 711.17,113.08" fill="#f59900"/>
<polygon points="716.66,117.31 722.92,114.24 722.92,114.67 716.66,117.74" fill="#f59900"/>
<polygon points="711.17,112.66 717.43,109.59 722.92,114.24 716.66,117.31" fill="#ff9f00"/>
<polygon points="703.34,116.5 708.83,121.15 708.83,121.57 703.34,116.92" fill="#c7f52e"/>
<polygon points="708.83,121.15 715.09,118.08 715.09,118.5 708.83,121.57" fill="#c7f52e"/>
<polygon points="703.34,116.5 709.6,113.43 715.09,118.08 708.83,121.15" fill="#cfff30"/>
<polygon points="695.52,119.91 701.01,124.56 701.01,125.41 695.52,120.76" fill="#3df5b8"/>
<polygon points="701.01,124.56 707.27,121.49 707.27,122.34 701.01,125.41" fill="#3df5b8"/>
<polygon points="695.52,119.91 701.78,116.84 707.27,121.49 701.01,124.56" fill="#40ffbf"/>
<polygon points="687.69,124.6 693.18,129.25 693.18,130.1 687.69,125.45" fill="#00a8f5"/>
<polygon points="693.18,129.25 699.44,126.18 699.44,127.03 693.18,130.1" fill="#00a8f5"/>
<polygon points="687.69,124.6 693.95,121.53 699.44,126.18 693.18,129.25" fill="#00afff"/>
<polygon points="679.87,128.44 685.36,133.08 685.36,134.79 679.87,130.14" fill="#001ff5"/>
<polygon points="685.36,133.08 691.62,130.01 691.62,131.72 685.36,134.79" fill="#001ff5"/>
<polygon points="679.87,128.44 686.13,125.36 691.62,130.01 685.36,133.08" fill="#0020ff"/>
<polygon points="672.04,132.27 677.53,136.92 677.53,138.63 672.04,133.98" fill="#0f0fa2"/>
<polygon points="677.53,136.92 683.79,133.85 683.79,135.56 677.53,138.63" fill="#0f0fa2"/>
<polygon points="672.04,132.27 678.3,129.2 683.79,133.85 677.53,136.92" fill="#0f0fa8"/>
<polygon points="733.68,111.09 739.17,115.74 739.17,115.87 733.68,111.22" fill="#7a0000"/>
<polygon points="739.17,115.74 745.43,112.67 745.43,112.8 739.17,115.87" fill="#7a0000"/>
<polygon points="733.68,111.09 739.94,108.02 745.43,112.67 739.17,115.74" fill="#800000"/>
<polygon points="725.86,114.63 731.35,119.28 731.35,119.71 725.86,115.06" fill="#f50f00"/>
<polygon points="731.35,119.28 737.61,116.21 737.61,116.64 731.35,119.71" fill="#f50f00"/>
<polygon points="725.86,114.63 732.12,111.56 737.61,116.21 731.35,119.28" fill="#ff1000"/>
<polygon points="718.03,117.62 723.52,122.27 723.52,123.55 718.03,118.9" fill="#f59900"/>
<polygon points="723.52,122.27 729.78,119.2 729.78,120.48 723.52,123.55" fill="#f59900"/>
<polygon points="718.03,117.62 724.29,114.55 729.78,119.2 723.52,122.27" fill="#ff9f00"/>
<polygon points="710.21,121.88 715.7,126.53 715.7,127.39 710.21,122.73" fill="#c7f52e"/>
<polygon points="715.7,126.53 721.96,123.46 721.96,124.32 715.7,127.39" fill="#c7f52e"/>
<polygon points="710.21,121.88 716.47,118.81 721.96,123.46 715.7,126.53" fill="#cfff30"/>
<polygon points="702.38,126.15 707.87,130.8 707.87,131.22 702.38,126.57" fill="#3df5b8"/>
<polygon points="707.87,130.8 714.13,127.73 714.13,128.15 707.87,131.22" fill="#3df5b8"/>
<polygon points="702.38,126.15 708.64,123.08 714.13,127.73 707.87,130.8" fill="#40ffbf"/>
<polygon points="694.56,130.28 700.05,134.93 700.05,135.06 694.56,130.41" fill="#00a8f5"/>
<polygon points="700.05,134.93 706.31,131.86 706.31,131.99 700.05,135.06" fill="#00a8f5"/>
<polygon points="694.56,130.28 700.82,127.21 706.31,131.86 700.05,134.93" fill="#00afff"/>
<polygon points="686.73,134.25 692.22,138.9 692.22,139.32 686.73,134.67" fill="#001ff5"/>
<polygon points="692.22,138.9 698.48,135.83 698.48,136.25 692.22,139.32" fill="#001ff5"/>
<polygon points="686.73,134.25 692.99,131.18 698.48,135.83 692.22,138.9" fill="#0020ff"/>
<polygon points="678.91,138.08 684.4,142.73 684.4,143.59 678.91,138.94" fill="#0f0fa2"/>
<polygon points="684.4,142.73 690.66,139.66 690.66,140.52 684.4,143.59" fill="#0f0fa2"/>
<polygon points="678.91,138.08 685.17,135.01 690.66,139.66 684.4,142.73" fill="#0f0fa8"/>
</g>
<path d="M629.4 75.9L684.3 122.4M684.3 122.4L746.9 91.7M684.3 165L684.3 122.4" fill="none" stroke="#222" stroke-opacity="0.8" stroke-width="0.48"/>
<polygon points="712.4,72 744.6,99.6 781.6,82 781.6,57 749.4,29.4 712.4,47" fill="#fff" stroke="none"/>
<path d="M714.71 70.9L714.71 45.9M714.71 70.9L746.91 98.5M719.34 68.7L719.34 43.7M719.34 68.7L751.54 96.3M723.96 66.5L723.96 41.5M723.96 66.5L756.16 94.1M728.59 64.3L728.59 39.3M728.59 64.3L760.79 91.9M733.21 62.1L733.21 37.1M733.21 62.1L765.41 89.7M737.84 59.9L737.84 34.9M737.84 59.9L770.04 87.5M742.46 57.7L742.46 32.7M742.46 57.7L774.66 85.3M747.09 55.5L747.09 30.5M747.09 55.5L779.29 83.1M751.41 56.12L751.41 31.12M751.41 56.12L714.41 73.72M755.44 59.58L755.44 34.58M755.44 59.58L718.44 77.17M759.46 63.02L759.46 38.02M759.46 63.02L722.46 80.62M763.49 66.47L763.49 41.47M763.49 66.47L726.49 84.08M767.51 69.92L767.51 44.92M767.51 69.92L730.51 87.53M771.54 73.38L771.54 48.38M771.54 73.38L734.54 90.97M775.56 76.83L775.56 51.83M775.56 76.83L738.56 94.42M779.59 80.28L779.59 55.28M779.59 80.28L742.59 97.88M712.4 72L749.4 54.4L781.6 82M712.4 59.5L749.4 41.9L781.6 69.5M712.4 47L749.4 29.4L781.6 57" fill="none" stroke="#000" stroke-width="0.6" stroke-dasharray="0.6 2.2"/>
<path d="M712.4 47L749.4 29.4M749.4 29.4L781.6 57M712.4 72L749.4 54.4M749.4 54.4L781.6 82" fill="none" stroke="#4a4a4a" stroke-width="0.57"/>
<path d="M712.4 72L744.6 99.6M744.6 99.6L781.6 82" fill="none" stroke="#222" stroke-width="0.66"/>
<path d="M712.4 72L712.4 47" fill="none" stroke="#000" stroke-width="1.3"/>
<path d="M781.6 82L781.6 57" fill="none" stroke="#666" stroke-width="0.6"/>
<path d="M749.4 54.4L749.4 29.4" fill="none" stroke="#000" stroke-width="1.3"/>
<g stroke="#000" stroke-opacity="0.85" stroke-width="0.33" stroke-linejoin="round">
<polygon points="745.9,44.19 748.88,46.74 748.88,46.82 745.9,44.26" fill="#7a0000"/>
<polygon points="748.88,46.74 752.3,45.11 752.3,45.19 748.88,46.82" fill="#7a0000"/>
<polygon points="745.9,44.19 749.32,42.56 752.3,45.11 748.88,46.74" fill="#800000"/>
<polygon points="741.27,46.39 744.25,48.94 744.25,49.02 741.27,46.46" fill="#f50f00"/>
<polygon points="744.25,48.94 747.68,47.31 747.68,47.39 744.25,49.02" fill="#f50f00"/>
<polygon points="741.27,46.39 744.7,44.76 747.68,47.31 744.25,48.94" fill="#ff1000"/>
<polygon points="736.65,48.59 739.63,51.14 739.63,51.22 736.65,48.66" fill="#f59900"/>
<polygon points="739.63,51.14 743.05,49.51 743.05,49.59 739.63,51.22" fill="#f59900"/>
<polygon points="736.65,48.59 740.07,46.96 743.05,49.51 739.63,51.14" fill="#ff9f00"/>
<polygon points="732.02,50.79 735,53.34 735,53.42 732.02,50.86" fill="#c7f52e"/>
<polygon points="735,53.34 738.43,51.71 738.43,51.79 735,53.42" fill="#c7f52e"/>
<polygon points="732.02,50.79 735.45,49.16 738.43,51.71 735,53.34" fill="#cfff30"/>
<polygon points="727.4,52.99 730.38,55.54 730.38,55.62 727.4,53.06" fill="#3df5b8"/>
<polygon points="730.38,55.54 733.8,53.91 733.8,53.99 730.38,55.62" fill="#3df5b8"/>
<polygon points="727.4,52.99 730.82,51.36 733.8,53.91 730.38,55.54" fill="#40ffbf"/>
<polygon points="722.77,55.19 725.75,57.74 725.75,57.82 722.77,55.26" fill="#00a8f5"/>
<polygon points="725.75,57.74 729.18,56.11 729.18,56.19 725.75,57.82" fill="#00a8f5"/>
<polygon points="722.77,55.19 726.2,53.56 729.18,56.11 725.75,57.74" fill="#00afff"/>
<polygon points="718.15,57.39 721.13,59.94 721.13,60.02 718.15,57.46" fill="#001ff5"/>
<polygon points="721.13,59.94 724.55,58.31 724.55,58.39 721.13,60.02" fill="#001ff5"/>
<polygon points="718.15,57.39 721.57,55.76 724.55,58.31 721.13,59.94" fill="#0020ff"/>
<polygon points="713.52,59.59 716.5,62.14 716.5,62.22 713.52,59.66" fill="#0f0fa2"/>
<polygon points="716.5,62.14 719.93,60.51 719.93,60.59 716.5,62.22" fill="#0f0fa2"/>
<polygon points="713.52,59.59 716.95,57.96 719.93,60.51 716.5,62.14" fill="#0f0fa8"/>
<polygon points="749.92,47.64 752.9,50.19 752.9,50.27 749.92,47.71" fill="#7a0000"/>
<polygon points="752.9,50.19 756.33,48.56 756.33,48.64 752.9,50.27" fill="#7a0000"/>
<polygon points="749.92,47.64 753.35,46.01 756.33,48.56 752.9,50.19" fill="#800000"/>
<polygon points="745.3,49.84 748.28,52.39 748.28,52.47 745.3,49.91" fill="#f50f00"/>
<polygon points="748.28,52.39 751.7,50.76 751.7,50.84 748.28,52.47" fill="#f50f00"/>
<polygon points="745.3,49.84 748.72,48.21 751.7,50.76 748.28,52.39" fill="#ff1000"/>
<polygon points="740.67,52.04 743.65,54.59 743.65,54.67 740.67,52.11" fill="#f59900"/>
<polygon points="743.65,54.59 747.08,52.96 747.08,53.04 743.65,54.67" fill="#f59900"/>
<polygon points="740.67,52.04 744.1,50.41 747.08,52.96 743.65,54.59" fill="#ff9f00"/>
<polygon points="736.05,54.24 739.03,56.79 739.03,56.87 736.05,54.31" fill="#c7f52e"/>
<polygon points="739.03,56.79 742.45,55.16 742.45,55.24 739.03,56.87" fill="#c7f52e"/>
<polygon points="736.05,54.24 739.47,52.61 742.45,55.16 739.03,56.79" fill="#cfff30"/>
<polygon points="731.42,56.44 734.4,58.99 734.4,59.07 731.42,56.51" fill="#3df5b8"/>
<polygon points="734.4,58.99 737.83,57.36 737.83,57.44 734.4,59.07" fill="#3df5b8"/>
<polygon points="731.42,56.44 734.85,54.81 737.83,57.36 734.4,58.99" fill="#40ffbf"/>
<polygon points="726.8,58.64 729.78,61.19 729.78,61.27 726.8,58.71" fill="#00a8f5"/>
<polygon points="729.78,61.19 733.2,59.56 733.2,59.64 729.78,61.27" fill="#00a8f5"/>
<polygon points="726.8,58.64 730.22,57.01 733.2,59.56 729.78,61.19" fill="#00afff"/>
<polygon points="722.17,60.84 725.15,63.39 725.15,63.47 722.17,60.91" fill="#001ff5"/>
<polygon points="725.15,63.39 728.58,61.76 728.58,61.84 725.15,63.47" fill="#001ff5"/>
<polygon points="722.17,60.84 725.6,59.21 728.58,61.76 725.15,63.39" fill="#0020ff"/>
<polygon points="717.55,63.04 720.53,65.59 720.53,65.67 717.55,63.11" fill="#0f0fa2"/>
<polygon points="720.53,65.59 723.95,63.96 723.95,64.04 720.53,65.67" fill="#0f0fa2"/>
<polygon points="717.55,63.04 720.97,61.41 723.95,63.96 720.53,65.59" fill="#0f0fa8"/>
<polygon points="753.95,51.09 756.93,53.64 756.93,53.72 753.95,51.16" fill="#7a0000"/>
<polygon points="756.93,53.64 760.35,52.01 760.35,52.09 756.93,53.72" fill="#7a0000"/>
<polygon points="753.95,51.09 757.37,49.46 760.35,52.01 756.93,53.64" fill="#800000"/>
<polygon points="749.32,53.29 752.3,55.84 752.3,55.92 749.32,53.36" fill="#f50f00"/>
<polygon points="752.3,55.84 755.73,54.21 755.73,54.29 752.3,55.92" fill="#f50f00"/>
<polygon points="749.32,53.29 752.75,51.66 755.73,54.21 752.3,55.84" fill="#ff1000"/>
<polygon points="744.7,55.49 747.68,58.04 747.68,58.12 744.7,55.56" fill="#f59900"/>
<polygon points="747.68,58.04 751.1,56.41 751.1,56.49 747.68,58.12" fill="#f59900"/>
<polygon points="744.7,55.49 748.12,53.86 751.1,56.41 747.68,58.04" fill="#ff9f00"/>
<polygon points="740.07,57.69 743.05,60.24 743.05,60.32 740.07,57.76" fill="#c7f52e"/>
<polygon points="743.05,60.24 746.48,58.61 746.48,58.69 743.05,60.32" fill="#c7f52e"/>
<polygon points="740.07,57.69 743.5,56.06 746.48,58.61 743.05,60.24" fill="#cfff30"/>
<polygon points="735.45,59.89 738.43,62.44 738.43,62.52 735.45,59.96" fill="#3df5b8"/>
<polygon points="738.43,62.44 741.85,60.81 741.85,60.89 738.43,62.52" fill="#3df5b8"/>
<polygon points="735.45,59.89 738.87,58.26 741.85,60.81 738.43,62.44" fill="#40ffbf"/>
<polygon points="730.82,62.09 733.8,64.64 733.8,64.72 730.82,62.16" fill="#00a8f5"/>
<polygon points="733.8,64.64 737.23,63.01 737.23,63.09 733.8,64.72" fill="#00a8f5"/>
<polygon points="730.82,62.09 734.25,60.46 737.23,63.01 733.8,64.64" fill="#00afff"/>
<polygon points="726.2,64.29 729.18,66.84 729.18,66.92 726.2,64.36" fill="#001ff5"/>
<polygon points="729.18,66.84 732.6,65.21 732.6,65.29 729.18,66.92" fill="#001ff5"/>
<polygon points="726.2,64.29 729.62,62.66 732.6,65.21 729.18,66.84" fill="#0020ff"/>
<polygon points="721.57,66.49 724.55,69.04 724.55,69.12 721.57,66.56" fill="#0f0fa2"/>
<polygon points="724.55,69.04 727.98,67.41 727.98,67.49 724.55,69.12" fill="#0f0fa2"/>
<polygon points="721.57,66.49 725,64.86 727.98,67.41 724.55,69.04" fill="#0f0fa8"/>
<polygon points="757.97,54.54 760.95,57.09 760.95,57.17 757.97,54.61" fill="#7a0000"/>
<polygon points="760.95,57.09 764.38,55.46 764.38,55.54 760.95,57.17" fill="#7a0000"/>
<polygon points="757.97,54.54 761.4,52.91 764.38,55.46 760.95,57.09" fill="#800000"/>
<polygon points="753.35,56.74 756.33,59.29 756.33,59.37 753.35,56.81" fill="#f50f00"/>
<polygon points="756.33,59.29 759.75,57.66 759.75,57.74 756.33,59.37" fill="#f50f00"/>
<polygon points="753.35,56.74 756.77,55.11 759.75,57.66 756.33,59.29" fill="#ff1000"/>
<polygon points="748.72,58.94 751.7,61.49 751.7,61.57 748.72,59.01" fill="#f59900"/>
<polygon points="751.7,61.49 755.13,59.86 755.13,59.94 751.7,61.57" fill="#f59900"/>
<polygon points="748.72,58.94 752.15,57.31 755.13,59.86 751.7,61.49" fill="#ff9f00"/>
<polygon points="744.1,61.14 747.08,63.69 747.08,63.77 744.1,61.21" fill="#c7f52e"/>
<polygon points="747.08,63.69 750.5,62.06 750.5,62.14 747.08,63.77" fill="#c7f52e"/>
<polygon points="744.1,61.14 747.52,59.51 750.5,62.06 747.08,63.69" fill="#cfff30"/>
<polygon points="739.47,63.34 742.45,65.89 742.45,65.97 739.47,63.41" fill="#3df5b8"/>
<polygon points="742.45,65.89 745.88,64.26 745.88,64.34 742.45,65.97" fill="#3df5b8"/>
<polygon points="739.47,63.34 742.9,61.71 745.88,64.26 742.45,65.89" fill="#40ffbf"/>
<polygon points="734.85,65.54 737.83,68.09 737.83,68.17 734.85,65.61" fill="#00a8f5"/>
<polygon points="737.83,68.09 741.25,66.46 741.25,66.54 737.83,68.17" fill="#00a8f5"/>
<polygon points="734.85,65.54 738.27,63.91 741.25,66.46 737.83,68.09" fill="#00afff"/>
<polygon points="730.22,67.74 733.2,70.29 733.2,70.37 730.22,67.81" fill="#001ff5"/>
<polygon points="733.2,70.29 736.63,68.66 736.63,68.74 733.2,70.37" fill="#001ff5"/>
<polygon points="730.22,67.74 733.65,66.11 736.63,68.66 733.2,70.29" fill="#0020ff"/>
<polygon points="725.6,69.94 728.58,72.49 728.58,72.57 725.6,70.01" fill="#0f0fa2"/>
<polygon points="728.58,72.49 732,70.86 732,70.94 728.58,72.57" fill="#0f0fa2"/>
<polygon points="725.6,69.94 729.02,68.31 732,70.86 728.58,72.49" fill="#0f0fa8"/>
<polygon points="762,57.99 764.98,60.54 764.98,60.62 762,58.06" fill="#7a0000"/>
<polygon points="764.98,60.54 768.4,58.91 768.4,58.99 764.98,60.62" fill="#7a0000"/>
<polygon points="762,57.99 765.42,56.36 768.4,58.91 764.98,60.54" fill="#800000"/>
<polygon points="757.37,60.19 760.35,62.74 760.35,62.82 757.37,60.26" fill="#f50f00"/>
<polygon points="760.35,62.74 763.78,61.11 763.78,61.19 760.35,62.82" fill="#f50f00"/>
<polygon points="757.37,60.19 760.8,58.56 763.78,61.11 760.35,62.74" fill="#ff1000"/>
<polygon points="752.75,62.39 755.73,64.94 755.73,65.02 752.75,62.46" fill="#f59900"/>
<polygon points="755.73,64.94 759.15,63.31 759.15,63.39 755.73,65.02" fill="#f59900"/>
<polygon points="752.75,62.39 756.17,60.76 759.15,63.31 755.73,64.94" fill="#ff9f00"/>
<polygon points="748.12,64.59 751.1,67.14 751.1,67.22 748.12,64.66" fill="#c7f52e"/>
<polygon points="751.1,67.14 754.53,65.51 754.53,65.59 751.1,67.22" fill="#c7f52e"/>
<polygon points="748.12,64.59 751.55,62.96 754.53,65.51 751.1,67.14" fill="#cfff30"/>
<polygon points="743.5,66.79 746.48,69.34 746.48,69.42 743.5,66.86" fill="#3df5b8"/>
<polygon points="746.48,69.34 749.9,67.71 749.9,67.79 746.48,69.42" fill="#3df5b8"/>
<polygon points="743.5,66.79 746.92,65.16 749.9,67.71 746.48,69.34" fill="#40ffbf"/>
<polygon points="738.87,68.99 741.85,71.54 741.85,71.62 738.87,69.06" fill="#00a8f5"/>
<polygon points="741.85,71.54 745.28,69.91 745.28,69.99 741.85,71.62" fill="#00a8f5"/>
<polygon points="738.87,68.99 742.3,67.36 745.28,69.91 741.85,71.54" fill="#00afff"/>
<polygon points="734.25,71.19 737.23,73.74 737.23,73.82 734.25,71.26" fill="#001ff5"/>
<polygon points="737.23,73.74 740.65,72.11 740.65,72.19 737.23,73.82" fill="#001ff5"/>
<polygon points="734.25,71.19 737.67,69.56 740.65,72.11 737.23,73.74" fill="#0020ff"/>
<polygon points="729.62,73.39 732.6,75.94 732.6,76.02 729.62,73.46" fill="#0f0fa2"/>
<polygon points="732.6,75.94 736.03,74.31 736.03,74.39 732.6,76.02" fill="#0f0fa2"/>
<polygon points="729.62,73.39 733.05,71.76 736.03,74.31 732.6,75.94" fill="#0f0fa8"/>
<polygon points="766.02,61.44 769,63.99 769,64.07 766.02,61.51" fill="#7a0000"/>
<polygon points="769,63.99 772.43,62.36 772.43,62.44 769,64.07" fill="#7a0000"/>
<polygon points="766.02,61.44 769.45,59.81 772.43,62.36 769,63.99" fill="#800000"/>
<polygon points="761.4,63.64 764.38,66.19 764.38,66.27 761.4,63.71" fill="#f50f00"/>
<polygon points="764.38,66.19 767.8,64.56 767.8,64.64 764.38,66.27" fill="#f50f00"/>
<polygon points="761.4,63.64 764.82,62.01 767.8,64.56 764.38,66.19" fill="#ff1000"/>
<polygon points="756.77,65.84 759.75,68.39 759.75,68.47 756.77,65.91" fill="#f59900"/>
<polygon points="759.75,68.39 763.18,66.76 763.18,66.84 759.75,68.47" fill="#f59900"/>
<polygon points="756.77,65.84 760.2,64.21 763.18,66.76 759.75,68.39" fill="#ff9f00"/>
<polygon points="752.15,68.04 755.13,70.59 755.13,70.67 752.15,68.11" fill="#c7f52e"/>
<polygon points="755.13,70.59 758.55,68.96 758.55,69.04 755.13,70.67" fill="#c7f52e"/>
<polygon points="752.15,68.04 755.57,66.41 758.55,68.96 755.13,70.59" fill="#cfff30"/>
<polygon points="747.52,70.24 750.5,72.79 750.5,72.87 747.52,70.31" fill="#3df5b8"/>
<polygon points="750.5,72.79 753.93,71.16 753.93,71.24 750.5,72.87" fill="#3df5b8"/>
<polygon points="747.52,70.24 750.95,68.61 753.93,71.16 750.5,72.79" fill="#40ffbf"/>
<polygon points="742.9,72.44 745.88,74.99 745.88,75.07 742.9,72.51" fill="#00a8f5"/>
<polygon points="745.88,74.99 749.3,73.36 749.3,73.44 745.88,75.07" fill="#00a8f5"/>
<polygon points="742.9,72.44 746.32,70.81 749.3,73.36 745.88,74.99" fill="#00afff"/>
<polygon points="738.27,74.64 741.25,77.19 741.25,77.27 738.27,74.71" fill="#001ff5"/>
<polygon points="741.25,77.19 744.68,75.56 744.68,75.64 741.25,77.27" fill="#001ff5"/>
<polygon points="738.27,74.64 741.7,73.01 744.68,75.56 741.25,77.19" fill="#0020ff"/>
<polygon points="733.65,76.84 736.63,79.39 736.63,79.47 733.65,76.91" fill="#0f0fa2"/>
<polygon points="736.63,79.39 740.05,77.76 740.05,77.84 736.63,79.47" fill="#0f0fa2"/>
<polygon points="733.65,76.84 737.07,75.21 740.05,77.76 736.63,79.39" fill="#0f0fa8"/>
<polygon points="770.05,64.89 773.03,67.44 773.03,67.52 770.05,64.96" fill="#7a0000"/>
<polygon points="773.03,67.44 776.45,65.81 776.45,65.89 773.03,67.52" fill="#7a0000"/>
<polygon points="770.05,64.89 773.47,63.26 776.45,65.81 773.03,67.44" fill="#800000"/>
<polygon points="765.42,67.09 768.4,69.64 768.4,69.72 765.42,67.16" fill="#f50f00"/>
<polygon points="768.4,69.64 771.83,68.01 771.83,68.09 768.4,69.72" fill="#f50f00"/>
<polygon points="765.42,67.09 768.85,65.46 771.83,68.01 768.4,69.64" fill="#ff1000"/>
<polygon points="760.8,69.29 763.78,71.84 763.78,71.92 760.8,69.36" fill="#f59900"/>
<polygon points="763.78,71.84 767.2,70.21 767.2,70.29 763.78,71.92" fill="#f59900"/>
<polygon points="760.8,69.29 764.22,67.66 767.2,70.21 763.78,71.84" fill="#ff9f00"/>
<polygon points="756.17,71.49 759.15,74.04 759.15,74.12 756.17,71.56" fill="#c7f52e"/>
<polygon points="759.15,74.04 762.58,72.41 762.58,72.49 759.15,74.12" fill="#c7f52e"/>
<polygon points="756.17,71.49 759.6,69.86 762.58,72.41 759.15,74.04" fill="#cfff30"/>
<polygon points="751.55,73.69 754.53,76.24 754.53,76.32 751.55,73.76" fill="#3df5b8"/>
<polygon points="754.53,76.24 757.95,74.61 757.95,74.69 754.53,76.32" fill="#3df5b8"/>
<polygon points="751.55,73.69 754.97,72.06 757.95,74.61 754.53,76.24" fill="#40ffbf"/>
<polygon points="746.92,75.89 749.9,78.44 749.9,78.52 746.92,75.96" fill="#00a8f5"/>
<polygon points="749.9,78.44 753.33,76.81 753.33,76.89 749.9,78.52" fill="#00a8f5"/>
<polygon points="746.92,75.89 750.35,74.26 753.33,76.81 749.9,78.44" fill="#00afff"/>
<polygon points="742.3,78.09 745.28,80.64 745.28,80.72 742.3,78.16" fill="#001ff5"/>
<polygon points="745.28,80.64 748.7,79.01 748.7,79.09 745.28,80.72" fill="#001ff5"/>
<polygon points="742.3,78.09 745.72,76.46 748.7,79.01 745.28,80.64" fill="#0020ff"/>
<polygon points="737.67,80.29 740.65,82.84 740.65,82.92 737.67,80.36" fill="#0f0fa2"/>
<polygon points="740.65,82.84 744.08,81.21 744.08,81.29 740.65,82.92" fill="#0f0fa2"/>
<polygon points="737.67,80.29 741.1,78.66 744.08,81.21 740.65,82.84" fill="#0f0fa8"/>
<polygon points="774.07,68.34 777.05,70.89 777.05,70.97 774.07,68.41" fill="#7a0000"/>
<polygon points="777.05,70.89 780.48,69.26 780.48,69.34 777.05,70.97" fill="#7a0000"/>
<polygon points="774.07,68.34 777.5,66.71 780.48,69.26 777.05,70.89" fill="#800000"/>
<polygon points="769.45,70.54 772.43,73.09 772.43,73.17 769.45,70.61" fill="#f50f00"/>
<polygon points="772.43,73.09 775.85,71.46 775.85,71.54 772.43,73.17" fill="#f50f00"/>
<polygon points="769.45,70.54 772.87,68.91 775.85,71.46 772.43,73.09" fill="#ff1000"/>
<polygon points="764.82,72.74 767.8,75.29 767.8,75.37 764.82,72.81" fill="#f59900"/>
<polygon points="767.8,75.29 771.23,73.66 771.23,73.74 767.8,75.37" fill="#f59900"/>
<polygon points="764.82,72.74 768.25,71.11 771.23,73.66 767.8,75.29" fill="#ff9f00"/>
<polygon points="760.2,74.94 763.18,77.49 763.18,77.57 760.2,75.01" fill="#c7f52e"/>
<polygon points="763.18,77.49 766.6,75.86 766.6,75.94 763.18,77.57" fill="#c7f52e"/>
<polygon points="760.2,74.94 763.62,73.31 766.6,75.86 763.18,77.49" fill="#cfff30"/>
<polygon points="755.57,77.14 758.55,79.69 758.55,79.77 755.57,77.21" fill="#3df5b8"/>
<polygon points="758.55,79.69 761.98,78.06 761.98,78.14 758.55,79.77" fill="#3df5b8"/>
<polygon points="755.57,77.14 759,75.51 761.98,78.06 758.55,79.69" fill="#40ffbf"/>
<polygon points="750.95,79.34 753.93,81.89 753.93,81.97 750.95,79.41" fill="#00a8f5"/>
<polygon points="753.93,81.89 757.35,80.26 757.35,80.34 753.93,81.97" fill="#00a8f5"/>
<polygon points="750.95,79.34 754.37,77.71 757.35,80.26 753.93,81.89" fill="#00afff"/>
<polygon points="746.32,81.54 749.3,84.09 749.3,84.17 746.32,81.61" fill="#001ff5"/>
<polygon points="749.3,84.09 752.73,82.46 752.73,82.54 749.3,84.17" fill="#001ff5"/>
<polygon points="746.32,81.54 749.75,79.91 752.73,82.46 749.3,84.09" fill="#0020ff"/>
<polygon points="741.7,83.74 744.68,86.29 744.68,86.37 741.7,83.81" fill="#0f0fa2"/>
<polygon points="744.68,86.29 748.1,84.66 748.1,84.74 744.68,86.37" fill="#0f0fa2"/>
<polygon points="741.7,83.74 745.12,82.11 748.1,84.66 744.68,86.29" fill="#0f0fa8"/>
</g>
<path d="M712.4 47L744.6 74.6M744.6 74.6L781.6 57M744.6 99.6L744.6 74.6" fill="none" stroke="#222" stroke-opacity="0.8" stroke-width="0.48"/>
<text x="636" y="54.6" font-size="11.5" text-anchor="start" font-family="'Liberation Serif',serif" >Im[ρ]</text>
<text x="627" y="78.3" font-size="10.8" text-anchor="end" font-family="'Liberation Sans',sans-serif"  stroke="#000" stroke-width="0.1">0.5</text>
<text x="627" y="99.6" font-size="10.8" text-anchor="end" font-family="'Liberation Sans',sans-serif"  stroke="#000" stroke-width="0.1">0</text>
<text x="627" y="120.9" font-size="10.8" text-anchor="end" font-family="'Liberation Sans',sans-serif"  stroke="#000" stroke-width="0.1">-0.5</text>
<text x="627.8" y="134.95" font-size="9.9" text-anchor="end" font-family="'Liberation Sans',sans-serif"  stroke="#000" stroke-width="0.1">-7</text>
<text x="634.77" y="140.65" font-size="9.9" text-anchor="end" font-family="'Liberation Sans',sans-serif"  stroke="#000" stroke-width="0.1">-5</text>
<text x="641.74" y="146.35" font-size="9.9" text-anchor="end" font-family="'Liberation Sans',sans-serif"  stroke="#000" stroke-width="0.1">-3</text>
<text x="648.71" y="152.05" font-size="9.9" text-anchor="end" font-family="'Liberation Sans',sans-serif"  stroke="#000" stroke-width="0.1">-1</text>
<text x="655.68" y="157.75" font-size="9.9" text-anchor="end" font-family="'Liberation Sans',sans-serif"  stroke="#000" stroke-width="0.1">1</text>
<text x="662.65" y="163.45" font-size="9.9" text-anchor="end" font-family="'Liberation Sans',sans-serif"  stroke="#000" stroke-width="0.1">3</text>
<text x="669.62" y="169.15" font-size="9.9" text-anchor="end" font-family="'Liberation Sans',sans-serif"  stroke="#000" stroke-width="0.1">5</text>
<text x="676.59" y="174.85" font-size="9.9" text-anchor="end" font-family="'Liberation Sans',sans-serif"  stroke="#000" stroke-width="0.1">7</text>
<text x="690.3" y="178.05" font-size="9.9" text-anchor="start" font-family="'Liberation Sans',sans-serif"  stroke="#000" stroke-width="0.1">-7</text>
<text x="698.25" y="174.12" font-size="9.9" text-anchor="start" font-family="'Liberation Sans',sans-serif"  stroke="#000" stroke-width="0.1">-5</text>
<text x="706.2" y="170.19" font-size="9.9" text-anchor="start" font-family="'Liberation Sans',sans-serif"  stroke="#000" stroke-width="0.1">-3</text>
<text x="714.15" y="166.26" font-size="9.9" text-anchor="start" font-family="'Liberation Sans',sans-serif"  stroke="#000" stroke-width="0.1">-1</text>
<text x="722.1" y="162.33" font-size="9.9" text-anchor="start" font-family="'Liberation Sans',sans-serif"  stroke="#000" stroke-width="0.1">1</text>
<text x="730.05" y="158.4" font-size="9.9" text-anchor="start" font-family="'Liberation Sans',sans-serif"  stroke="#000" stroke-width="0.1">3</text>
<text x="738" y="154.47" font-size="9.9" text-anchor="start" font-family="'Liberation Sans',sans-serif"  stroke="#000" stroke-width="0.1">5</text>
<text x="745.95" y="150.54" font-size="9.9" text-anchor="start" font-family="'Liberation Sans',sans-serif"  stroke="#000" stroke-width="0.1">7</text>
<text x="618.6" y="161.7" font-size="10" text-anchor="middle" font-family="'Liberation Sans',sans-serif" >⟨<tspan font-style="italic">l</tspan>/2|</text>
<text x="740.1" y="174.5" font-size="10" text-anchor="middle" font-family="'Liberation Sans',sans-serif" >|<tspan font-style="italic">l</tspan>/2⟩</text>
<polygon points="451.4,308.7 507.5,356.6 571.3,325.6 571.3,282.4 515.2,234.5 451.4,265.5" fill="#fff" stroke="none"/>
<path d="M455.39 306.76L455.39 263.56M455.39 306.76L511.49 354.66M463.36 302.89L463.36 259.69M463.36 302.89L519.46 350.79M471.34 299.01L471.34 255.81M471.34 299.01L527.44 346.91M479.31 295.14L479.31 251.94M479.31 295.14L535.41 343.04M487.29 291.26L487.29 248.06M487.29 291.26L543.39 339.16M495.26 287.39L495.26 244.19M495.26 287.39L551.36 335.29M503.24 283.51L503.24 240.31M503.24 283.51L559.34 331.41M511.21 279.64L511.21 236.44M511.21 279.64L567.31 327.54M518.71 280.69L518.71 237.49M518.71 280.69L454.91 311.69M525.72 286.68L525.72 243.48M525.72 286.68L461.92 317.68M532.73 292.67L532.73 249.47M532.73 292.67L468.93 323.67M539.74 298.66L539.74 255.46M539.74 298.66L475.94 329.66M546.76 304.64L546.76 261.44M546.76 304.64L482.96 335.64M553.77 310.63L553.77 267.43M553.77 310.63L489.97 341.63M560.78 316.62L560.78 273.42M560.78 316.62L496.98 347.62M567.79 322.61L567.79 279.41M567.79 322.61L503.99 353.61M451.4 308.7L515.2 277.7L571.3 325.6M451.4 287.1L515.2 256.1L571.3 304M451.4 265.5L515.2 234.5L571.3 282.4" fill="none" stroke="#000" stroke-width="0.6" stroke-dasharray="0.7 2.7"/>
<path d="M451.4 265.5L515.2 234.5M515.2 234.5L571.3 282.4M451.4 308.7L515.2 277.7M515.2 277.7L571.3 325.6" fill="none" stroke="#4a4a4a" stroke-width="0.57"/>
<path d="M451.4 308.7L507.5 356.6M507.5 356.6L571.3 325.6" fill="none" stroke="#222" stroke-width="0.66"/>
<path d="M451.4 308.7L451.4 265.5" fill="none" stroke="#111" stroke-width="0.7"/>
<path d="M571.3 325.6L571.3 282.4" fill="none" stroke="#666" stroke-width="0.7"/>
<path d="M515.2 277.7L515.2 234.5" fill="none" stroke="#555" stroke-width="0.8"/>
<path d="M454.91 311.69l-1.98 0.96M461.92 317.68l-1.98 0.96M468.93 323.67l-1.98 0.96M475.94 329.66l-1.98 0.96M482.96 335.64l-1.98 0.96M489.97 341.63l-1.98 0.96M496.98 347.62l-1.98 0.96M503.99 353.61l-1.98 0.96M511.49 354.66l1.67 1.43M519.46 350.79l1.67 1.43M527.44 346.91l1.67 1.43M535.41 343.04l1.67 1.43M543.39 339.16l1.67 1.43M551.36 335.29l1.67 1.43M559.34 331.41l1.67 1.43M567.31 327.54l1.67 1.43M451.4 308.7l-1.58 0.77M451.4 287.1l-1.58 0.77M451.4 265.5l-1.58 0.77" fill="none" stroke="#333" stroke-width="0.5"/>
<g stroke="#000" stroke-opacity="0.85" stroke-width="0.5" stroke-linejoin="round">
<polygon points="508.72,254.79 514.33,259.58 514.33,264.98 508.72,260.19" fill="#7a0000"/>
<polygon points="514.33,259.58 520.71,256.48 520.71,261.88 514.33,264.98" fill="#7a0000"/>
<polygon points="508.72,254.79 515.1,251.69 520.71,256.48 514.33,259.58" fill="#800000"/>
<polygon points="500.75,258.23 506.36,263.02 506.36,268.85 500.75,264.06" fill="#f50f00"/>
<polygon points="506.36,263.02 512.74,259.92 512.74,265.75 506.36,268.85" fill="#f50f00"/>
<polygon points="500.75,258.23 507.13,255.13 512.74,259.92 506.36,263.02" fill="#ff1000"/>
<polygon points="492.77,264.05 498.38,268.84 498.38,272.73 492.77,267.94" fill="#f59900"/>
<polygon points="498.38,268.84 504.76,265.74 504.76,269.63 498.38,272.73" fill="#f59900"/>
<polygon points="492.77,264.05 499.15,260.95 504.76,265.74 498.38,268.84" fill="#ff9f00"/>
<polygon points="484.8,267.49 490.41,272.28 490.41,276.6 484.8,271.81" fill="#c7f52e"/>
<polygon points="490.41,272.28 496.79,269.18 496.79,273.5 490.41,276.6" fill="#c7f52e"/>
<polygon points="484.8,267.49 491.18,264.39 496.79,269.18 490.41,272.28" fill="#cfff30"/>
<polygon points="476.82,270.5 482.43,275.29 482.43,280.48 476.82,275.69" fill="#3df5b8"/>
<polygon points="482.43,275.29 488.81,272.19 488.81,277.38 482.43,280.48" fill="#3df5b8"/>
<polygon points="476.82,270.5 483.2,267.4 488.81,272.19 482.43,275.29" fill="#40ffbf"/>
<polygon points="468.85,274.38 474.46,279.17 474.46,284.35 468.85,279.56" fill="#00a8f5"/>
<polygon points="474.46,279.17 480.84,276.07 480.84,281.25 474.46,284.35" fill="#00a8f5"/>
<polygon points="468.85,274.38 475.23,271.28 480.84,276.07 474.46,279.17" fill="#00afff"/>
<polygon points="460.87,278.25 466.48,283.04 466.48,288.23 460.87,283.44" fill="#001ff5"/>
<polygon points="466.48,283.04 472.86,279.94 472.86,285.13 466.48,288.23" fill="#001ff5"/>
<polygon points="460.87,278.25 467.25,275.15 472.86,279.94 466.48,283.04" fill="#0020ff"/>
<polygon points="452.9,280.4 458.51,285.19 458.51,292.1 452.9,287.31" fill="#0f0fa2"/>
<polygon points="458.51,285.19 464.89,282.09 464.89,289 458.51,292.1" fill="#0f0fa2"/>
<polygon points="452.9,280.4 459.28,277.3 464.89,282.09 458.51,285.19" fill="#0f0fa8"/>
<polygon points="515.74,260.77 521.35,265.56 521.35,270.96 515.74,266.17" fill="#7a0000"/>
<polygon points="521.35,265.56 527.73,262.46 527.73,267.86 521.35,270.96" fill="#7a0000"/>
<polygon points="515.74,260.77 522.12,257.67 527.73,262.46 521.35,265.56" fill="#800000"/>
<polygon points="507.76,264.59 513.37,269.38 513.37,274.84 507.76,270.05" fill="#f50f00"/>
<polygon points="513.37,269.38 519.75,266.28 519.75,271.74 513.37,274.84" fill="#f50f00"/>
<polygon points="507.76,264.59 514.14,261.49 519.75,266.28 513.37,269.38" fill="#ff1000"/>
<polygon points="499.79,268.51 505.4,273.3 505.4,278.71 499.79,273.92" fill="#f59900"/>
<polygon points="505.4,273.3 511.78,270.2 511.78,275.61 505.4,278.71" fill="#f59900"/>
<polygon points="499.79,268.51 506.17,265.41 511.78,270.2 505.4,273.3" fill="#ff9f00"/>
<polygon points="491.81,272.08 497.42,276.87 497.42,282.59 491.81,277.8" fill="#c7f52e"/>
<polygon points="497.42,276.87 503.8,273.77 503.8,279.49 497.42,282.59" fill="#c7f52e"/>
<polygon points="491.81,272.08 498.19,268.98 503.8,273.77 497.42,276.87" fill="#cfff30"/>
<polygon points="483.84,276.11 489.45,280.9 489.45,286.46 483.84,281.67" fill="#3df5b8"/>
<polygon points="489.45,280.9 495.83,277.8 495.83,283.36 489.45,286.46" fill="#3df5b8"/>
<polygon points="483.84,276.11 490.22,273.01 495.83,277.8 489.45,280.9" fill="#40ffbf"/>
<polygon points="475.86,280.21 481.47,285 481.47,290.34 475.86,285.55" fill="#00a8f5"/>
<polygon points="481.47,285 487.85,281.9 487.85,287.24 481.47,290.34" fill="#00a8f5"/>
<polygon points="475.86,280.21 482.24,277.11 487.85,281.9 481.47,285" fill="#00afff"/>
<polygon points="467.89,283.29 473.5,288.08 473.5,294.21 467.89,289.42" fill="#001ff5"/>
<polygon points="473.5,288.08 479.88,284.98 479.88,291.11 473.5,294.21" fill="#001ff5"/>
<polygon points="467.89,283.29 474.27,280.19 479.88,284.98 473.5,288.08" fill="#0020ff"/>
<polygon points="459.91,286.19 465.52,290.98 465.52,298.09 459.91,293.3" fill="#0f0fa2"/>
<polygon points="465.52,290.98 471.9,287.88 471.9,294.99 465.52,298.09" fill="#0f0fa2"/>
<polygon points="459.91,286.19 466.29,283.09 471.9,287.88 465.52,290.98" fill="#0f0fa8"/>
<polygon points="522.75,266.28 528.36,271.07 528.36,276.95 522.75,272.16" fill="#7a0000"/>
<polygon points="528.36,271.07 534.74,267.97 534.74,273.85 528.36,276.95" fill="#7a0000"/>
<polygon points="522.75,266.28 529.13,263.18 534.74,267.97 528.36,271.07" fill="#800000"/>
<polygon points="514.77,270.34 520.38,275.13 520.38,280.83 514.77,276.04" fill="#f50f00"/>
<polygon points="520.38,275.13 526.76,272.03 526.76,277.73 520.38,280.83" fill="#f50f00"/>
<polygon points="514.77,270.34 521.15,267.24 526.76,272.03 520.38,275.13" fill="#ff1000"/>
<polygon points="506.8,274.83 512.41,279.62 512.41,284.7 506.8,279.91" fill="#f59900"/>
<polygon points="512.41,279.62 518.79,276.52 518.79,281.6 512.41,284.7" fill="#f59900"/>
<polygon points="506.8,274.83 513.18,271.73 518.79,276.52 512.41,279.62" fill="#ff9f00"/>
<polygon points="498.82,277.86 504.43,282.65 504.43,288.58 498.82,283.79" fill="#c7f52e"/>
<polygon points="504.43,282.65 510.81,279.55 510.81,285.48 504.43,288.58" fill="#c7f52e"/>
<polygon points="498.82,277.86 505.2,274.76 510.81,279.55 504.43,282.65" fill="#cfff30"/>
<polygon points="490.85,282.18 496.46,286.97 496.46,292.45 490.85,287.66" fill="#3df5b8"/>
<polygon points="496.46,286.97 502.84,283.87 502.84,289.35 496.46,292.45" fill="#3df5b8"/>
<polygon points="490.85,282.18 497.23,279.08 502.84,283.87 496.46,286.97" fill="#40ffbf"/>
<polygon points="482.87,286.14 488.48,290.93 488.48,296.33 482.87,291.54" fill="#00a8f5"/>
<polygon points="488.48,290.93 494.86,287.83 494.86,293.23 488.48,296.33" fill="#00a8f5"/>
<polygon points="482.87,286.14 489.25,283.04 494.86,287.83 488.48,290.93" fill="#00afff"/>
<polygon points="474.9,289.69 480.51,294.48 480.51,300.2 474.9,295.41" fill="#001ff5"/>
<polygon points="480.51,294.48 486.89,291.38 486.89,297.1 480.51,300.2" fill="#001ff5"/>
<polygon points="474.9,289.69 481.28,286.59 486.89,291.38 480.51,294.48" fill="#0020ff"/>
<polygon points="466.92,292.52 472.53,297.31 472.53,304.08 466.92,299.29" fill="#0f0fa2"/>
<polygon points="472.53,297.31 478.91,294.21 478.91,300.98 472.53,304.08" fill="#0f0fa2"/>
<polygon points="466.92,292.52 473.3,289.42 478.91,294.21 472.53,297.31" fill="#0f0fa8"/>
<polygon points="529.76,272.98 535.37,277.77 535.37,282.94 529.76,278.15" fill="#7a0000"/>
<polygon points="535.37,277.77 541.75,274.67 541.75,279.84 535.37,282.94" fill="#7a0000"/>
<polygon points="529.76,272.98 536.14,269.88 541.75,274.67 535.37,277.77" fill="#800000"/>
<polygon points="521.79,276.19 527.4,280.98 527.4,286.81 521.79,282.02" fill="#f50f00"/>
<polygon points="527.4,280.98 533.78,277.88 533.78,283.71 527.4,286.81" fill="#f50f00"/>
<polygon points="521.79,276.19 528.17,273.09 533.78,277.88 527.4,280.98" fill="#ff1000"/>
<polygon points="513.81,280.36 519.42,285.15 519.42,290.69 513.81,285.9" fill="#f59900"/>
<polygon points="519.42,285.15 525.8,282.05 525.8,287.59 519.42,290.69" fill="#f59900"/>
<polygon points="513.81,280.36 520.19,277.26 525.8,282.05 519.42,285.15" fill="#ff9f00"/>
<polygon points="505.84,284.51 511.45,289.3 511.45,294.56 505.84,289.77" fill="#c7f52e"/>
<polygon points="511.45,289.3 517.83,286.2 517.83,291.46 511.45,294.56" fill="#c7f52e"/>
<polygon points="505.84,284.51 512.22,281.41 517.83,286.2 511.45,289.3" fill="#cfff30"/>
<polygon points="497.86,288.33 503.47,293.12 503.47,298.44 497.86,293.65" fill="#3df5b8"/>
<polygon points="503.47,293.12 509.85,290.02 509.85,295.34 503.47,298.44" fill="#3df5b8"/>
<polygon points="497.86,288.33 504.24,285.23 509.85,290.02 503.47,293.12" fill="#40ffbf"/>
<polygon points="489.89,291.57 495.5,296.36 495.5,302.31 489.89,297.52" fill="#00a8f5"/>
<polygon points="495.5,296.36 501.88,293.26 501.88,299.21 495.5,302.31" fill="#00a8f5"/>
<polygon points="489.89,291.57 496.27,288.47 501.88,293.26 495.5,296.36" fill="#00afff"/>
<polygon points="481.91,296.09 487.52,300.88 487.52,306.19 481.91,301.4" fill="#001ff5"/>
<polygon points="487.52,300.88 493.9,297.78 493.9,303.09 487.52,306.19" fill="#001ff5"/>
<polygon points="481.91,296.09 488.29,292.99 493.9,297.78 487.52,300.88" fill="#0020ff"/>
<polygon points="473.94,298.58 479.55,303.37 479.55,310.06 473.94,305.27" fill="#0f0fa2"/>
<polygon points="479.55,303.37 485.93,300.27 485.93,306.96 479.55,310.06" fill="#0f0fa2"/>
<polygon points="473.94,298.58 480.32,295.48 485.93,300.27 479.55,303.37" fill="#0f0fa8"/>
<polygon points="536.77,278.35 542.38,283.14 542.38,288.93 536.77,284.14" fill="#7a0000"/>
<polygon points="542.38,283.14 548.76,280.04 548.76,285.83 542.38,288.93" fill="#7a0000"/>
<polygon points="536.77,278.35 543.15,275.25 548.76,280.04 542.38,283.14" fill="#800000"/>
<polygon points="528.8,282.58 534.41,287.37 534.41,292.8 528.8,288.01" fill="#f50f00"/>
<polygon points="534.41,287.37 540.79,284.27 540.79,289.7 534.41,292.8" fill="#f50f00"/>
<polygon points="528.8,282.58 535.18,279.48 540.79,284.27 534.41,287.37" fill="#ff1000"/>
<polygon points="520.82,286.64 526.43,291.43 526.43,296.68 520.82,291.89" fill="#f59900"/>
<polygon points="526.43,291.43 532.81,288.33 532.81,293.58 526.43,296.68" fill="#f59900"/>
<polygon points="520.82,286.64 527.2,283.54 532.81,288.33 526.43,291.43" fill="#ff9f00"/>
<polygon points="512.85,289.75 518.46,294.54 518.46,300.55 512.85,295.76" fill="#c7f52e"/>
<polygon points="518.46,294.54 524.84,291.44 524.84,297.45 518.46,300.55" fill="#c7f52e"/>
<polygon points="512.85,289.75 519.23,286.65 524.84,291.44 518.46,294.54" fill="#cfff30"/>
<polygon points="504.87,294.09 510.48,298.88 510.48,304.43 504.87,299.64" fill="#3df5b8"/>
<polygon points="510.48,298.88 516.86,295.78 516.86,301.33 510.48,304.43" fill="#3df5b8"/>
<polygon points="504.87,294.09 511.25,290.99 516.86,295.78 510.48,298.88" fill="#40ffbf"/>
<polygon points="496.9,297.52 502.51,302.31 502.51,308.3 496.9,303.51" fill="#00a8f5"/>
<polygon points="502.51,302.31 508.89,299.21 508.89,305.2 502.51,308.3" fill="#00a8f5"/>
<polygon points="496.9,297.52 503.28,294.42 508.89,299.21 502.51,302.31" fill="#00afff"/>
<polygon points="488.92,301.96 494.53,306.75 494.53,312.18 488.92,307.39" fill="#001ff5"/>
<polygon points="494.53,306.75 500.91,303.65 500.91,309.08 494.53,312.18" fill="#001ff5"/>
<polygon points="488.92,301.96 495.3,298.86 500.91,303.65 494.53,306.75" fill="#0020ff"/>
<polygon points="480.95,304.55 486.56,309.34 486.56,316.05 480.95,311.26" fill="#0f0fa2"/>
<polygon points="486.56,309.34 492.94,306.24 492.94,312.95 486.56,316.05" fill="#0f0fa2"/>
<polygon points="480.95,304.55 487.33,301.45 492.94,306.24 486.56,309.34" fill="#0f0fa8"/>
<polygon points="543.79,284.13 549.4,288.92 549.4,294.91 543.79,290.12" fill="#7a0000"/>
<polygon points="549.4,288.92 555.78,285.82 555.78,291.81 549.4,294.91" fill="#7a0000"/>
<polygon points="543.79,284.13 550.17,281.03 555.78,285.82 549.4,288.92" fill="#800000"/>
<polygon points="535.81,288.04 541.42,292.83 541.42,298.79 535.81,294" fill="#f50f00"/>
<polygon points="541.42,292.83 547.8,289.73 547.8,295.69 541.42,298.79" fill="#f50f00"/>
<polygon points="535.81,288.04 542.19,284.94 547.8,289.73 541.42,292.83" fill="#ff1000"/>
<polygon points="527.84,292.61 533.45,297.4 533.45,302.66 527.84,297.87" fill="#f59900"/>
<polygon points="533.45,297.4 539.83,294.3 539.83,299.56 533.45,302.66" fill="#f59900"/>
<polygon points="527.84,292.61 534.22,289.51 539.83,294.3 533.45,297.4" fill="#ff9f00"/>
<polygon points="519.86,296.1 525.47,300.89 525.47,306.54 519.86,301.75" fill="#c7f52e"/>
<polygon points="525.47,300.89 531.85,297.79 531.85,303.44 525.47,306.54" fill="#c7f52e"/>
<polygon points="519.86,296.1 526.24,293 531.85,297.79 525.47,300.89" fill="#cfff30"/>
<polygon points="511.89,300.43 517.5,305.22 517.5,310.41 511.89,305.62" fill="#3df5b8"/>
<polygon points="517.5,305.22 523.88,302.12 523.88,307.31 517.5,310.41" fill="#3df5b8"/>
<polygon points="511.89,300.43 518.27,297.33 523.88,302.12 517.5,305.22" fill="#40ffbf"/>
<polygon points="503.91,304.19 509.52,308.98 509.52,314.29 503.91,309.5" fill="#00a8f5"/>
<polygon points="509.52,308.98 515.9,305.88 515.9,311.19 509.52,314.29" fill="#00a8f5"/>
<polygon points="503.91,304.19 510.29,301.09 515.9,305.88 509.52,308.98" fill="#00afff"/>
<polygon points="495.94,307.81 501.55,312.6 501.55,318.16 495.94,313.37" fill="#001ff5"/>
<polygon points="501.55,312.6 507.93,309.5 507.93,315.06 501.55,318.16" fill="#001ff5"/>
<polygon points="495.94,307.81 502.32,304.71 507.93,309.5 501.55,312.6" fill="#0020ff"/>
<polygon points="487.96,310.81 493.57,315.6 493.57,322.04 487.96,317.25" fill="#0f0fa2"/>
<polygon points="493.57,315.6 499.95,312.5 499.95,318.94 493.57,322.04" fill="#0f0fa2"/>
<polygon points="487.96,310.81 494.34,307.71 499.95,312.5 493.57,315.6" fill="#0f0fa8"/>
<polygon points="550.8,290.73 556.41,295.52 556.41,300.9 550.8,296.11" fill="#7a0000"/>
<polygon points="556.41,295.52 562.79,292.42 562.79,297.8 556.41,300.9" fill="#7a0000"/>
<polygon points="550.8,290.73 557.18,287.63 562.79,292.42 556.41,295.52" fill="#800000"/>
<polygon points="542.82,294.79 548.43,299.58 548.43,304.78 542.82,299.99" fill="#f50f00"/>
<polygon points="548.43,299.58 554.81,296.48 554.81,301.68 548.43,304.78" fill="#f50f00"/>
<polygon points="542.82,294.79 549.2,291.69 554.81,296.48 548.43,299.58" fill="#ff1000"/>
<polygon points="534.85,298.42 540.46,303.21 540.46,308.65 534.85,303.86" fill="#f59900"/>
<polygon points="540.46,303.21 546.84,300.11 546.84,305.55 540.46,308.65" fill="#f59900"/>
<polygon points="534.85,298.42 541.23,295.32 546.84,300.11 540.46,303.21" fill="#ff9f00"/>
<polygon points="526.87,301.78 532.48,306.57 532.48,312.53 526.87,307.74" fill="#c7f52e"/>
<polygon points="532.48,306.57 538.86,303.47 538.86,309.43 532.48,312.53" fill="#c7f52e"/>
<polygon points="526.87,301.78 533.25,298.68 538.86,303.47 532.48,306.57" fill="#cfff30"/>
<polygon points="518.9,305.84 524.51,310.63 524.51,316.4 518.9,311.61" fill="#3df5b8"/>
<polygon points="524.51,310.63 530.89,307.53 530.89,313.3 524.51,316.4" fill="#3df5b8"/>
<polygon points="518.9,305.84 525.28,302.74 530.89,307.53 524.51,310.63" fill="#40ffbf"/>
<polygon points="510.92,309.53 516.53,314.32 516.53,320.28 510.92,315.49" fill="#00a8f5"/>
<polygon points="516.53,314.32 522.91,311.22 522.91,317.18 516.53,320.28" fill="#00a8f5"/>
<polygon points="510.92,309.53 517.3,306.43 522.91,311.22 516.53,314.32" fill="#00afff"/>
<polygon points="502.95,313.99 508.56,318.78 508.56,324.15 502.95,319.36" fill="#001ff5"/>
<polygon points="508.56,318.78 514.94,315.68 514.94,321.05 508.56,324.15" fill="#001ff5"/>
<polygon points="502.95,313.99 509.33,310.89 514.94,315.68 508.56,318.78" fill="#0020ff"/>
<polygon points="494.97,317.59 500.58,322.38 500.58,328.03 494.97,323.24" fill="#0f0fa2"/>
<polygon points="500.58,322.38 506.96,319.28 506.96,324.93 500.58,328.03" fill="#0f0fa2"/>
<polygon points="494.97,317.59 501.35,314.49 506.96,319.28 500.58,322.38" fill="#0f0fa8"/>
<polygon points="557.81,296.87 563.42,301.66 563.42,306.89 557.81,302.1" fill="#7a0000"/>
<polygon points="563.42,301.66 569.8,298.56 569.8,303.79 563.42,306.89" fill="#7a0000"/>
<polygon points="557.81,296.87 564.19,293.77 569.8,298.56 563.42,301.66" fill="#800000"/>
<polygon points="549.84,299.89 555.45,304.68 555.45,310.76 549.84,305.97" fill="#f50f00"/>
<polygon points="555.45,304.68 561.83,301.58 561.83,307.66 555.45,310.76" fill="#f50f00"/>
<polygon points="549.84,299.89 556.22,296.79 561.83,301.58 555.45,304.68" fill="#ff1000"/>
<polygon points="541.86,304.33 547.47,309.12 547.47,314.64 541.86,309.85" fill="#f59900"/>
<polygon points="547.47,309.12 553.85,306.02 553.85,311.54 547.47,314.64" fill="#f59900"/>
<polygon points="541.86,304.33 548.24,301.23 553.85,306.02 547.47,309.12" fill="#ff9f00"/>
<polygon points="533.89,308.2 539.5,312.99 539.5,318.51 533.89,313.72" fill="#c7f52e"/>
<polygon points="539.5,312.99 545.88,309.89 545.88,315.41 539.5,318.51" fill="#c7f52e"/>
<polygon points="533.89,308.2 540.27,305.1 545.88,309.89 539.5,312.99" fill="#cfff30"/>
<polygon points="525.91,312.08 531.52,316.87 531.52,322.39 525.91,317.6" fill="#3df5b8"/>
<polygon points="531.52,316.87 537.9,313.77 537.9,319.29 531.52,322.39" fill="#3df5b8"/>
<polygon points="525.91,312.08 532.29,308.98 537.9,313.77 531.52,316.87" fill="#40ffbf"/>
<polygon points="517.94,316.03 523.55,320.82 523.55,326.26 517.94,321.47" fill="#00a8f5"/>
<polygon points="523.55,320.82 529.93,317.72 529.93,323.16 523.55,326.26" fill="#00a8f5"/>
<polygon points="517.94,316.03 524.32,312.93 529.93,317.72 523.55,320.82" fill="#00afff"/>
<polygon points="509.96,319.99 515.57,324.78 515.57,330.14 509.96,325.35" fill="#001ff5"/>
<polygon points="515.57,324.78 521.95,321.68 521.95,327.04 515.57,330.14" fill="#001ff5"/>
<polygon points="509.96,319.99 516.34,316.89 521.95,321.68 515.57,324.78" fill="#0020ff"/>
<polygon points="501.99,322.89 507.6,327.68 507.6,334.01 501.99,329.22" fill="#0f0fa2"/>
<polygon points="507.6,327.68 513.98,324.58 513.98,330.91 507.6,334.01" fill="#0f0fa2"/>
<polygon points="501.99,322.89 508.37,319.79 513.98,324.58 507.6,327.68" fill="#0f0fa8"/>
</g>
<path d="M451.4 265.5L507.5 313.4M507.5 313.4L571.3 282.4M507.5 356.6L507.5 313.4" fill="none" stroke="#222" stroke-opacity="0.8" stroke-width="0.48"/>
<polygon points="537.5,266.2 568.8,291.9 605.4,274.4 605.4,250.2 574.1,224.5 537.5,242" fill="#fff" stroke="none"/>
<path d="M539.79 265.11L539.79 240.91M539.79 265.11L571.09 290.81M544.36 262.92L544.36 238.72M544.36 262.92L575.66 288.62M548.94 260.73L548.94 236.53M548.94 260.73L580.24 286.43M553.51 258.54L553.51 234.34M553.51 258.54L584.81 284.24M558.09 256.36L558.09 232.16M558.09 256.36L589.39 282.06M562.66 254.17L562.66 229.97M562.66 254.17L593.96 279.87M567.24 251.98L567.24 227.78M567.24 251.98L598.54 277.68M571.81 249.79L571.81 225.59M571.81 249.79L603.11 275.49M576.06 250.31L576.06 226.11M576.06 250.31L539.46 267.81M579.97 253.52L579.97 229.32M579.97 253.52L543.37 271.02M583.88 256.73L583.88 232.53M583.88 256.73L547.28 274.23M587.79 259.94L587.79 235.74M587.79 259.94L551.19 277.44M591.71 263.16L591.71 238.96M591.71 263.16L555.11 280.66M595.62 266.37L595.62 242.17M595.62 266.37L559.02 283.87M599.53 269.58L599.53 245.38M599.53 269.58L562.93 287.08M603.44 272.79L603.44 248.59M603.44 272.79L566.84 290.29M537.5 266.2L574.1 248.7L605.4 274.4M537.5 254.1L574.1 236.6L605.4 262.3M537.5 242L574.1 224.5L605.4 250.2" fill="none" stroke="#000" stroke-width="0.6" stroke-dasharray="0.6 2.2"/>
<path d="M537.5 242L574.1 224.5M574.1 224.5L605.4 250.2M537.5 266.2L574.1 248.7M574.1 248.7L605.4 274.4" fill="none" stroke="#4a4a4a" stroke-width="0.57"/>
<path d="M537.5 266.2L568.8 291.9M568.8 291.9L605.4 274.4" fill="none" stroke="#222" stroke-width="0.66"/>
<path d="M537.5 266.2L537.5 242" fill="none" stroke="#666" stroke-width="1.2"/>
<path d="M605.4 274.4L605.4 250.2" fill="none" stroke="#666" stroke-width="0.6"/>
<path d="M574.1 248.7L574.1 224.5" fill="none" stroke="#888" stroke-width="0.8"/>
<g stroke="#000" stroke-opacity="0.85" stroke-width="0.33" stroke-linejoin="round">
<polygon points="570.37,235.86 573.5,238.44 573.5,241.46 570.37,238.89" fill="#7a0000"/>
<polygon points="573.5,238.44 577.16,236.69 577.16,239.71 573.5,241.46" fill="#7a0000"/>
<polygon points="570.37,235.86 574.03,234.11 577.16,236.69 573.5,238.44" fill="#800000"/>
<polygon points="565.8,238.05 568.93,240.62 568.93,243.65 565.8,241.08" fill="#f50f00"/>
<polygon points="568.93,240.62 572.59,238.87 572.59,241.9 568.93,243.65" fill="#f50f00"/>
<polygon points="565.8,238.05 569.46,236.3 572.59,238.87 568.93,240.62" fill="#ff1000"/>
<polygon points="561.22,240.24 564.35,242.81 564.35,245.84 561.22,243.26" fill="#f59900"/>
<polygon points="564.35,242.81 568.01,241.06 568.01,244.09 564.35,245.84" fill="#f59900"/>
<polygon points="561.22,240.24 564.88,238.49 568.01,241.06 564.35,242.81" fill="#ff9f00"/>
<polygon points="556.65,242.43 559.78,245 559.78,248.02 556.65,245.45" fill="#c7f52e"/>
<polygon points="559.78,245 563.44,243.25 563.44,246.27 559.78,248.02" fill="#c7f52e"/>
<polygon points="556.65,242.43 560.31,240.68 563.44,243.25 559.78,245" fill="#cfff30"/>
<polygon points="552.07,244.62 555.2,247.19 555.2,250.21 552.07,247.64" fill="#3df5b8"/>
<polygon points="555.2,247.19 558.86,245.44 558.86,248.46 555.2,250.21" fill="#3df5b8"/>
<polygon points="552.07,244.62 555.73,242.87 558.86,245.44 555.2,247.19" fill="#40ffbf"/>
<polygon points="547.5,246.8 550.63,249.37 550.63,252.4 547.5,249.83" fill="#00a8f5"/>
<polygon points="550.63,249.37 554.29,247.62 554.29,250.65 550.63,252.4" fill="#00a8f5"/>
<polygon points="547.5,246.8 551.16,245.05 554.29,247.62 550.63,249.37" fill="#00afff"/>
<polygon points="542.92,248.99 546.05,251.56 546.05,254.59 542.92,252.02" fill="#001ff5"/>
<polygon points="546.05,251.56 549.71,249.81 549.71,252.84 546.05,254.59" fill="#001ff5"/>
<polygon points="542.92,248.99 546.58,247.24 549.71,249.81 546.05,251.56" fill="#0020ff"/>
<polygon points="538.35,251.18 541.48,253.75 541.48,256.77 538.35,254.2" fill="#0f0fa2"/>
<polygon points="541.48,253.75 545.14,252 545.14,255.02 541.48,256.77" fill="#0f0fa2"/>
<polygon points="538.35,251.18 542.01,249.43 545.14,252 541.48,253.75" fill="#0f0fa8"/>
<polygon points="574.29,239.08 577.42,241.65 577.42,244.67 574.29,242.1" fill="#7a0000"/>
<polygon points="577.42,241.65 581.08,239.9 581.08,242.92 577.42,244.67" fill="#7a0000"/>
<polygon points="574.29,239.08 577.95,237.33 581.08,239.9 577.42,241.65" fill="#800000"/>
<polygon points="569.71,241.26 572.84,243.83 572.84,246.86 569.71,244.29" fill="#f50f00"/>
<polygon points="572.84,243.83 576.5,242.08 576.5,245.11 572.84,246.86" fill="#f50f00"/>
<polygon points="569.71,241.26 573.37,239.51 576.5,242.08 572.84,243.83" fill="#ff1000"/>
<polygon points="565.14,243.45 568.27,246.02 568.27,249.05 565.14,246.48" fill="#f59900"/>
<polygon points="568.27,246.02 571.93,244.27 571.93,247.3 568.27,249.05" fill="#f59900"/>
<polygon points="565.14,243.45 568.8,241.7 571.93,244.27 568.27,246.02" fill="#ff9f00"/>
<polygon points="560.56,245.64 563.69,248.21 563.69,251.23 560.56,248.66" fill="#c7f52e"/>
<polygon points="563.69,248.21 567.35,246.46 567.35,249.48 563.69,251.23" fill="#c7f52e"/>
<polygon points="560.56,245.64 564.22,243.89 567.35,246.46 563.69,248.21" fill="#cfff30"/>
<polygon points="555.99,247.83 559.12,250.4 559.12,253.42 555.99,250.85" fill="#3df5b8"/>
<polygon points="559.12,250.4 562.78,248.65 562.78,251.67 559.12,253.42" fill="#3df5b8"/>
<polygon points="555.99,247.83 559.65,246.08 562.78,248.65 559.12,250.4" fill="#40ffbf"/>
<polygon points="551.41,250.01 554.54,252.58 554.54,255.61 551.41,253.04" fill="#00a8f5"/>
<polygon points="554.54,252.58 558.2,250.83 558.2,253.86 554.54,255.61" fill="#00a8f5"/>
<polygon points="551.41,250.01 555.07,248.26 558.2,250.83 554.54,252.58" fill="#00afff"/>
<polygon points="546.84,252.2 549.97,254.77 549.97,257.8 546.84,255.23" fill="#001ff5"/>
<polygon points="549.97,254.77 553.63,253.02 553.63,256.05 549.97,257.8" fill="#001ff5"/>
<polygon points="546.84,252.2 550.5,250.45 553.63,253.02 549.97,254.77" fill="#0020ff"/>
<polygon points="542.26,254.39 545.39,256.96 545.39,259.98 542.26,257.41" fill="#0f0fa2"/>
<polygon points="545.39,256.96 549.05,255.21 549.05,258.23 545.39,259.98" fill="#0f0fa2"/>
<polygon points="542.26,254.39 545.92,252.64 549.05,255.21 545.39,256.96" fill="#0f0fa8"/>
<polygon points="578.2,242.29 581.33,244.86 581.33,247.89 578.2,245.31" fill="#7a0000"/>
<polygon points="581.33,244.86 584.99,243.11 584.99,246.14 581.33,247.89" fill="#7a0000"/>
<polygon points="578.2,242.29 581.86,240.54 584.99,243.11 581.33,244.86" fill="#800000"/>
<polygon points="573.62,244.48 576.75,247.05 576.75,250.07 573.62,247.5" fill="#f50f00"/>
<polygon points="576.75,247.05 580.41,245.3 580.41,248.32 576.75,250.07" fill="#f50f00"/>
<polygon points="573.62,244.48 577.28,242.73 580.41,245.3 576.75,247.05" fill="#ff1000"/>
<polygon points="569.05,246.66 572.18,249.24 572.18,252.26 569.05,249.69" fill="#f59900"/>
<polygon points="572.18,249.24 575.84,247.49 575.84,250.51 572.18,252.26" fill="#f59900"/>
<polygon points="569.05,246.66 572.71,244.91 575.84,247.49 572.18,249.24" fill="#ff9f00"/>
<polygon points="564.47,248.85 567.6,251.42 567.6,254.45 564.47,251.88" fill="#c7f52e"/>
<polygon points="567.6,251.42 571.26,249.67 571.26,252.7 567.6,254.45" fill="#c7f52e"/>
<polygon points="564.47,248.85 568.13,247.1 571.26,249.67 567.6,251.42" fill="#cfff30"/>
<polygon points="559.9,251.04 563.03,253.61 563.03,256.63 559.9,254.06" fill="#3df5b8"/>
<polygon points="563.03,253.61 566.69,251.86 566.69,254.89 563.03,256.63" fill="#3df5b8"/>
<polygon points="559.9,251.04 563.56,249.29 566.69,251.86 563.03,253.61" fill="#40ffbf"/>
<polygon points="555.32,253.23 558.45,255.8 558.45,258.82 555.32,256.25" fill="#00a8f5"/>
<polygon points="558.45,255.8 562.11,254.05 562.11,257.07 558.45,258.82" fill="#00a8f5"/>
<polygon points="555.32,253.23 558.98,251.48 562.11,254.05 558.45,255.8" fill="#00afff"/>
<polygon points="550.75,255.41 553.88,257.99 553.88,261.01 550.75,258.44" fill="#001ff5"/>
<polygon points="553.88,257.99 557.54,256.24 557.54,259.26 553.88,261.01" fill="#001ff5"/>
<polygon points="550.75,255.41 554.41,253.66 557.54,256.24 553.88,257.99" fill="#0020ff"/>
<polygon points="546.17,257.6 549.3,260.17 549.3,263.2 546.17,260.63" fill="#0f0fa2"/>
<polygon points="549.3,260.17 552.96,258.42 552.96,261.45 549.3,263.2" fill="#0f0fa2"/>
<polygon points="546.17,257.6 549.83,255.85 552.96,258.42 549.3,260.17" fill="#0f0fa8"/>
<polygon points="582.11,245.5 585.24,248.07 585.24,251.1 582.11,248.53" fill="#7a0000"/>
<polygon points="585.24,248.07 588.9,246.32 588.9,249.35 585.24,251.1" fill="#7a0000"/>
<polygon points="582.11,245.5 585.77,243.75 588.9,246.32 585.24,248.07" fill="#800000"/>
<polygon points="577.54,247.69 580.67,250.26 580.67,253.28 577.54,250.72" fill="#f50f00"/>
<polygon points="580.67,250.26 584.33,248.51 584.33,251.53 580.67,253.28" fill="#f50f00"/>
<polygon points="577.54,247.69 581.2,245.94 584.33,248.51 580.67,250.26" fill="#ff1000"/>
<polygon points="572.96,249.88 576.09,252.45 576.09,255.47 572.96,252.9" fill="#f59900"/>
<polygon points="576.09,252.45 579.75,250.7 579.75,253.72 576.09,255.47" fill="#f59900"/>
<polygon points="572.96,249.88 576.62,248.13 579.75,250.7 576.09,252.45" fill="#ff9f00"/>
<polygon points="568.39,252.06 571.52,254.63 571.52,257.66 568.39,255.09" fill="#c7f52e"/>
<polygon points="571.52,254.63 575.18,252.88 575.18,255.91 571.52,257.66" fill="#c7f52e"/>
<polygon points="568.39,252.06 572.05,250.31 575.18,252.88 571.52,254.63" fill="#cfff30"/>
<polygon points="563.81,254.25 566.94,256.82 566.94,259.85 563.81,257.28" fill="#3df5b8"/>
<polygon points="566.94,256.82 570.6,255.07 570.6,258.1 566.94,259.85" fill="#3df5b8"/>
<polygon points="563.81,254.25 567.47,252.5 570.6,255.07 566.94,256.82" fill="#40ffbf"/>
<polygon points="559.24,256.44 562.37,259.01 562.37,262.03 559.24,259.46" fill="#00a8f5"/>
<polygon points="562.37,259.01 566.03,257.26 566.03,260.28 562.37,262.03" fill="#00a8f5"/>
<polygon points="559.24,256.44 562.9,254.69 566.03,257.26 562.37,259.01" fill="#00afff"/>
<polygon points="554.66,258.63 557.79,261.2 557.79,264.22 554.66,261.65" fill="#001ff5"/>
<polygon points="557.79,261.2 561.45,259.45 561.45,262.47 557.79,264.22" fill="#001ff5"/>
<polygon points="554.66,258.63 558.32,256.88 561.45,259.45 557.79,261.2" fill="#0020ff"/>
<polygon points="550.09,260.81 553.22,263.38 553.22,266.41 550.09,263.84" fill="#0f0fa2"/>
<polygon points="553.22,263.38 556.88,261.63 556.88,264.66 553.22,266.41" fill="#0f0fa2"/>
<polygon points="550.09,260.81 553.75,259.06 556.88,261.63 553.22,263.38" fill="#0f0fa8"/>
<polygon points="586.02,248.71 589.15,251.28 589.15,254.31 586.02,251.74" fill="#7a0000"/>
<polygon points="589.15,251.28 592.81,249.53 592.81,252.56 589.15,254.31" fill="#7a0000"/>
<polygon points="586.02,248.71 589.68,246.96 592.81,249.53 589.15,251.28" fill="#800000"/>
<polygon points="581.45,250.9 584.58,253.47 584.58,256.5 581.45,253.93" fill="#f50f00"/>
<polygon points="584.58,253.47 588.24,251.72 588.24,254.75 584.58,256.5" fill="#f50f00"/>
<polygon points="581.45,250.9 585.11,249.15 588.24,251.72 584.58,253.47" fill="#ff1000"/>
<polygon points="576.87,253.09 580,255.66 580,258.68 576.87,256.11" fill="#f59900"/>
<polygon points="580,255.66 583.66,253.91 583.66,256.93 580,258.68" fill="#f59900"/>
<polygon points="576.87,253.09 580.53,251.34 583.66,253.91 580,255.66" fill="#ff9f00"/>
<polygon points="572.3,255.28 575.43,257.85 575.43,260.87 572.3,258.3" fill="#c7f52e"/>
<polygon points="575.43,257.85 579.09,256.1 579.09,259.12 575.43,260.87" fill="#c7f52e"/>
<polygon points="572.3,255.28 575.96,253.53 579.09,256.1 575.43,257.85" fill="#cfff30"/>
<polygon points="567.72,257.46 570.85,260.03 570.85,263.06 567.72,260.49" fill="#3df5b8"/>
<polygon points="570.85,260.03 574.51,258.28 574.51,261.31 570.85,263.06" fill="#3df5b8"/>
<polygon points="567.72,257.46 571.38,255.71 574.51,258.28 570.85,260.03" fill="#40ffbf"/>
<polygon points="563.15,259.65 566.28,262.22 566.28,265.25 563.15,262.68" fill="#00a8f5"/>
<polygon points="566.28,262.22 569.94,260.47 569.94,263.5 566.28,265.25" fill="#00a8f5"/>
<polygon points="563.15,259.65 566.81,257.9 569.94,260.47 566.28,262.22" fill="#00afff"/>
<polygon points="558.57,261.84 561.7,264.41 561.7,267.43 558.57,264.86" fill="#001ff5"/>
<polygon points="561.7,264.41 565.36,262.66 565.36,265.68 561.7,267.43" fill="#001ff5"/>
<polygon points="558.57,261.84 562.23,260.09 565.36,262.66 561.7,264.41" fill="#0020ff"/>
<polygon points="554,264.03 557.13,266.6 557.13,269.62 554,267.05" fill="#0f0fa2"/>
<polygon points="557.13,266.6 560.79,264.85 560.79,267.87 557.13,269.62" fill="#0f0fa2"/>
<polygon points="554,264.03 557.66,262.28 560.79,264.85 557.13,266.6" fill="#0f0fa8"/>
<polygon points="589.94,251.93 593.07,254.5 593.07,257.52 589.94,254.95" fill="#7a0000"/>
<polygon points="593.07,254.5 596.73,252.75 596.73,255.77 593.07,257.52" fill="#7a0000"/>
<polygon points="589.94,251.93 593.6,250.18 596.73,252.75 593.07,254.5" fill="#800000"/>
<polygon points="585.36,254.12 588.49,256.69 588.49,259.71 585.36,257.14" fill="#f50f00"/>
<polygon points="588.49,256.69 592.15,254.94 592.15,257.96 588.49,259.71" fill="#f50f00"/>
<polygon points="585.36,254.12 589.02,252.37 592.15,254.94 588.49,256.69" fill="#ff1000"/>
<polygon points="580.79,256.3 583.92,258.87 583.92,261.9 580.79,259.33" fill="#f59900"/>
<polygon points="583.92,258.87 587.58,257.12 587.58,260.15 583.92,261.9" fill="#f59900"/>
<polygon points="580.79,256.3 584.45,254.55 587.58,257.12 583.92,258.87" fill="#ff9f00"/>
<polygon points="576.21,258.49 579.34,261.06 579.34,264.08 576.21,261.51" fill="#c7f52e"/>
<polygon points="579.34,261.06 583,259.31 583,262.33 579.34,264.08" fill="#c7f52e"/>
<polygon points="576.21,258.49 579.87,256.74 583,259.31 579.34,261.06" fill="#cfff30"/>
<polygon points="571.64,260.68 574.77,263.25 574.77,266.27 571.64,263.7" fill="#3df5b8"/>
<polygon points="574.77,263.25 578.43,261.5 578.43,264.52 574.77,266.27" fill="#3df5b8"/>
<polygon points="571.64,260.68 575.3,258.93 578.43,261.5 574.77,263.25" fill="#40ffbf"/>
<polygon points="567.06,262.87 570.19,265.44 570.19,268.46 567.06,265.89" fill="#00a8f5"/>
<polygon points="570.19,265.44 573.85,263.69 573.85,266.71 570.19,268.46" fill="#00a8f5"/>
<polygon points="567.06,262.87 570.72,261.12 573.85,263.69 570.19,265.44" fill="#00afff"/>
<polygon points="562.49,265.05 565.62,267.62 565.62,270.65 562.49,268.08" fill="#001ff5"/>
<polygon points="565.62,267.62 569.28,265.87 569.28,268.9 565.62,270.65" fill="#001ff5"/>
<polygon points="562.49,265.05 566.15,263.3 569.28,265.87 565.62,267.62" fill="#0020ff"/>
<polygon points="557.91,267.24 561.04,269.81 561.04,272.83 557.91,270.26" fill="#0f0fa2"/>
<polygon points="561.04,269.81 564.7,268.06 564.7,271.08 561.04,272.83" fill="#0f0fa2"/>
<polygon points="557.91,267.24 561.57,265.49 564.7,268.06 561.04,269.81" fill="#0f0fa8"/>
<polygon points="593.85,255.14 596.98,257.71 596.98,260.73 593.85,258.16" fill="#7a0000"/>
<polygon points="596.98,257.71 600.64,255.96 600.64,258.98 596.98,260.73" fill="#7a0000"/>
<polygon points="593.85,255.14 597.51,253.39 600.64,255.96 596.98,257.71" fill="#800000"/>
<polygon points="589.27,257.33 592.4,259.9 592.4,262.92 589.27,260.35" fill="#f50f00"/>
<polygon points="592.4,259.9 596.06,258.15 596.06,261.17 592.4,262.92" fill="#f50f00"/>
<polygon points="589.27,257.33 592.93,255.58 596.06,258.15 592.4,259.9" fill="#ff1000"/>
<polygon points="584.7,259.51 587.83,262.08 587.83,265.11 584.7,262.54" fill="#f59900"/>
<polygon points="587.83,262.08 591.49,260.33 591.49,263.36 587.83,265.11" fill="#f59900"/>
<polygon points="584.7,259.51 588.36,257.76 591.49,260.33 587.83,262.08" fill="#ff9f00"/>
<polygon points="580.12,261.7 583.25,264.27 583.25,267.3 580.12,264.73" fill="#c7f52e"/>
<polygon points="583.25,264.27 586.91,262.52 586.91,265.55 583.25,267.3" fill="#c7f52e"/>
<polygon points="580.12,261.7 583.78,259.95 586.91,262.52 583.25,264.27" fill="#cfff30"/>
<polygon points="575.55,263.89 578.68,266.46 578.68,269.48 575.55,266.91" fill="#3df5b8"/>
<polygon points="578.68,266.46 582.34,264.71 582.34,267.73 578.68,269.48" fill="#3df5b8"/>
<polygon points="575.55,263.89 579.21,262.14 582.34,264.71 578.68,266.46" fill="#40ffbf"/>
<polygon points="570.97,266.08 574.1,268.65 574.1,271.67 570.97,269.1" fill="#00a8f5"/>
<polygon points="574.1,268.65 577.76,266.9 577.76,269.92 574.1,271.67" fill="#00a8f5"/>
<polygon points="570.97,266.08 574.63,264.33 577.76,266.9 574.1,268.65" fill="#00afff"/>
<polygon points="566.4,268.26 569.53,270.83 569.53,273.86 566.4,271.29" fill="#001ff5"/>
<polygon points="569.53,270.83 573.19,269.08 573.19,272.11 569.53,273.86" fill="#001ff5"/>
<polygon points="566.4,268.26 570.06,266.51 573.19,269.08 569.53,270.83" fill="#0020ff"/>
<polygon points="561.82,270.45 564.95,273.02 564.95,276.05 561.82,273.48" fill="#0f0fa2"/>
<polygon points="564.95,273.02 568.61,271.27 568.61,274.3 564.95,276.05" fill="#0f0fa2"/>
<polygon points="561.82,270.45 565.48,268.7 568.61,271.27 564.95,273.02" fill="#0f0fa8"/>
<polygon points="597.76,258.35 600.89,260.92 600.89,263.95 597.76,261.38" fill="#7a0000"/>
<polygon points="600.89,260.92 604.55,259.17 604.55,262.2 600.89,263.95" fill="#7a0000"/>
<polygon points="597.76,258.35 601.42,256.6 604.55,259.17 600.89,260.92" fill="#800000"/>
<polygon points="593.19,260.54 596.32,263.11 596.32,266.13 593.19,263.56" fill="#f50f00"/>
<polygon points="596.32,263.11 599.98,261.36 599.98,264.38 596.32,266.13" fill="#f50f00"/>
<polygon points="593.19,260.54 596.85,258.79 599.98,261.36 596.32,263.11" fill="#ff1000"/>
<polygon points="588.61,262.73 591.74,265.3 591.74,268.32 588.61,265.75" fill="#f59900"/>
<polygon points="591.74,265.3 595.4,263.55 595.4,266.57 591.74,268.32" fill="#f59900"/>
<polygon points="588.61,262.73 592.27,260.98 595.4,263.55 591.74,265.3" fill="#ff9f00"/>
<polygon points="584.04,264.91 587.17,267.49 587.17,270.51 584.04,267.94" fill="#c7f52e"/>
<polygon points="587.17,267.49 590.83,265.74 590.83,268.76 587.17,270.51" fill="#c7f52e"/>
<polygon points="584.04,264.91 587.7,263.16 590.83,265.74 587.17,267.49" fill="#cfff30"/>
<polygon points="579.46,267.1 582.59,269.67 582.59,272.7 579.46,270.13" fill="#3df5b8"/>
<polygon points="582.59,269.67 586.25,267.92 586.25,270.95 582.59,272.7" fill="#3df5b8"/>
<polygon points="579.46,267.1 583.12,265.35 586.25,267.92 582.59,269.67" fill="#40ffbf"/>
<polygon points="574.89,269.29 578.02,271.86 578.02,274.88 574.89,272.31" fill="#00a8f5"/>
<polygon points="578.02,271.86 581.68,270.11 581.68,273.13 578.02,274.88" fill="#00a8f5"/>
<polygon points="574.89,269.29 578.55,267.54 581.68,270.11 578.02,271.86" fill="#00afff"/>
<polygon points="570.31,271.48 573.44,274.05 573.44,277.07 570.31,274.5" fill="#001ff5"/>
<polygon points="573.44,274.05 577.1,272.3 577.1,275.32 573.44,277.07" fill="#001ff5"/>
<polygon points="570.31,271.48 573.97,269.73 577.1,272.3 573.44,274.05" fill="#0020ff"/>
<polygon points="565.74,273.66 568.87,276.24 568.87,279.26 565.74,276.69" fill="#0f0fa2"/>
<polygon points="568.87,276.24 572.53,274.49 572.53,277.51 568.87,279.26" fill="#0f0fa2"/>
<polygon points="565.74,273.66 569.4,271.91 572.53,274.49 568.87,276.24" fill="#0f0fa8"/>
</g>
<path d="M537.5 242L568.8 267.7M568.8 267.7L605.4 250.2M568.8 291.9L568.8 267.7" fill="none" stroke="#222" stroke-opacity="0.8" stroke-width="0.48"/>
<text x="454.5" y="240.4" font-size="11.5" text-anchor="start" font-family="'Liberation Serif',serif" >Re[ρ]</text>
<text x="449" y="267.9" font-size="10.8" text-anchor="end" font-family="'Liberation Sans',sans-serif"  stroke="#000" stroke-width="0.1">0.5</text>
<text x="449" y="289.5" font-size="10.8" text-anchor="end" font-family="'Liberation Sans',sans-serif"  stroke="#000" stroke-width="0.1">0</text>
<text x="449" y="311.1" font-size="10.8" text-anchor="end" font-family="'Liberation Sans',sans-serif"  stroke="#000" stroke-width="0.1">-0.5</text>
<text x="450.9" y="326.15" font-size="9.9" text-anchor="end" font-family="'Liberation Sans',sans-serif"  stroke="#000" stroke-width="0.1">-7</text>
<text x="457.87" y="331.85" font-size="9.9" text-anchor="end" font-family="'Liberation Sans',sans-serif"  stroke="#000" stroke-width="0.1">-5</text>
<text x="464.84" y="337.55" font-size="9.9" text-anchor="end" font-family="'Liberation Sans',sans-serif"  stroke="#000" stroke-width="0.1">-3</text>
<text x="471.81" y="343.25" font-size="9.9" text-anchor="end" font-family="'Liberation Sans',sans-serif"  stroke="#000" stroke-width="0.1">-1</text>
<text x="478.78" y="348.95" font-size="9.9" text-anchor="end" font-family="'Liberation Sans',sans-serif"  stroke="#000" stroke-width="0.1">1</text>
<text x="485.75" y="354.65" font-size="9.9" text-anchor="end" font-family="'Liberation Sans',sans-serif"  stroke="#000" stroke-width="0.1">3</text>
<text x="492.72" y="360.35" font-size="9.9" text-anchor="end" font-family="'Liberation Sans',sans-serif"  stroke="#000" stroke-width="0.1">5</text>
<text x="499.69" y="366.05" font-size="9.9" text-anchor="end" font-family="'Liberation Sans',sans-serif"  stroke="#000" stroke-width="0.1">7</text>
<text x="514.9" y="368.75" font-size="9.9" text-anchor="start" font-family="'Liberation Sans',sans-serif"  stroke="#000" stroke-width="0.1">-7</text>
<text x="522.85" y="364.82" font-size="9.9" text-anchor="start" font-family="'Liberation Sans',sans-serif"  stroke="#000" stroke-width="0.1">-5</text>
<text x="530.8" y="360.89" font-size="9.9" text-anchor="start" font-family="'Liberation Sans',sans-serif"  stroke="#000" stroke-width="0.1">-3</text>
<text x="538.75" y="356.96" font-size="9.9" text-anchor="start" font-family="'Liberation Sans',sans-serif"  stroke="#000" stroke-width="0.1">-1</text>
<text x="546.7" y="353.03" font-size="9.9" text-anchor="start" font-family="'Liberation Sans',sans-serif"  stroke="#000" stroke-width="0.1">1</text>
<text x="554.65" y="349.1" font-size="9.9" text-anchor="start" font-family="'Liberation Sans',sans-serif"  stroke="#000" stroke-width="0.1">3</text>
<text x="562.6" y="345.17" font-size="9.9" text-anchor="start" font-family="'Liberation Sans',sans-serif"  stroke="#000" stroke-width="0.1">5</text>
<text x="570.55" y="341.24" font-size="9.9" text-anchor="start" font-family="'Liberation Sans',sans-serif"  stroke="#000" stroke-width="0.1">7</text>
<text x="439.2" y="352" font-size="10" text-anchor="middle" font-family="'Liberation Sans',sans-serif" >⟨<tspan font-style="italic">l</tspan>/2|</text>
<text x="563.9" y="366.1" font-size="10" text-anchor="middle" font-family="'Liberation Sans',sans-serif" >|<tspan font-style="italic">l</tspan>/2⟩</text>
<polygon points="628.5,309 684.7,356.8 748.4,325.7 748.4,282.6 692.2,234.8 628.5,265.9" fill="#fff" stroke="none"/>
<path d="M632.48 307.06L632.48 263.96M632.48 307.06L688.68 354.86M640.44 303.17L640.44 260.07M640.44 303.17L696.64 350.97M648.41 299.28L648.41 256.18M648.41 299.28L704.61 347.08M656.37 295.39L656.37 252.29M656.37 295.39L712.57 343.19M664.33 291.51L664.33 248.41M664.33 291.51L720.53 339.31M672.29 287.62L672.29 244.52M672.29 287.62L728.49 335.42M680.26 283.73L680.26 240.63M680.26 283.73L736.46 331.53M688.22 279.84L688.22 236.74M688.22 279.84L744.42 327.64M695.71 280.89L695.71 237.79M695.71 280.89L632.01 311.99M702.74 286.86L702.74 243.76M702.74 286.86L639.04 317.96M709.76 292.84L709.76 249.74M709.76 292.84L646.06 323.94M716.79 298.81L716.79 255.71M716.79 298.81L653.09 329.91M723.81 304.79L723.81 261.69M723.81 304.79L660.11 335.89M730.84 310.76L730.84 267.66M730.84 310.76L667.14 341.86M737.86 316.74L737.86 273.64M737.86 316.74L674.16 347.84M744.89 322.71L744.89 279.61M744.89 322.71L681.19 353.81M628.5 309L692.2 277.9L748.4 325.7M628.5 287.45L692.2 256.35L748.4 304.15M628.5 265.9L692.2 234.8L748.4 282.6" fill="none" stroke="#000" stroke-width="0.6" stroke-dasharray="0.7 2.7"/>
<path d="M628.5 265.9L692.2 234.8M692.2 234.8L748.4 282.6M628.5 309L692.2 277.9M692.2 277.9L748.4 325.7" fill="none" stroke="#4a4a4a" stroke-width="0.57"/>
<path d="M628.5 309L684.7 356.8M684.7 356.8L748.4 325.7" fill="none" stroke="#222" stroke-width="0.66"/>
<path d="M628.5 309L628.5 265.9" fill="none" stroke="#111" stroke-width="0.7"/>
<path d="M748.4 325.7L748.4 282.6" fill="none" stroke="#666" stroke-width="0.7"/>
<path d="M692.2 277.9L692.2 234.8" fill="none" stroke="#555" stroke-width="0.8"/>
<path d="M632.01 311.99l-1.98 0.97M639.04 317.96l-1.98 0.97M646.06 323.94l-1.98 0.97M653.09 329.91l-1.98 0.97M660.11 335.89l-1.98 0.97M667.14 341.86l-1.98 0.97M674.16 347.84l-1.98 0.97M681.19 353.81l-1.98 0.97M688.68 354.86l1.68 1.43M696.64 350.97l1.68 1.43M704.61 347.08l1.68 1.43M712.57 343.19l1.68 1.43M720.53 339.31l1.68 1.43M728.49 335.42l1.68 1.43M736.46 331.53l1.68 1.43M744.42 327.64l1.68 1.43M628.5 309l-1.58 0.77M628.5 287.45l-1.58 0.77M628.5 265.9l-1.58 0.77" fill="none" stroke="#333" stroke-width="0.5"/>
<g stroke="#000" stroke-opacity="0.85" stroke-width="0.5" stroke-linejoin="round">
<polygon points="685.74,256.57 691.36,261.35 691.36,265.23 685.74,260.45" fill="#7a0000"/>
<polygon points="691.36,261.35 697.73,258.24 697.73,262.12 691.36,265.23" fill="#7a0000"/>
<polygon points="685.74,256.57 692.11,253.46 697.73,258.24 691.36,261.35" fill="#800000"/>
<polygon points="677.77,262.18 683.39,266.96 683.39,269.11 677.77,264.33" fill="#f50f00"/>
<polygon points="683.39,266.96 689.76,263.85 689.76,266 683.39,269.11" fill="#f50f00"/>
<polygon points="677.77,262.18 684.14,259.07 689.76,263.85 683.39,266.96" fill="#ff1000"/>
<polygon points="669.81,263.91 675.43,268.69 675.43,273 669.81,268.22" fill="#f59900"/>
<polygon points="675.43,268.69 681.8,265.58 681.8,269.89 675.43,273" fill="#f59900"/>
<polygon points="669.81,263.91 676.18,260.8 681.8,265.58 675.43,268.69" fill="#ff9f00"/>
<polygon points="661.85,269.52 667.47,274.3 667.47,276.89 661.85,272.11" fill="#c7f52e"/>
<polygon points="667.47,274.3 673.84,271.19 673.84,273.78 667.47,276.89" fill="#c7f52e"/>
<polygon points="661.85,269.52 668.22,266.41 673.84,271.19 667.47,274.3" fill="#cfff30"/>
<polygon points="653.89,271.69 659.51,276.47 659.51,280.78 653.89,276" fill="#3df5b8"/>
<polygon points="659.51,276.47 665.88,273.36 665.88,277.67 659.51,280.78" fill="#3df5b8"/>
<polygon points="653.89,271.69 660.26,268.58 665.88,273.36 659.51,276.47" fill="#40ffbf"/>
<polygon points="645.92,278.16 651.54,282.94 651.54,284.66 645.92,279.88" fill="#00a8f5"/>
<polygon points="651.54,282.94 657.91,279.83 657.91,281.55 651.54,284.66" fill="#00a8f5"/>
<polygon points="645.92,278.16 652.29,275.05 657.91,279.83 651.54,282.94" fill="#00afff"/>
<polygon points="637.96,282.48 643.58,287.26 643.58,288.55 637.96,283.77" fill="#001ff5"/>
<polygon points="643.58,287.26 649.95,284.15 649.95,285.44 643.58,288.55" fill="#001ff5"/>
<polygon points="637.96,282.48 644.33,279.37 649.95,284.15 643.58,287.26" fill="#0020ff"/>
<polygon points="630,287.66 636.37,284.55 641.99,289.33 635.62,292.44" fill="#0f0fa8"/>
<polygon points="692.76,265.13 698.38,269.91 698.38,271.2 692.76,266.42" fill="#7a0000"/>
<polygon points="698.38,269.91 704.75,266.8 704.75,268.09 698.38,271.2" fill="#7a0000"/>
<polygon points="692.76,265.13 699.13,262.02 704.75,266.8 698.38,269.91" fill="#800000"/>
<polygon points="684.8,269.02 690.42,273.8 690.42,275.09 684.8,270.31" fill="#f50f00"/>
<polygon points="690.42,273.8 696.79,270.69 696.79,271.98 690.42,275.09" fill="#f50f00"/>
<polygon points="684.8,269.02 691.17,265.91 696.79,270.69 690.42,273.8" fill="#ff1000"/>
<polygon points="676.84,271.61 682.46,276.39 682.46,278.98 676.84,274.2" fill="#f59900"/>
<polygon points="682.46,276.39 688.83,273.28 688.83,275.87 682.46,278.98" fill="#f59900"/>
<polygon points="676.84,271.61 683.21,268.5 688.83,273.28 682.46,276.39" fill="#ff9f00"/>
<polygon points="668.87,276.79 674.49,281.57 674.49,282.86 668.87,278.08" fill="#c7f52e"/>
<polygon points="674.49,281.57 680.86,278.46 680.86,279.75 674.49,282.86" fill="#c7f52e"/>
<polygon points="668.87,276.79 675.24,273.68 680.86,278.46 674.49,281.57" fill="#cfff30"/>
<polygon points="660.91,280.68 666.53,285.46 666.53,286.75 660.91,281.97" fill="#3df5b8"/>
<polygon points="666.53,285.46 672.9,282.35 672.9,283.64 666.53,286.75" fill="#3df5b8"/>
<polygon points="660.91,280.68 667.28,277.57 672.9,282.35 666.53,285.46" fill="#40ffbf"/>
<polygon points="652.95,285 658.57,289.78 658.57,290.64 652.95,285.86" fill="#00a8f5"/>
<polygon points="658.57,289.78 664.94,286.67 664.94,287.53 658.57,290.64" fill="#00a8f5"/>
<polygon points="652.95,285 659.32,281.89 664.94,286.67 658.57,289.78" fill="#00afff"/>
<polygon points="644.99,289.75 651.36,286.64 656.98,291.42 650.61,294.53" fill="#0020ff"/>
<polygon points="637.02,293.63 642.64,298.41 642.64,299.06 637.02,294.28" fill="#0f0fa2"/>
<polygon points="642.64,298.41 649.01,295.3 649.01,295.95 642.64,299.06" fill="#0f0fa2"/>
<polygon points="637.02,293.63 643.39,290.52 649.01,295.3 642.64,298.41" fill="#0f0fa8"/>
<polygon points="699.79,271.1 705.41,275.88 705.41,277.18 699.79,272.4" fill="#7a0000"/>
<polygon points="705.41,275.88 711.78,272.77 711.78,274.07 705.41,277.18" fill="#7a0000"/>
<polygon points="699.79,271.1 706.16,267.99 711.78,272.77 705.41,275.88" fill="#800000"/>
<polygon points="691.82,275.42 697.44,280.2 697.44,281.06 691.82,276.28" fill="#f50f00"/>
<polygon points="697.44,280.2 703.81,277.09 703.81,277.95 697.44,281.06" fill="#f50f00"/>
<polygon points="691.82,275.42 698.19,272.31 703.81,277.09 697.44,280.2" fill="#ff1000"/>
<polygon points="683.86,278.45 689.48,283.23 689.48,284.95 683.86,280.17" fill="#f59900"/>
<polygon points="689.48,283.23 695.85,280.12 695.85,281.84 689.48,284.95" fill="#f59900"/>
<polygon points="683.86,278.45 690.23,275.34 695.85,280.12 689.48,283.23" fill="#ff9f00"/>
<polygon points="675.9,283.2 681.52,287.98 681.52,288.84 675.9,284.06" fill="#c7f52e"/>
<polygon points="681.52,287.98 687.89,284.87 687.89,285.73 681.52,288.84" fill="#c7f52e"/>
<polygon points="675.9,283.2 682.27,280.09 687.89,284.87 681.52,287.98" fill="#cfff30"/>
<polygon points="667.94,287.08 673.56,291.86 673.56,292.73 667.94,287.95" fill="#3df5b8"/>
<polygon points="673.56,291.86 679.93,288.75 679.93,289.62 673.56,292.73" fill="#3df5b8"/>
<polygon points="667.94,287.08 674.31,283.97 679.93,288.75 673.56,291.86" fill="#40ffbf"/>
<polygon points="659.97,291.83 666.34,288.72 671.96,293.5 665.59,296.61" fill="#00afff"/>
<polygon points="652.01,295.72 657.63,300.5 657.63,300.72 652.01,295.94" fill="#001ff5"/>
<polygon points="657.63,300.5 664,297.39 664,297.61 657.63,300.72" fill="#001ff5"/>
<polygon points="652.01,295.72 658.38,292.61 664,297.39 657.63,300.5" fill="#0020ff"/>
<polygon points="644.05,299.61 649.67,304.39 649.67,306.54 644.05,301.76" fill="#0f0fa2"/>
<polygon points="649.67,304.39 656.04,301.28 656.04,303.43 649.67,306.54" fill="#0f0fa2"/>
<polygon points="644.05,299.61 650.42,296.5 656.04,301.28 649.67,304.39" fill="#0f0fa8"/>
<polygon points="706.81,277.08 712.43,281.86 712.43,283.15 706.81,278.37" fill="#7a0000"/>
<polygon points="712.43,281.86 718.8,278.75 718.8,280.04 712.43,283.15" fill="#7a0000"/>
<polygon points="706.81,277.08 713.18,273.97 718.8,278.75 712.43,281.86" fill="#800000"/>
<polygon points="698.85,280.53 704.47,285.31 704.47,287.04 698.85,282.26" fill="#f50f00"/>
<polygon points="704.47,285.31 710.84,282.2 710.84,283.93 704.47,287.04" fill="#f50f00"/>
<polygon points="698.85,280.53 705.22,277.42 710.84,282.2 704.47,285.31" fill="#ff1000"/>
<polygon points="690.89,285.28 696.51,290.06 696.51,290.93 690.89,286.15" fill="#f59900"/>
<polygon points="696.51,290.06 702.88,286.95 702.88,287.82 696.51,290.93" fill="#f59900"/>
<polygon points="690.89,285.28 697.26,282.17 702.88,286.95 696.51,290.06" fill="#ff9f00"/>
<polygon points="682.92,290.03 689.29,286.92 694.91,291.7 688.54,294.81" fill="#cfff30"/>
<polygon points="674.96,292.63 680.58,297.41 680.58,298.7 674.96,293.92" fill="#3df5b8"/>
<polygon points="680.58,297.41 686.95,294.3 686.95,295.59 680.58,298.7" fill="#3df5b8"/>
<polygon points="674.96,292.63 681.33,289.52 686.95,294.3 680.58,297.41" fill="#40ffbf"/>
<polygon points="667,297.81 673.37,294.7 678.99,299.48 672.62,302.59" fill="#00afff"/>
<polygon points="659.04,301.7 664.66,306.48 664.66,307.77 659.04,302.99" fill="#001ff5"/>
<polygon points="664.66,306.48 671.03,303.37 671.03,304.66 664.66,307.77" fill="#001ff5"/>
<polygon points="659.04,301.7 665.41,298.59 671.03,303.37 664.66,306.48" fill="#0020ff"/>
<polygon points="651.07,305.58 656.69,310.36 656.69,312.95 651.07,308.17" fill="#0f0fa2"/>
<polygon points="656.69,310.36 663.06,307.25 663.06,309.84 656.69,312.95" fill="#0f0fa2"/>
<polygon points="651.07,305.58 657.44,302.47 663.06,307.25 656.69,310.36" fill="#0f0fa8"/>
<polygon points="713.84,282.19 719.46,286.97 719.46,289.13 713.84,284.35" fill="#7a0000"/>
<polygon points="719.46,286.97 725.83,283.86 725.83,286.02 719.46,289.13" fill="#7a0000"/>
<polygon points="713.84,282.19 720.21,279.08 725.83,283.86 719.46,286.97" fill="#800000"/>
<polygon points="705.87,286.51 711.49,291.29 711.49,293.01 705.87,288.23" fill="#f50f00"/>
<polygon points="711.49,291.29 717.86,288.18 717.86,289.9 711.49,293.01" fill="#f50f00"/>
<polygon points="705.87,286.51 712.24,283.4 717.86,288.18 711.49,291.29" fill="#ff1000"/>
<polygon points="697.91,291.26 703.53,296.04 703.53,296.9 697.91,292.12" fill="#f59900"/>
<polygon points="703.53,296.04 709.9,292.93 709.9,293.79 703.53,296.9" fill="#f59900"/>
<polygon points="697.91,291.26 704.28,288.15 709.9,292.93 703.53,296.04" fill="#ff9f00"/>
<polygon points="689.95,295.15 695.57,299.93 695.57,300.79 689.95,296.01" fill="#c7f52e"/>
<polygon points="695.57,299.93 701.94,296.82 701.94,297.68 695.57,300.79" fill="#c7f52e"/>
<polygon points="689.95,295.15 696.32,292.04 701.94,296.82 695.57,299.93" fill="#cfff30"/>
<polygon points="681.99,299.9 688.36,296.79 693.98,301.57 687.61,304.68" fill="#40ffbf"/>
<polygon points="674.02,302.49 679.64,307.27 679.64,308.56 674.02,303.78" fill="#00a8f5"/>
<polygon points="679.64,307.27 686.01,304.16 686.01,305.45 679.64,308.56" fill="#00a8f5"/>
<polygon points="674.02,302.49 680.39,299.38 686.01,304.16 679.64,307.27" fill="#00afff"/>
<polygon points="666.06,307.67 671.68,312.45 671.68,314.61 666.06,309.83" fill="#001ff5"/>
<polygon points="671.68,312.45 678.05,309.34 678.05,311.5 671.68,314.61" fill="#001ff5"/>
<polygon points="666.06,307.67 672.43,304.56 678.05,309.34 671.68,312.45" fill="#0020ff"/>
<polygon points="658.1,311.56 663.72,316.34 663.72,319.36 658.1,314.58" fill="#0f0fa2"/>
<polygon points="663.72,316.34 670.09,313.23 670.09,316.25 663.72,319.36" fill="#0f0fa2"/>
<polygon points="658.1,311.56 664.47,308.45 670.09,313.23 663.72,316.34" fill="#0f0fa8"/>
<polygon points="720.86,289.46 726.48,294.24 726.48,295.1 720.86,290.32" fill="#7a0000"/>
<polygon points="726.48,294.24 732.85,291.13 732.85,291.99 726.48,295.1" fill="#7a0000"/>
<polygon points="720.86,289.46 727.23,286.35 732.85,291.13 726.48,294.24" fill="#800000"/>
<polygon points="712.9,293.35 718.52,298.13 718.52,298.99 712.9,294.21" fill="#f50f00"/>
<polygon points="718.52,298.13 724.89,295.02 724.89,295.88 718.52,298.99" fill="#f50f00"/>
<polygon points="712.9,293.35 719.27,290.24 724.89,295.02 718.52,298.13" fill="#ff1000"/>
<polygon points="704.94,296.8 710.56,301.58 710.56,302.88 704.94,298.1" fill="#f59900"/>
<polygon points="710.56,301.58 716.93,298.47 716.93,299.77 710.56,302.88" fill="#f59900"/>
<polygon points="704.94,296.8 711.31,293.69 716.93,298.47 710.56,301.58" fill="#ff9f00"/>
<polygon points="696.97,300.69 702.59,305.47 702.59,306.76 696.97,301.98" fill="#c7f52e"/>
<polygon points="702.59,305.47 708.96,302.36 708.96,303.65 702.59,306.76" fill="#c7f52e"/>
<polygon points="696.97,300.69 703.34,297.58 708.96,302.36 702.59,305.47" fill="#cfff30"/>
<polygon points="689.01,304.58 694.63,309.36 694.63,310.65 689.01,305.87" fill="#3df5b8"/>
<polygon points="694.63,309.36 701,306.25 701,307.54 694.63,310.65" fill="#3df5b8"/>
<polygon points="689.01,304.58 695.38,301.47 701,306.25 694.63,309.36" fill="#40ffbf"/>
<polygon points="681.05,309.76 686.67,314.54 686.67,315.83 681.05,311.05" fill="#00a8f5"/>
<polygon points="686.67,314.54 693.04,311.43 693.04,312.72 686.67,315.83" fill="#00a8f5"/>
<polygon points="681.05,309.76 687.42,306.65 693.04,311.43 686.67,314.54" fill="#00afff"/>
<polygon points="673.09,313.65 678.71,318.43 678.71,321.01 673.09,316.23" fill="#001ff5"/>
<polygon points="678.71,318.43 685.08,315.32 685.08,317.9 678.71,321.01" fill="#001ff5"/>
<polygon points="673.09,313.65 679.46,310.54 685.08,315.32 678.71,318.43" fill="#0020ff"/>
<polygon points="665.12,317.53 670.74,322.31 670.74,325.76 665.12,320.98" fill="#0f0fa2"/>
<polygon points="670.74,322.31 677.11,319.2 677.11,322.65 670.74,325.76" fill="#0f0fa2"/>
<polygon points="665.12,317.53 671.49,314.42 677.11,319.2 670.74,322.31" fill="#0f0fa8"/>
<polygon points="727.89,295.43 733.51,300.21 733.51,301.08 727.89,296.3" fill="#7a0000"/>
<polygon points="733.51,300.21 739.88,297.1 739.88,297.97 733.51,301.08" fill="#7a0000"/>
<polygon points="727.89,295.43 734.26,292.32 739.88,297.1 733.51,300.21" fill="#800000"/>
<polygon points="719.92,299.32 725.54,304.1 725.54,304.96 719.92,300.18" fill="#f50f00"/>
<polygon points="725.54,304.1 731.91,300.99 731.91,301.85 725.54,304.96" fill="#f50f00"/>
<polygon points="719.92,299.32 726.29,296.21 731.91,300.99 725.54,304.1" fill="#ff1000"/>
<polygon points="711.96,302.35 717.58,307.13 717.58,308.85 711.96,304.07" fill="#f59900"/>
<polygon points="717.58,307.13 723.95,304.02 723.95,305.74 717.58,308.85" fill="#f59900"/>
<polygon points="711.96,302.35 718.33,299.24 723.95,304.02 717.58,307.13" fill="#ff9f00"/>
<polygon points="704,307.1 709.62,311.88 709.62,312.74 704,307.96" fill="#c7f52e"/>
<polygon points="709.62,311.88 715.99,308.77 715.99,309.63 709.62,312.74" fill="#c7f52e"/>
<polygon points="704,307.1 710.37,303.99 715.99,308.77 709.62,311.88" fill="#cfff30"/>
<polygon points="696.04,311.85 701.66,316.63 701.66,317.49 696.04,312.71" fill="#3df5b8"/>
<polygon points="701.66,316.63 708.03,313.52 708.03,314.38 701.66,317.49" fill="#3df5b8"/>
<polygon points="696.04,311.85 702.41,308.74 708.03,313.52 701.66,316.63" fill="#40ffbf"/>
<polygon points="688.07,315.73 693.69,320.51 693.69,322.24 688.07,317.46" fill="#00a8f5"/>
<polygon points="693.69,320.51 700.06,317.4 700.06,319.13 693.69,322.24" fill="#00a8f5"/>
<polygon points="688.07,315.73 694.44,312.62 700.06,317.4 693.69,320.51" fill="#00afff"/>
<polygon points="680.11,319.62 685.73,324.4 685.73,327.42 680.11,322.64" fill="#001ff5"/>
<polygon points="685.73,324.4 692.1,321.29 692.1,324.31 685.73,327.42" fill="#001ff5"/>
<polygon points="680.11,319.62 686.48,316.51 692.1,321.29 685.73,324.4" fill="#0020ff"/>
<polygon points="672.15,323.51 677.77,328.29 677.77,331.74 672.15,326.96" fill="#0f0fa2"/>
<polygon points="677.77,328.29 684.14,325.18 684.14,328.63 677.77,331.74" fill="#0f0fa2"/>
<polygon points="672.15,323.51 678.52,320.4 684.14,325.18 677.77,328.29" fill="#0f0fa8"/>
<polygon points="734.91,301.41 740.53,306.19 740.53,307.05 734.91,302.27" fill="#7a0000"/>
<polygon points="740.53,306.19 746.9,303.08 746.9,303.94 740.53,307.05" fill="#7a0000"/>
<polygon points="734.91,301.41 741.28,298.3 746.9,303.08 740.53,306.19" fill="#800000"/>
<polygon points="726.95,304.87 732.57,309.65 732.57,310.94 726.95,306.16" fill="#f50f00"/>
<polygon points="732.57,309.65 738.94,306.54 738.94,307.83 732.57,310.94" fill="#f50f00"/>
<polygon points="726.95,304.87 733.32,301.76 738.94,306.54 732.57,309.65" fill="#ff1000"/>
<polygon points="718.99,309.62 724.61,314.4 724.61,314.83 718.99,310.05" fill="#f59900"/>
<polygon points="724.61,314.4 730.98,311.29 730.98,311.72 724.61,314.83" fill="#f59900"/>
<polygon points="718.99,309.62 725.36,306.51 730.98,311.29 724.61,314.4" fill="#ff9f00"/>
<polygon points="711.02,313.5 716.64,318.28 716.64,318.71 711.02,313.93" fill="#c7f52e"/>
<polygon points="716.64,318.28 723.01,315.17 723.01,315.6 716.64,318.71" fill="#c7f52e"/>
<polygon points="711.02,313.5 717.39,310.39 723.01,315.17 716.64,318.28" fill="#cfff30"/>
<polygon points="703.06,317.82 709.43,314.71 715.05,319.49 708.68,322.6" fill="#40ffbf"/>
<polygon points="695.1,321.71 700.72,326.49 700.72,327.78 695.1,323" fill="#00a8f5"/>
<polygon points="700.72,326.49 707.09,323.38 707.09,324.67 700.72,327.78" fill="#00a8f5"/>
<polygon points="695.1,321.71 701.47,318.6 707.09,323.38 700.72,326.49" fill="#00afff"/>
<polygon points="687.14,325.6 692.76,330.38 692.76,333.39 687.14,328.61" fill="#001ff5"/>
<polygon points="692.76,330.38 699.13,327.27 699.13,330.28 692.76,333.39" fill="#001ff5"/>
<polygon points="687.14,325.6 693.51,322.49 699.13,327.27 692.76,330.38" fill="#0020ff"/>
<polygon points="679.17,329.48 684.79,334.26 684.79,337.71 679.17,332.93" fill="#0f0fa2"/>
<polygon points="684.79,334.26 691.16,331.15 691.16,334.6 684.79,337.71" fill="#0f0fa2"/>
<polygon points="679.17,329.48 685.54,326.37 691.16,331.15 684.79,334.26" fill="#0f0fa8"/>
</g>
<path d="M628.5 265.9L684.7 313.7M684.7 313.7L748.4 282.6M684.7 356.8L684.7 313.7" fill="none" stroke="#222" stroke-opacity="0.8" stroke-width="0.48"/>
<polygon points="713.4,265.6 744.6,292.7 780.6,275.7 780.6,251.7 749.4,224.6 713.4,241.6" fill="#fff" stroke="none"/>
<path d="M715.65 264.54L715.65 240.54M715.65 264.54L746.85 291.64M720.15 262.41L720.15 238.41M720.15 262.41L751.35 289.51M724.65 260.29L724.65 236.29M724.65 260.29L755.85 287.39M729.15 258.16L729.15 234.16M729.15 258.16L760.35 285.26M733.65 256.04L733.65 232.04M733.65 256.04L764.85 283.14M738.15 253.91L738.15 229.91M738.15 253.91L769.35 281.01M742.65 251.79L742.65 227.79M742.65 251.79L773.85 278.89M747.15 249.66L747.15 225.66M747.15 249.66L778.35 276.76M751.35 250.29L751.35 226.29M751.35 250.29L715.35 267.29M755.25 253.68L755.25 229.68M755.25 253.68L719.25 270.68M759.15 257.07L759.15 233.07M759.15 257.07L723.15 274.07M763.05 260.46L763.05 236.46M763.05 260.46L727.05 277.46M766.95 263.84L766.95 239.84M766.95 263.84L730.95 280.84M770.85 267.23L770.85 243.23M770.85 267.23L734.85 284.23M774.75 270.62L774.75 246.62M774.75 270.62L738.75 287.62M778.65 274.01L778.65 250.01M778.65 274.01L742.65 291.01M713.4 265.6L749.4 248.6L780.6 275.7M713.4 253.6L749.4 236.6L780.6 263.7M713.4 241.6L749.4 224.6L780.6 251.7" fill="none" stroke="#000" stroke-width="0.6" stroke-dasharray="0.6 2.2"/>
<path d="M713.4 241.6L749.4 224.6M749.4 224.6L780.6 251.7M713.4 265.6L749.4 248.6M749.4 248.6L780.6 275.7" fill="none" stroke="#4a4a4a" stroke-width="0.57"/>
<path d="M713.4 265.6L744.6 292.7M744.6 292.7L780.6 275.7" fill="none" stroke="#222" stroke-width="0.66"/>
<path d="M713.4 265.6L713.4 241.6" fill="none" stroke="#666" stroke-width="0.7"/>
<path d="M780.6 275.7L780.6 251.7" fill="none" stroke="#666" stroke-width="0.6"/>
<path d="M749.4 248.6L749.4 224.6" fill="none" stroke="#888" stroke-width="0.7"/>
<g stroke="#000" stroke-opacity="0.85" stroke-width="0.33" stroke-linejoin="round">
<polygon points="745.99,238.82 748.88,241.32 748.88,241.4 745.99,238.89" fill="#7a0000"/>
<polygon points="748.88,241.32 752.21,239.75 752.21,239.82 748.88,241.4" fill="#7a0000"/>
<polygon points="745.99,238.82 749.32,237.24 752.21,239.75 748.88,241.32" fill="#800000"/>
<polygon points="741.49,240.94 744.38,243.45 744.38,243.52 741.49,241.01" fill="#f50f00"/>
<polygon points="744.38,243.45 747.71,241.88 747.71,241.95 744.38,243.52" fill="#f50f00"/>
<polygon points="741.49,240.94 744.82,239.37 747.71,241.88 744.38,243.45" fill="#ff1000"/>
<polygon points="736.99,243.07 739.88,245.57 739.88,245.65 736.99,243.14" fill="#f59900"/>
<polygon points="739.88,245.57 743.21,244 743.21,244.07 739.88,245.65" fill="#f59900"/>
<polygon points="736.99,243.07 740.32,241.49 743.21,244 739.88,245.57" fill="#ff9f00"/>
<polygon points="732.49,245.19 735.38,247.7 735.38,247.77 732.49,245.26" fill="#c7f52e"/>
<polygon points="735.38,247.7 738.71,246.13 738.71,246.2 735.38,247.77" fill="#c7f52e"/>
<polygon points="732.49,245.19 735.82,243.62 738.71,246.13 735.38,247.7" fill="#cfff30"/>
<polygon points="727.99,247.32 730.88,249.82 730.88,249.9 727.99,247.39" fill="#3df5b8"/>
<polygon points="730.88,249.82 734.21,248.25 734.21,248.32 730.88,249.9" fill="#3df5b8"/>
<polygon points="727.99,247.32 731.32,245.74 734.21,248.25 730.88,249.82" fill="#40ffbf"/>
<polygon points="723.49,249.44 726.38,251.95 726.38,252.02 723.49,249.51" fill="#00a8f5"/>
<polygon points="726.38,251.95 729.71,250.38 729.71,250.45 726.38,252.02" fill="#00a8f5"/>
<polygon points="723.49,249.44 726.82,247.87 729.71,250.38 726.38,251.95" fill="#00afff"/>
<polygon points="718.99,251.57 721.88,254.07 721.88,254.15 718.99,251.64" fill="#001ff5"/>
<polygon points="721.88,254.07 725.21,252.5 725.21,252.57 721.88,254.15" fill="#001ff5"/>
<polygon points="718.99,251.57 722.32,249.99 725.21,252.5 721.88,254.07" fill="#0020ff"/>
<polygon points="714.49,253.69 717.38,256.2 717.38,256.27 714.49,253.76" fill="#0f0fa2"/>
<polygon points="717.38,256.2 720.71,254.63 720.71,254.7 717.38,256.27" fill="#0f0fa2"/>
<polygon points="714.49,253.69 717.82,252.12 720.71,254.63 717.38,256.2" fill="#0f0fa8"/>
<polygon points="749.89,242.2 752.78,244.71 752.78,244.78 749.89,242.28" fill="#7a0000"/>
<polygon points="752.78,244.71 756.11,243.14 756.11,243.21 752.78,244.78" fill="#7a0000"/>
<polygon points="749.89,242.2 753.22,240.63 756.11,243.14 752.78,244.71" fill="#800000"/>
<polygon points="745.39,244.33 748.28,246.84 748.28,246.91 745.39,244.4" fill="#f50f00"/>
<polygon points="748.28,246.84 751.61,245.26 751.61,245.34 748.28,246.91" fill="#f50f00"/>
<polygon points="745.39,244.33 748.72,242.76 751.61,245.26 748.28,246.84" fill="#ff1000"/>
<polygon points="740.89,246.45 743.78,248.96 743.78,249.03 740.89,246.53" fill="#f59900"/>
<polygon points="743.78,248.96 747.11,247.39 747.11,247.46 743.78,249.03" fill="#f59900"/>
<polygon points="740.89,246.45 744.22,244.88 747.11,247.39 743.78,248.96" fill="#ff9f00"/>
<polygon points="736.39,248.58 739.28,251.09 739.28,251.16 736.39,248.65" fill="#c7f52e"/>
<polygon points="739.28,251.09 742.61,249.51 742.61,249.59 739.28,251.16" fill="#c7f52e"/>
<polygon points="736.39,248.58 739.72,247.01 742.61,249.51 739.28,251.09" fill="#cfff30"/>
<polygon points="731.89,250.7 734.78,253.21 734.78,253.28 731.89,250.78" fill="#3df5b8"/>
<polygon points="734.78,253.21 738.11,251.64 738.11,251.71 734.78,253.28" fill="#3df5b8"/>
<polygon points="731.89,250.7 735.22,249.13 738.11,251.64 734.78,253.21" fill="#40ffbf"/>
<polygon points="727.39,252.83 730.28,255.34 730.28,255.41 727.39,252.9" fill="#00a8f5"/>
<polygon points="730.28,255.34 733.61,253.76 733.61,253.84 730.28,255.41" fill="#00a8f5"/>
<polygon points="727.39,252.83 730.72,251.26 733.61,253.76 730.28,255.34" fill="#00afff"/>
<polygon points="722.89,254.95 725.78,257.46 725.78,257.53 722.89,255.03" fill="#001ff5"/>
<polygon points="725.78,257.46 729.11,255.89 729.11,255.96 725.78,257.53" fill="#001ff5"/>
<polygon points="722.89,254.95 726.22,253.38 729.11,255.89 725.78,257.46" fill="#0020ff"/>
<polygon points="718.39,257.08 721.28,259.59 721.28,259.66 718.39,257.15" fill="#0f0fa2"/>
<polygon points="721.28,259.59 724.61,258.01 724.61,258.09 721.28,259.66" fill="#0f0fa2"/>
<polygon points="718.39,257.08 721.72,255.51 724.61,258.01 721.28,259.59" fill="#0f0fa8"/>
<polygon points="753.79,245.59 756.68,248.1 756.68,248.17 753.79,245.66" fill="#7a0000"/>
<polygon points="756.68,248.1 760.01,246.53 760.01,246.6 756.68,248.17" fill="#7a0000"/>
<polygon points="753.79,245.59 757.12,244.02 760.01,246.53 756.68,248.1" fill="#800000"/>
<polygon points="749.29,247.72 752.18,250.22 752.18,250.3 749.29,247.79" fill="#f50f00"/>
<polygon points="752.18,250.22 755.51,248.65 755.51,248.72 752.18,250.3" fill="#f50f00"/>
<polygon points="749.29,247.72 752.62,246.14 755.51,248.65 752.18,250.22" fill="#ff1000"/>
<polygon points="744.79,249.84 747.68,252.35 747.68,252.42 744.79,249.91" fill="#f59900"/>
<polygon points="747.68,252.35 751.01,250.78 751.01,250.85 747.68,252.42" fill="#f59900"/>
<polygon points="744.79,249.84 748.12,248.27 751.01,250.78 747.68,252.35" fill="#ff9f00"/>
<polygon points="740.29,251.97 743.18,254.47 743.18,254.55 740.29,252.04" fill="#c7f52e"/>
<polygon points="743.18,254.47 746.51,252.9 746.51,252.97 743.18,254.55" fill="#c7f52e"/>
<polygon points="740.29,251.97 743.62,250.39 746.51,252.9 743.18,254.47" fill="#cfff30"/>
<polygon points="735.79,254.09 738.68,256.6 738.68,256.67 735.79,254.16" fill="#3df5b8"/>
<polygon points="738.68,256.6 742.01,255.03 742.01,255.1 738.68,256.67" fill="#3df5b8"/>
<polygon points="735.79,254.09 739.12,252.52 742.01,255.03 738.68,256.6" fill="#40ffbf"/>
<polygon points="731.29,256.22 734.18,258.72 734.18,258.8 731.29,256.29" fill="#00a8f5"/>
<polygon points="734.18,258.72 737.51,257.15 737.51,257.22 734.18,258.8" fill="#00a8f5"/>
<polygon points="731.29,256.22 734.62,254.64 737.51,257.15 734.18,258.72" fill="#00afff"/>
<polygon points="726.79,258.34 729.68,260.85 729.68,260.92 726.79,258.41" fill="#001ff5"/>
<polygon points="729.68,260.85 733.01,259.28 733.01,259.35 729.68,260.92" fill="#001ff5"/>
<polygon points="726.79,258.34 730.12,256.77 733.01,259.28 729.68,260.85" fill="#0020ff"/>
<polygon points="722.29,260.47 725.18,262.97 725.18,263.05 722.29,260.54" fill="#0f0fa2"/>
<polygon points="725.18,262.97 728.51,261.4 728.51,261.47 725.18,263.05" fill="#0f0fa2"/>
<polygon points="722.29,260.47 725.62,258.89 728.51,261.4 725.18,262.97" fill="#0f0fa8"/>
<polygon points="757.69,248.98 760.58,251.49 760.58,251.56 757.69,249.05" fill="#7a0000"/>
<polygon points="760.58,251.49 763.91,249.91 763.91,249.99 760.58,251.56" fill="#7a0000"/>
<polygon points="757.69,248.98 761.02,247.41 763.91,249.91 760.58,251.49" fill="#800000"/>
<polygon points="753.19,251.1 756.08,253.61 756.08,253.68 753.19,251.18" fill="#f50f00"/>
<polygon points="756.08,253.61 759.41,252.04 759.41,252.11 756.08,253.68" fill="#f50f00"/>
<polygon points="753.19,251.1 756.52,249.53 759.41,252.04 756.08,253.61" fill="#ff1000"/>
<polygon points="748.69,253.23 751.58,255.74 751.58,255.81 748.69,253.3" fill="#f59900"/>
<polygon points="751.58,255.74 754.91,254.16 754.91,254.24 751.58,255.81" fill="#f59900"/>
<polygon points="748.69,253.23 752.02,251.66 754.91,254.16 751.58,255.74" fill="#ff9f00"/>
<polygon points="744.19,255.35 747.08,257.86 747.08,257.93 744.19,255.43" fill="#c7f52e"/>
<polygon points="747.08,257.86 750.41,256.29 750.41,256.36 747.08,257.93" fill="#c7f52e"/>
<polygon points="744.19,255.35 747.52,253.78 750.41,256.29 747.08,257.86" fill="#cfff30"/>
<polygon points="739.69,257.48 742.58,259.99 742.58,260.06 739.69,257.55" fill="#3df5b8"/>
<polygon points="742.58,259.99 745.91,258.41 745.91,258.49 742.58,260.06" fill="#3df5b8"/>
<polygon points="739.69,257.48 743.02,255.91 745.91,258.41 742.58,259.99" fill="#40ffbf"/>
<polygon points="735.19,259.6 738.08,262.11 738.08,262.18 735.19,259.68" fill="#00a8f5"/>
<polygon points="738.08,262.11 741.41,260.54 741.41,260.61 738.08,262.18" fill="#00a8f5"/>
<polygon points="735.19,259.6 738.52,258.03 741.41,260.54 738.08,262.11" fill="#00afff"/>
<polygon points="730.69,261.73 733.58,264.24 733.58,264.31 730.69,261.8" fill="#001ff5"/>
<polygon points="733.58,264.24 736.91,262.66 736.91,262.74 733.58,264.31" fill="#001ff5"/>
<polygon points="730.69,261.73 734.02,260.16 736.91,262.66 733.58,264.24" fill="#0020ff"/>
<polygon points="726.19,263.85 729.08,266.36 729.08,266.43 726.19,263.93" fill="#0f0fa2"/>
<polygon points="729.08,266.36 732.41,264.79 732.41,264.86 729.08,266.43" fill="#0f0fa2"/>
<polygon points="726.19,263.85 729.52,262.28 732.41,264.79 729.08,266.36" fill="#0f0fa8"/>
<polygon points="761.59,252.37 764.48,254.87 764.48,254.95 761.59,252.44" fill="#7a0000"/>
<polygon points="764.48,254.87 767.81,253.3 767.81,253.37 764.48,254.95" fill="#7a0000"/>
<polygon points="761.59,252.37 764.92,250.79 767.81,253.3 764.48,254.87" fill="#800000"/>
<polygon points="757.09,254.49 759.98,257 759.98,257.07 757.09,254.56" fill="#f50f00"/>
<polygon points="759.98,257 763.31,255.43 763.31,255.5 759.98,257.07" fill="#f50f00"/>
<polygon points="757.09,254.49 760.42,252.92 763.31,255.43 759.98,257" fill="#ff1000"/>
<polygon points="752.59,256.62 755.48,259.12 755.48,259.2 752.59,256.69" fill="#f59900"/>
<polygon points="755.48,259.12 758.81,257.55 758.81,257.62 755.48,259.2" fill="#f59900"/>
<polygon points="752.59,256.62 755.92,255.04 758.81,257.55 755.48,259.12" fill="#ff9f00"/>
<polygon points="748.09,258.74 750.98,261.25 750.98,261.32 748.09,258.81" fill="#c7f52e"/>
<polygon points="750.98,261.25 754.31,259.68 754.31,259.75 750.98,261.32" fill="#c7f52e"/>
<polygon points="748.09,258.74 751.42,257.17 754.31,259.68 750.98,261.25" fill="#cfff30"/>
<polygon points="743.59,260.87 746.48,263.37 746.48,263.45 743.59,260.94" fill="#3df5b8"/>
<polygon points="746.48,263.37 749.81,261.8 749.81,261.87 746.48,263.45" fill="#3df5b8"/>
<polygon points="743.59,260.87 746.92,259.29 749.81,261.8 746.48,263.37" fill="#40ffbf"/>
<polygon points="739.09,262.99 741.98,265.5 741.98,265.57 739.09,263.06" fill="#00a8f5"/>
<polygon points="741.98,265.5 745.31,263.93 745.31,264 741.98,265.57" fill="#00a8f5"/>
<polygon points="739.09,262.99 742.42,261.42 745.31,263.93 741.98,265.5" fill="#00afff"/>
<polygon points="734.59,265.12 737.48,267.62 737.48,267.7 734.59,265.19" fill="#001ff5"/>
<polygon points="737.48,267.62 740.81,266.05 740.81,266.12 737.48,267.7" fill="#001ff5"/>
<polygon points="734.59,265.12 737.92,263.54 740.81,266.05 737.48,267.62" fill="#0020ff"/>
<polygon points="730.09,267.24 732.98,269.75 732.98,269.82 730.09,267.31" fill="#0f0fa2"/>
<polygon points="732.98,269.75 736.31,268.18 736.31,268.25 732.98,269.82" fill="#0f0fa2"/>
<polygon points="730.09,267.24 733.42,265.67 736.31,268.18 732.98,269.75" fill="#0f0fa8"/>
<polygon points="765.49,255.75 768.38,258.26 768.38,258.33 765.49,255.83" fill="#7a0000"/>
<polygon points="768.38,258.26 771.71,256.69 771.71,256.76 768.38,258.33" fill="#7a0000"/>
<polygon points="765.49,255.75 768.82,254.18 771.71,256.69 768.38,258.26" fill="#800000"/>
<polygon points="760.99,257.88 763.88,260.39 763.88,260.46 760.99,257.95" fill="#f50f00"/>
<polygon points="763.88,260.39 767.21,258.81 767.21,258.89 763.88,260.46" fill="#f50f00"/>
<polygon points="760.99,257.88 764.32,256.31 767.21,258.81 763.88,260.39" fill="#ff1000"/>
<polygon points="756.49,260 759.38,262.51 759.38,262.58 756.49,260.08" fill="#f59900"/>
<polygon points="759.38,262.51 762.71,260.94 762.71,261.01 759.38,262.58" fill="#f59900"/>
<polygon points="756.49,260 759.82,258.43 762.71,260.94 759.38,262.51" fill="#ff9f00"/>
<polygon points="751.99,262.13 754.88,264.64 754.88,264.71 751.99,262.2" fill="#c7f52e"/>
<polygon points="754.88,264.64 758.21,263.06 758.21,263.14 754.88,264.71" fill="#c7f52e"/>
<polygon points="751.99,262.13 755.32,260.56 758.21,263.06 754.88,264.64" fill="#cfff30"/>
<polygon points="747.49,264.25 750.38,266.76 750.38,266.83 747.49,264.33" fill="#3df5b8"/>
<polygon points="750.38,266.76 753.71,265.19 753.71,265.26 750.38,266.83" fill="#3df5b8"/>
<polygon points="747.49,264.25 750.82,262.68 753.71,265.19 750.38,266.76" fill="#40ffbf"/>
<polygon points="742.99,266.38 745.88,268.89 745.88,268.96 742.99,266.45" fill="#00a8f5"/>
<polygon points="745.88,268.89 749.21,267.31 749.21,267.39 745.88,268.96" fill="#00a8f5"/>
<polygon points="742.99,266.38 746.32,264.81 749.21,267.31 745.88,268.89" fill="#00afff"/>
<polygon points="738.49,268.5 741.38,271.01 741.38,271.08 738.49,268.58" fill="#001ff5"/>
<polygon points="741.38,271.01 744.71,269.44 744.71,269.51 741.38,271.08" fill="#001ff5"/>
<polygon points="738.49,268.5 741.82,266.93 744.71,269.44 741.38,271.01" fill="#0020ff"/>
<polygon points="733.99,270.63 736.88,273.14 736.88,273.21 733.99,270.7" fill="#0f0fa2"/>
<polygon points="736.88,273.14 740.21,271.56 740.21,271.64 736.88,273.21" fill="#0f0fa2"/>
<polygon points="733.99,270.63 737.32,269.06 740.21,271.56 736.88,273.14" fill="#0f0fa8"/>
<polygon points="769.39,259.14 772.28,261.65 772.28,261.72 769.39,259.21" fill="#7a0000"/>
<polygon points="772.28,261.65 775.61,260.08 775.61,260.15 772.28,261.72" fill="#7a0000"/>
<polygon points="769.39,259.14 772.72,257.57 775.61,260.08 772.28,261.65" fill="#800000"/>
<polygon points="764.89,261.27 767.78,263.77 767.78,263.85 764.89,261.34" fill="#f50f00"/>
<polygon points="767.78,263.77 771.11,262.2 771.11,262.27 767.78,263.85" fill="#f50f00"/>
<polygon points="764.89,261.27 768.22,259.69 771.11,262.2 767.78,263.77" fill="#ff1000"/>
<polygon points="760.39,263.39 763.28,265.9 763.28,265.97 760.39,263.46" fill="#f59900"/>
<polygon points="763.28,265.9 766.61,264.33 766.61,264.4 763.28,265.97" fill="#f59900"/>
<polygon points="760.39,263.39 763.72,261.82 766.61,264.33 763.28,265.9" fill="#ff9f00"/>
<polygon points="755.89,265.52 758.78,268.02 758.78,268.1 755.89,265.59" fill="#c7f52e"/>
<polygon points="758.78,268.02 762.11,266.45 762.11,266.52 758.78,268.1" fill="#c7f52e"/>
<polygon points="755.89,265.52 759.22,263.94 762.11,266.45 758.78,268.02" fill="#cfff30"/>
<polygon points="751.39,267.64 754.28,270.15 754.28,270.22 751.39,267.71" fill="#3df5b8"/>
<polygon points="754.28,270.15 757.61,268.58 757.61,268.65 754.28,270.22" fill="#3df5b8"/>
<polygon points="751.39,267.64 754.72,266.07 757.61,268.58 754.28,270.15" fill="#40ffbf"/>
<polygon points="746.89,269.77 749.78,272.27 749.78,272.35 746.89,269.84" fill="#00a8f5"/>
<polygon points="749.78,272.27 753.11,270.7 753.11,270.77 749.78,272.35" fill="#00a8f5"/>
<polygon points="746.89,269.77 750.22,268.19 753.11,270.7 749.78,272.27" fill="#00afff"/>
<polygon points="742.39,271.89 745.28,274.4 745.28,274.47 742.39,271.96" fill="#001ff5"/>
<polygon points="745.28,274.4 748.61,272.83 748.61,272.9 745.28,274.47" fill="#001ff5"/>
<polygon points="742.39,271.89 745.72,270.32 748.61,272.83 745.28,274.4" fill="#0020ff"/>
<polygon points="737.89,274.02 740.78,276.52 740.78,276.6 737.89,274.09" fill="#0f0fa2"/>
<polygon points="740.78,276.52 744.11,274.95 744.11,275.02 740.78,276.6" fill="#0f0fa2"/>
<polygon points="737.89,274.02 741.22,272.44 744.11,274.95 740.78,276.52" fill="#0f0fa8"/>
<polygon points="773.29,262.53 776.18,265.04 776.18,265.11 773.29,262.6" fill="#7a0000"/>
<polygon points="776.18,265.04 779.51,263.46 779.51,263.54 776.18,265.11" fill="#7a0000"/>
<polygon points="773.29,262.53 776.62,260.96 779.51,263.46 776.18,265.04" fill="#800000"/>
<polygon points="768.79,264.65 771.68,267.16 771.68,267.23 768.79,264.73" fill="#f50f00"/>
<polygon points="771.68,267.16 775.01,265.59 775.01,265.66 771.68,267.23" fill="#f50f00"/>
<polygon points="768.79,264.65 772.12,263.08 775.01,265.59 771.68,267.16" fill="#ff1000"/>
<polygon points="764.29,266.78 767.18,269.29 767.18,269.36 764.29,266.85" fill="#f59900"/>
<polygon points="767.18,269.29 770.51,267.71 770.51,267.79 767.18,269.36" fill="#f59900"/>
<polygon points="764.29,266.78 767.62,265.21 770.51,267.71 767.18,269.29" fill="#ff9f00"/>
<polygon points="759.79,268.9 762.68,271.41 762.68,271.48 759.79,268.98" fill="#c7f52e"/>
<polygon points="762.68,271.41 766.01,269.84 766.01,269.91 762.68,271.48" fill="#c7f52e"/>
<polygon points="759.79,268.9 763.12,267.33 766.01,269.84 762.68,271.41" fill="#cfff30"/>
<polygon points="755.29,271.03 758.18,273.54 758.18,273.61 755.29,271.1" fill="#3df5b8"/>
<polygon points="758.18,273.54 761.51,271.96 761.51,272.04 758.18,273.61" fill="#3df5b8"/>
<polygon points="755.29,271.03 758.62,269.46 761.51,271.96 758.18,273.54" fill="#40ffbf"/>
<polygon points="750.79,273.15 753.68,275.66 753.68,275.73 750.79,273.23" fill="#00a8f5"/>
<polygon points="753.68,275.66 757.01,274.09 757.01,274.16 753.68,275.73" fill="#00a8f5"/>
<polygon points="750.79,273.15 754.12,271.58 757.01,274.09 753.68,275.66" fill="#00afff"/>
<polygon points="746.29,275.28 749.18,277.79 749.18,277.86 746.29,275.35" fill="#001ff5"/>
<polygon points="749.18,277.79 752.51,276.21 752.51,276.29 749.18,277.86" fill="#001ff5"/>
<polygon points="746.29,275.28 749.62,273.71 752.51,276.21 749.18,277.79" fill="#0020ff"/>
<polygon points="741.79,277.4 744.68,279.91 744.68,279.98 741.79,277.48" fill="#0f0fa2"/>
<polygon points="744.68,279.91 748.01,278.34 748.01,278.41 744.68,279.98" fill="#0f0fa2"/>
<polygon points="741.79,277.4 745.12,275.83 748.01,278.34 744.68,279.91" fill="#0f0fa8"/>
</g>
<path d="M713.4 241.6L744.6 268.7M744.6 268.7L780.6 251.7M744.6 292.7L744.6 268.7" fill="none" stroke="#222" stroke-opacity="0.8" stroke-width="0.48"/>
<text x="637" y="240.4" font-size="11.5" text-anchor="start" font-family="'Liberation Serif',serif" >Im[ρ]</text>
<text x="626.1" y="268.3" font-size="10.8" text-anchor="end" font-family="'Liberation Sans',sans-serif"  stroke="#000" stroke-width="0.1">0.5</text>
<text x="626.1" y="289.85" font-size="10.8" text-anchor="end" font-family="'Liberation Sans',sans-serif"  stroke="#000" stroke-width="0.1">0</text>
<text x="626.1" y="311.4" font-size="10.8" text-anchor="end" font-family="'Liberation Sans',sans-serif"  stroke="#000" stroke-width="0.1">-0.5</text>
<text x="627.8" y="326.35" font-size="9.9" text-anchor="end" font-family="'Liberation Sans',sans-serif"  stroke="#000" stroke-width="0.1">-7</text>
<text x="634.77" y="332.05" font-size="9.9" text-anchor="end" font-family="'Liberation Sans',sans-serif"  stroke="#000" stroke-width="0.1">-5</text>
<text x="641.74" y="337.75" font-size="9.9" text-anchor="end" font-family="'Liberation Sans',sans-serif"  stroke="#000" stroke-width="0.1">-3</text>
<text x="648.71" y="343.45" font-size="9.9" text-anchor="end" font-family="'Liberation Sans',sans-serif"  stroke="#000" stroke-width="0.1">-1</text>
<text x="655.68" y="349.15" font-size="9.9" text-anchor="end" font-family="'Liberation Sans',sans-serif"  stroke="#000" stroke-width="0.1">1</text>
<text x="662.65" y="354.85" font-size="9.9" text-anchor="end" font-family="'Liberation Sans',sans-serif"  stroke="#000" stroke-width="0.1">3</text>
<text x="669.62" y="360.55" font-size="9.9" text-anchor="end" font-family="'Liberation Sans',sans-serif"  stroke="#000" stroke-width="0.1">5</text>
<text x="676.59" y="366.25" font-size="9.9" text-anchor="end" font-family="'Liberation Sans',sans-serif"  stroke="#000" stroke-width="0.1">7</text>
<text x="691.2" y="369.25" font-size="9.9" text-anchor="start" font-family="'Liberation Sans',sans-serif"  stroke="#000" stroke-width="0.1">-7</text>
<text x="699.15" y="365.32" font-size="9.9" text-anchor="start" font-family="'Liberation Sans',sans-serif"  stroke="#000" stroke-width="0.1">-5</text>
<text x="707.1" y="361.39" font-size="9.9" text-anchor="start" font-family="'Liberation Sans',sans-serif"  stroke="#000" stroke-width="0.1">-3</text>
<text x="715.05" y="357.46" font-size="9.9" text-anchor="start" font-family="'Liberation Sans',sans-serif"  stroke="#000" stroke-width="0.1">-1</text>
<text x="723" y="353.53" font-size="9.9" text-anchor="start" font-family="'Liberation Sans',sans-serif"  stroke="#000" stroke-width="0.1">1</text>
<text x="730.95" y="349.6" font-size="9.9" text-anchor="start" font-family="'Liberation Sans',sans-serif"  stroke="#000" stroke-width="0.1">3</text>
<text x="738.9" y="345.67" font-size="9.9" text-anchor="start" font-family="'Liberation Sans',sans-serif"  stroke="#000" stroke-width="0.1">5</text>
<text x="746.85" y="341.74" font-size="9.9" text-anchor="start" font-family="'Liberation Sans',sans-serif"  stroke="#000" stroke-width="0.1">7</text>
<text x="618.2" y="352.2" font-size="10" text-anchor="middle" font-family="'Liberation Sans',sans-serif" >⟨<tspan font-style="italic">l</tspan>/2|</text>
<text x="739.2" y="365.7" font-size="10" text-anchor="middle" font-family="'Liberation Sans',sans-serif" >|<tspan font-style="italic">l</tspan>/2⟩</text>
</g>
</svg>
</body></html>
